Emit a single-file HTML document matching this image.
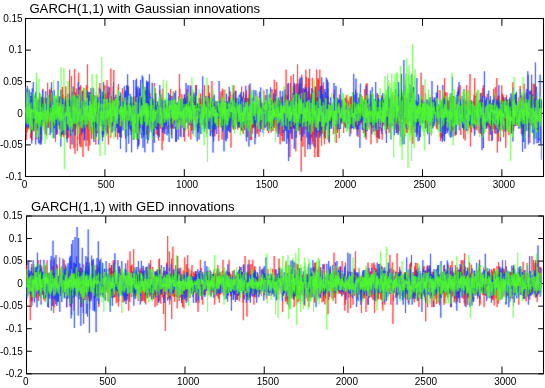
<!DOCTYPE html>
<html><head><meta charset="utf-8"><style>
html,body{margin:0;padding:0;background:#fff;width:545px;height:388px;overflow:hidden}
svg{display:block}
text{font-family:"Liberation Sans",Arial,Helvetica,sans-serif;font-size:10px;fill:#000}
</style></head><body>
<svg width="545" height="388" viewBox="0 0 545 388">
<rect width="545" height="388" fill="#fff"/>
<rect x="25.50" y="18.50" width="518.00" height="158.00" fill="none" stroke="#000" stroke-width="1.05"/>
<line x1="25.50" y1="176.50" x2="25.50" y2="169.20" stroke="#000" stroke-width="1"/>
<line x1="25.50" y1="18.50" x2="25.50" y2="25.80" stroke="#000" stroke-width="1"/>
<text x="24.60" y="187.60" text-anchor="middle">0</text>
<line x1="104.90" y1="176.50" x2="104.90" y2="169.20" stroke="#000" stroke-width="1"/>
<line x1="104.90" y1="18.50" x2="104.90" y2="25.80" stroke="#000" stroke-width="1"/>
<text x="106.15" y="187.60" text-anchor="middle">500</text>
<line x1="184.30" y1="176.50" x2="184.30" y2="169.20" stroke="#000" stroke-width="1"/>
<line x1="184.30" y1="18.50" x2="184.30" y2="25.80" stroke="#000" stroke-width="1"/>
<text x="187.00" y="187.60" text-anchor="middle">1000</text>
<line x1="263.70" y1="176.50" x2="263.70" y2="169.20" stroke="#000" stroke-width="1"/>
<line x1="263.70" y1="18.50" x2="263.70" y2="25.80" stroke="#000" stroke-width="1"/>
<text x="266.90" y="187.60" text-anchor="middle">1500</text>
<line x1="343.10" y1="176.50" x2="343.10" y2="169.20" stroke="#000" stroke-width="1"/>
<line x1="343.10" y1="18.50" x2="343.10" y2="25.80" stroke="#000" stroke-width="1"/>
<text x="345.30" y="187.60" text-anchor="middle">2000</text>
<line x1="422.50" y1="176.50" x2="422.50" y2="169.20" stroke="#000" stroke-width="1"/>
<line x1="422.50" y1="18.50" x2="422.50" y2="25.80" stroke="#000" stroke-width="1"/>
<text x="424.60" y="187.60" text-anchor="middle">2500</text>
<line x1="501.89" y1="176.50" x2="501.89" y2="169.20" stroke="#000" stroke-width="1"/>
<line x1="501.89" y1="18.50" x2="501.89" y2="25.80" stroke="#000" stroke-width="1"/>
<text x="503.89" y="187.60" text-anchor="middle">3000</text>
<line x1="25.50" y1="18.50" x2="30.80" y2="18.50" stroke="#000" stroke-width="1"/>
<line x1="543.50" y1="18.50" x2="538.20" y2="18.50" stroke="#000" stroke-width="1"/>
<text x="22.70" y="21.80" text-anchor="end">0.15</text>
<line x1="25.50" y1="50.10" x2="30.80" y2="50.10" stroke="#000" stroke-width="1"/>
<line x1="543.50" y1="50.10" x2="538.20" y2="50.10" stroke="#000" stroke-width="1"/>
<text x="22.70" y="53.40" text-anchor="end">0.1</text>
<line x1="25.50" y1="81.70" x2="30.80" y2="81.70" stroke="#000" stroke-width="1"/>
<line x1="543.50" y1="81.70" x2="538.20" y2="81.70" stroke="#000" stroke-width="1"/>
<text x="22.70" y="85.00" text-anchor="end">0.05</text>
<line x1="25.50" y1="113.30" x2="30.80" y2="113.30" stroke="#000" stroke-width="1"/>
<line x1="543.50" y1="113.30" x2="538.20" y2="113.30" stroke="#000" stroke-width="1"/>
<text x="22.70" y="116.60" text-anchor="end">0</text>
<line x1="25.50" y1="144.90" x2="30.80" y2="144.90" stroke="#000" stroke-width="1"/>
<line x1="543.50" y1="144.90" x2="538.20" y2="144.90" stroke="#000" stroke-width="1"/>
<text x="22.70" y="148.20" text-anchor="end">-0.05</text>
<line x1="25.50" y1="176.50" x2="30.80" y2="176.50" stroke="#000" stroke-width="1"/>
<line x1="543.50" y1="176.50" x2="538.20" y2="176.50" stroke="#000" stroke-width="1"/>
<text x="22.70" y="179.80" text-anchor="end">-0.1</text>
<text x="29.4" y="12.8" style="font-size:13.15px">GARCH(1,1) with Gaussian innovations</text>
<rect x="26.50" y="216.00" width="517.00" height="157.80" fill="none" stroke="#000" stroke-width="1.05"/>
<line x1="26.50" y1="373.80" x2="26.50" y2="366.50" stroke="#000" stroke-width="1"/>
<line x1="26.50" y1="216.00" x2="26.50" y2="223.30" stroke="#000" stroke-width="1"/>
<text x="25.90" y="384.90" text-anchor="middle">0</text>
<line x1="105.75" y1="373.80" x2="105.75" y2="366.50" stroke="#000" stroke-width="1"/>
<line x1="105.75" y1="216.00" x2="105.75" y2="223.30" stroke="#000" stroke-width="1"/>
<text x="107.65" y="384.90" text-anchor="middle">500</text>
<line x1="184.99" y1="373.80" x2="184.99" y2="366.50" stroke="#000" stroke-width="1"/>
<line x1="184.99" y1="216.00" x2="184.99" y2="223.30" stroke="#000" stroke-width="1"/>
<text x="188.19" y="384.90" text-anchor="middle">1000</text>
<line x1="264.24" y1="373.80" x2="264.24" y2="366.50" stroke="#000" stroke-width="1"/>
<line x1="264.24" y1="216.00" x2="264.24" y2="223.30" stroke="#000" stroke-width="1"/>
<text x="267.94" y="384.90" text-anchor="middle">1500</text>
<line x1="343.48" y1="373.80" x2="343.48" y2="366.50" stroke="#000" stroke-width="1"/>
<line x1="343.48" y1="216.00" x2="343.48" y2="223.30" stroke="#000" stroke-width="1"/>
<text x="346.83" y="384.90" text-anchor="middle">2000</text>
<line x1="422.73" y1="373.80" x2="422.73" y2="366.50" stroke="#000" stroke-width="1"/>
<line x1="422.73" y1="216.00" x2="422.73" y2="223.30" stroke="#000" stroke-width="1"/>
<text x="425.93" y="384.90" text-anchor="middle">2500</text>
<line x1="501.98" y1="373.80" x2="501.98" y2="366.50" stroke="#000" stroke-width="1"/>
<line x1="501.98" y1="216.00" x2="501.98" y2="223.30" stroke="#000" stroke-width="1"/>
<text x="505.28" y="384.90" text-anchor="middle">3000</text>
<line x1="26.50" y1="216.00" x2="31.80" y2="216.00" stroke="#000" stroke-width="1"/>
<line x1="543.50" y1="216.00" x2="538.20" y2="216.00" stroke="#000" stroke-width="1"/>
<text x="22.70" y="219.30" text-anchor="end">0.15</text>
<line x1="26.50" y1="238.54" x2="31.80" y2="238.54" stroke="#000" stroke-width="1"/>
<line x1="543.50" y1="238.54" x2="538.20" y2="238.54" stroke="#000" stroke-width="1"/>
<text x="22.70" y="241.84" text-anchor="end">0.1</text>
<line x1="26.50" y1="261.09" x2="31.80" y2="261.09" stroke="#000" stroke-width="1"/>
<line x1="543.50" y1="261.09" x2="538.20" y2="261.09" stroke="#000" stroke-width="1"/>
<text x="22.70" y="264.39" text-anchor="end">0.05</text>
<line x1="26.50" y1="283.63" x2="31.80" y2="283.63" stroke="#000" stroke-width="1"/>
<line x1="543.50" y1="283.63" x2="538.20" y2="283.63" stroke="#000" stroke-width="1"/>
<text x="22.70" y="286.93" text-anchor="end">0</text>
<line x1="26.50" y1="306.17" x2="31.80" y2="306.17" stroke="#000" stroke-width="1"/>
<line x1="543.50" y1="306.17" x2="538.20" y2="306.17" stroke="#000" stroke-width="1"/>
<text x="22.70" y="309.47" text-anchor="end">-0.05</text>
<line x1="26.50" y1="328.71" x2="31.80" y2="328.71" stroke="#000" stroke-width="1"/>
<line x1="543.50" y1="328.71" x2="538.20" y2="328.71" stroke="#000" stroke-width="1"/>
<text x="22.70" y="332.01" text-anchor="end">-0.1</text>
<line x1="26.50" y1="351.26" x2="31.80" y2="351.26" stroke="#000" stroke-width="1"/>
<line x1="543.50" y1="351.26" x2="538.20" y2="351.26" stroke="#000" stroke-width="1"/>
<text x="22.70" y="354.56" text-anchor="end">-0.15</text>
<line x1="26.50" y1="373.80" x2="31.80" y2="373.80" stroke="#000" stroke-width="1"/>
<line x1="543.50" y1="373.80" x2="538.20" y2="373.80" stroke="#000" stroke-width="1"/>
<text x="22.70" y="377.10" text-anchor="end">-0.2</text>
<text x="30.9" y="210.9" style="font-size:13.15px">GARCH(1,1) with GED innovations</text>
<clipPath id="c1"><rect x="25.0" y="18.5" width="518.5" height="158.0"/></clipPath>
<clipPath id="c2"><rect x="26.0" y="216.0" width="517.5" height="157.8"/></clipPath>
<filter id="bl" x="-1%" y="-5%" width="102%" height="110%" color-interpolation-filters="sRGB"><feConvolveMatrix order="3" kernelMatrix="0.0048 0.0304 0.0048 0.1104 0.6992 0.1104 0.0048 0.0304 0.0048" divisor="1"/></filter>
<g clip-path="url(#c1)"><g filter="url(#bl)" shape-rendering="auto">
<polyline points="25.5,113.3 25.7,124.4 25.8,112.7 26.0,120.1 26.1,111.9 26.3,103.5 26.5,140.0 26.6,116.6 26.8,111.4 26.9,119.7 27.1,132.4 27.2,121.6 27.4,113.6 27.6,114.6 27.7,127.5 27.9,129.6 28.0,119.2 28.2,127.2 28.4,115.3 28.5,106.7 28.7,110.8 28.8,128.4 29.0,104.2 29.2,121.9 29.3,118.8 29.5,104.9 29.6,115.7 29.8,116.7 29.9,116.0 30.1,117.8 30.3,113.6 30.4,100.9 30.6,127.8 30.7,138.2 30.9,111.8 31.1,138.3 31.2,115.4 31.4,106.3 31.5,112.8 31.7,122.2 31.9,112.2 32.0,140.7 32.2,135.7 32.3,103.3 32.5,111.4 32.6,96.2 32.8,115.4 33.0,119.7 33.1,122.1 33.3,114.9 33.4,121.8 33.6,113.2 33.8,131.3 33.9,122.4 34.1,120.8 34.2,116.0 34.4,104.7 34.6,121.6 34.7,115.3 34.9,96.5 35.0,113.7 35.2,105.6 35.3,113.1 35.5,108.5 35.7,103.4 35.8,107.5 36.0,101.8 36.1,126.4 36.3,105.1 36.5,130.4 36.6,125.2 36.8,139.4 36.9,112.8 37.1,125.8 37.3,127.7 37.4,114.0 37.6,122.1 37.7,110.8 37.9,110.2 38.0,102.8 38.2,131.4 38.4,114.3 38.5,99.7 38.7,124.1 38.8,121.9 39.0,112.7 39.2,100.3 39.3,113.9 39.5,107.0 39.6,106.7 39.8,128.5 40.0,125.9 40.1,118.2 40.3,143.0 40.4,112.2 40.6,115.1 40.7,113.4 40.9,117.3 41.1,105.6 41.2,116.3 41.4,96.8 41.5,120.7 41.7,107.4 41.9,126.4 42.0,118.0 42.2,111.7 42.3,122.3 42.5,107.7 42.7,105.6 42.8,113.3 43.0,88.8 43.1,125.1 43.3,124.4 43.4,102.8 43.6,108.2 43.8,121.7 43.9,97.9 44.1,124.0 44.2,115.6 44.4,116.8 44.6,114.2 44.7,106.4 44.9,107.3 45.0,104.1 45.2,134.4 45.3,107.6 45.5,124.0 45.7,115.7 45.8,125.1 46.0,99.7 46.1,114.9 46.3,132.0 46.5,115.5 46.6,135.9 46.8,108.5 46.9,110.4 47.1,104.4 47.3,98.6 47.4,118.0 47.6,82.8 47.7,120.7 47.9,117.3 48.0,101.3 48.2,119.6 48.4,120.3 48.5,127.7 48.7,100.5 48.8,122.0 49.0,118.4 49.2,108.6 49.3,106.3 49.5,113.9 49.6,112.8 49.8,113.9 50.0,129.7 50.1,112.4 50.3,127.4 50.4,108.3 50.6,105.7 50.7,126.8 50.9,90.5 51.1,113.7 51.2,87.5 51.4,127.6 51.5,102.3 51.7,116.8 51.9,106.1 52.0,126.4 52.2,123.0 52.3,118.6 52.5,117.9 52.7,114.6 52.8,113.7 53.0,115.1 53.1,121.2 53.3,124.6 53.4,110.3 53.6,124.8 53.8,110.6 53.9,112.4 54.1,118.0 54.2,111.5 54.4,118.3 54.6,119.7 54.7,110.6 54.9,118.1 55.0,108.1 55.2,108.4 55.4,106.2 55.5,141.9 55.7,101.8 55.8,102.0 56.0,107.8 56.1,119.7 56.3,110.7 56.5,114.6 56.6,121.0 56.8,112.2 56.9,113.9 57.1,101.4 57.3,108.4 57.4,106.4 57.6,134.2 57.7,127.4 57.9,103.3 58.1,113.5 58.2,114.7 58.4,96.0 58.5,110.1 58.7,113.7 58.8,115.2 59.0,97.5 59.2,124.9 59.3,105.2 59.5,123.6 59.6,129.0 59.8,107.1 60.0,115.8 60.1,123.1 60.3,105.6 60.4,112.4 60.6,111.1 60.8,117.7 60.9,90.0 61.1,95.0 61.2,112.0 61.4,136.9 61.5,122.4 61.7,105.7 61.9,124.3 62.0,100.0 62.2,117.6 62.3,134.9 62.5,86.9 62.7,106.8 62.8,117.0 63.0,104.9 63.1,94.6 63.3,135.2 63.5,108.6 63.6,132.2 63.8,117.5 63.9,136.6 64.1,103.0 64.2,137.2 64.4,119.1 64.6,108.3 64.7,114.6 64.9,120.2 65.0,113.6 65.2,99.1 65.4,96.2 65.5,116.7 65.7,114.4 65.8,86.3 66.0,107.6 66.2,115.5 66.3,112.1 66.5,112.3 66.6,138.4 66.8,106.1 66.9,130.1 67.1,120.6 67.3,138.9 67.4,120.6 67.6,94.2 67.7,123.4 67.9,107.7 68.1,114.4 68.2,115.0 68.4,103.0 68.5,106.7 68.7,137.7 68.9,109.2 69.0,111.3 69.2,118.0 69.3,111.7 69.5,125.3 69.6,69.6 69.8,125.8 70.0,121.3 70.1,130.1 70.3,149.0 70.4,117.2 70.6,101.1 70.8,126.8 70.9,134.7 71.1,110.2 71.2,96.6 71.4,76.2 71.6,114.6 71.7,123.6 71.9,113.1 72.0,108.6 72.2,102.2 72.3,109.2 72.5,128.8 72.7,100.3 72.8,117.8 73.0,132.1 73.1,129.7 73.3,130.5 73.5,99.1 73.6,116.6 73.8,111.9 73.9,147.8 74.1,109.9 74.3,101.3 74.4,125.0 74.6,69.0 74.7,95.2 74.9,116.0 75.0,153.8 75.2,92.3 75.4,118.5 75.5,120.0 75.7,123.4 75.8,122.7 76.0,112.8 76.2,95.5 76.3,95.0 76.5,125.5 76.6,88.5 76.8,127.9 77.0,101.1 77.1,102.5 77.3,147.5 77.4,151.0 77.6,106.3 77.7,139.1 77.9,115.5 78.1,96.1 78.2,105.0 78.4,117.4 78.5,126.3 78.7,72.7 78.9,106.5 79.0,108.4 79.2,124.7 79.3,112.3 79.5,143.9 79.7,106.6 79.8,116.8 80.0,146.5 80.1,126.4 80.3,100.4 80.4,118.6 80.6,85.2 80.8,128.1 80.9,99.6 81.1,147.2 81.2,119.7 81.4,135.6 81.6,91.4 81.7,119.2 81.9,123.4 82.0,120.5 82.2,129.2 82.3,123.0 82.5,90.7 82.7,92.3 82.8,115.6 83.0,157.0 83.1,117.0 83.3,116.3 83.5,113.3 83.6,109.2 83.8,100.9 83.9,87.8 84.1,109.6 84.3,132.2 84.4,122.4 84.6,100.4 84.7,133.2 84.9,115.9 85.0,105.4 85.2,115.5 85.4,128.4 85.5,126.4 85.7,110.4 85.8,131.2 86.0,146.5 86.2,100.5 86.3,85.3 86.5,120.6 86.6,92.4 86.8,102.3 87.0,112.3 87.1,112.1 87.3,140.5 87.4,64.3 87.6,122.3 87.7,127.5 87.9,130.8 88.1,104.3 88.2,148.3 88.4,150.9 88.5,120.2 88.7,113.4 88.9,116.0 89.0,109.9 89.2,120.6 89.3,97.6 89.5,115.9 89.7,109.6 89.8,145.6 90.0,100.4 90.1,116.8 90.3,117.1 90.4,116.7 90.6,130.6 90.8,92.5 90.9,104.1 91.1,124.9 91.2,104.2 91.4,96.8 91.6,138.9 91.7,118.9 91.9,126.0 92.0,111.0 92.2,107.6 92.4,119.4 92.5,98.4 92.7,88.0 92.8,110.7 93.0,103.4 93.1,111.4 93.3,109.4 93.5,120.3 93.6,114.7 93.8,99.1 93.9,119.2 94.1,97.8 94.3,95.9 94.4,130.2 94.6,121.8 94.7,95.6 94.9,115.6 95.1,119.6 95.2,132.6 95.4,111.3 95.5,102.0 95.7,119.8 95.8,144.5 96.0,95.7 96.2,127.2 96.3,113.0 96.5,105.8 96.6,99.5 96.8,94.7 97.0,110.4 97.1,108.3 97.3,112.5 97.4,129.2 97.6,133.2 97.8,109.5 97.9,120.4 98.1,116.4 98.2,129.6 98.4,109.0 98.5,107.5 98.7,106.5 98.9,116.8 99.0,139.4 99.2,87.8 99.3,125.0 99.5,102.0 99.7,105.2 99.8,83.0 100.0,122.2 100.1,95.0 100.3,116.2 100.5,112.1 100.6,114.3 100.8,113.8 100.9,116.8 101.1,117.2 101.2,92.1 101.4,125.6 101.6,100.4 101.7,121.0 101.9,104.2 102.0,105.6 102.2,134.7 102.4,115.2 102.5,106.8 102.7,123.4 102.8,102.8 103.0,128.1 103.2,137.2 103.3,125.1 103.5,111.8 103.6,108.0 103.8,112.6 103.9,109.3 104.1,95.6 104.3,114.1 104.4,119.7 104.6,105.0 104.7,109.9 104.9,85.3 105.1,115.6 105.2,93.3 105.4,118.2 105.5,118.1 105.7,95.2 105.9,105.5 106.0,107.2 106.2,102.1 106.3,105.6 106.5,107.8 106.6,120.9 106.8,106.6 107.0,80.0 107.1,114.3 107.3,131.6 107.4,132.9 107.6,114.4 107.8,111.7 107.9,118.3 108.1,92.1 108.2,127.1 108.4,144.5 108.6,117.7 108.7,124.0 108.9,95.5 109.0,114.0 109.2,113.3 109.3,118.8 109.5,87.4 109.7,105.2 109.8,121.3 110.0,127.5 110.1,109.4 110.3,113.1 110.5,117.2 110.6,123.5 110.8,137.6 110.9,68.6 111.1,113.8 111.3,104.2 111.4,96.0 111.6,99.7 111.7,111.0 111.9,124.8 112.0,124.9 112.2,123.8 112.4,121.9 112.5,109.1 112.7,125.5 112.8,101.7 113.0,99.0 113.2,127.0 113.3,86.3 113.5,120.1 113.6,111.6 113.8,70.0 114.0,130.5 114.1,117.2 114.3,118.1 114.4,115.8 114.6,123.8 114.7,118.1 114.9,113.9 115.1,97.2 115.2,102.0 115.4,129.3 115.5,119.3 115.7,137.0 115.9,119.0 116.0,125.1 116.2,105.7 116.3,123.5 116.5,97.8 116.7,109.8 116.8,101.2 117.0,98.5 117.1,111.4 117.3,116.4 117.4,106.0 117.6,139.5 117.8,122.1 117.9,104.7 118.1,133.1 118.2,102.6 118.4,83.9 118.6,117.0 118.7,91.0 118.9,101.3 119.0,98.0 119.2,133.1 119.3,119.3 119.5,120.1 119.7,106.6 119.8,96.1 120.0,101.6 120.1,118.2 120.3,112.2 120.5,130.7 120.6,108.6 120.8,123.2 120.9,135.6 121.1,117.7 121.3,127.5 121.4,137.8 121.6,124.8 121.7,127.7 121.9,110.5 122.0,118.0 122.2,98.7 122.4,91.9 122.5,88.2 122.7,103.2 122.8,98.0 123.0,111.2 123.2,104.4 123.3,118.2 123.5,126.7 123.6,122.5 123.8,108.5 124.0,102.3 124.1,117.3 124.3,110.1 124.4,100.7 124.6,107.7 124.7,111.0 124.9,92.7 125.1,114.4 125.2,117.6 125.4,116.2 125.5,100.7 125.7,107.0 125.9,106.5 126.0,113.5 126.2,106.7 126.3,126.4 126.5,103.3 126.7,103.5 126.8,114.3 127.0,111.8 127.1,108.8 127.3,114.0 127.4,118.9 127.6,108.0 127.8,109.5 127.9,110.3 128.1,85.5 128.2,122.7 128.4,113.9 128.6,127.0 128.7,111.7 128.9,121.8 129.0,108.1 129.2,114.7 129.4,124.7 129.5,105.2 129.7,108.8 129.8,106.6 130.0,103.4 130.1,120.9 130.3,123.5 130.5,120.6 130.6,131.0 130.8,121.4 130.9,103.3 131.1,121.1 131.3,126.2 131.4,108.8 131.6,119.7 131.7,110.4 131.9,111.8 132.1,111.7 132.2,117.4 132.4,122.7 132.5,120.4 132.7,103.7 132.8,104.4 133.0,124.4 133.2,109.8 133.3,104.0 133.5,97.4 133.6,113.3 133.8,103.9 134.0,128.5 134.1,138.4 134.3,117.6 134.4,122.0 134.6,121.8 134.8,117.6 134.9,104.5 135.1,96.2 135.2,124.8 135.4,117.1 135.5,121.1 135.7,123.5 135.9,133.3 136.0,122.2 136.2,86.8 136.3,105.9 136.5,103.4 136.7,116.4 136.8,88.0 137.0,124.7 137.1,139.6 137.3,89.8 137.5,107.6 137.6,101.9 137.8,112.4 137.9,127.3 138.1,127.4 138.2,114.5 138.4,108.3 138.6,100.8 138.7,130.0 138.9,117.5 139.0,144.5 139.2,104.0 139.4,112.4 139.5,106.9 139.7,92.4 139.8,100.9 140.0,122.1 140.2,97.2 140.3,106.6 140.5,96.6 140.6,108.0 140.8,97.7 140.9,128.1 141.1,120.9 141.3,97.1 141.4,122.6 141.6,119.7 141.7,130.5 141.9,111.8 142.1,117.9 142.2,131.4 142.4,112.5 142.5,95.3 142.7,121.8 142.9,129.4 143.0,109.2 143.2,102.5 143.3,116.6 143.5,83.6 143.6,109.1 143.8,103.2 144.0,102.4 144.1,89.7 144.3,130.1 144.4,119.4 144.6,115.3 144.8,112.1 144.9,87.1 145.1,121.5 145.2,109.0 145.4,99.2 145.6,96.8 145.7,106.0 145.9,98.7 146.0,112.1 146.2,134.6 146.3,92.1 146.5,119.4 146.7,127.8 146.8,117.6 147.0,116.0 147.1,116.8 147.3,121.6 147.5,106.8 147.6,118.2 147.8,119.0 147.9,110.8 148.1,100.7 148.3,120.8 148.4,123.2 148.6,111.1 148.7,124.9 148.9,134.9 149.0,109.9 149.2,115.0 149.4,122.7 149.5,101.7 149.7,115.2 149.8,110.2 150.0,93.1 150.2,98.3 150.3,116.8 150.5,106.7 150.6,128.2 150.8,116.6 151.0,118.0 151.1,103.6 151.3,121.1 151.4,118.2 151.6,102.8 151.7,111.0 151.9,126.6 152.1,97.1 152.2,127.0 152.4,112.3 152.5,117.5 152.7,116.8 152.9,103.4 153.0,119.0 153.2,124.7 153.3,135.4 153.5,124.6 153.7,116.0 153.8,109.3 154.0,106.5 154.1,125.8 154.3,116.7 154.4,83.0 154.6,106.8 154.8,120.3 154.9,122.7 155.1,88.0 155.2,128.0 155.4,94.3 155.6,102.3 155.7,101.7 155.9,111.5 156.0,124.5 156.2,134.5 156.3,129.5 156.5,112.5 156.7,124.5 156.8,109.4 157.0,120.3 157.1,114.6 157.3,107.1 157.5,135.5 157.6,112.9 157.8,113.9 157.9,105.3 158.1,109.2 158.3,111.7 158.4,103.8 158.6,140.7 158.7,113.7 158.9,112.0 159.0,120.6 159.2,111.4 159.4,116.6 159.5,136.8 159.7,119.3 159.8,90.1 160.0,117.8 160.2,115.0 160.3,119.0 160.5,128.1 160.6,119.5 160.8,128.6 161.0,112.6 161.1,108.5 161.3,110.6 161.4,108.5 161.6,111.9 161.7,114.7 161.9,105.1 162.1,150.2 162.2,121.7 162.4,115.6 162.5,115.5 162.7,109.7 162.9,88.6 163.0,98.7 163.2,141.2 163.3,105.8 163.5,113.7 163.7,116.6 163.8,126.7 164.0,121.5 164.1,132.6 164.3,128.8 164.4,105.3 164.6,112.0 164.8,124.1 164.9,109.1 165.1,112.3 165.2,112.0 165.4,111.0 165.6,108.2 165.7,108.9 165.9,129.0 166.0,109.6 166.2,121.6 166.4,124.8 166.5,106.3 166.7,110.7 166.8,125.6 167.0,108.1 167.1,119.3 167.3,108.2 167.5,108.4 167.6,109.2 167.8,114.5 167.9,105.0 168.1,127.3 168.3,116.1 168.4,119.5 168.6,123.6 168.7,119.8 168.9,115.8 169.1,126.9 169.2,103.8 169.4,104.7 169.5,100.3 169.7,108.1 169.8,105.5 170.0,101.7 170.2,119.2 170.3,121.6 170.5,88.9 170.6,128.6 170.8,104.8 171.0,121.6 171.1,105.2 171.3,107.0 171.4,134.9 171.6,117.5 171.8,96.0 171.9,99.9 172.1,121.3 172.2,118.5 172.4,107.6 172.5,127.8 172.7,124.3 172.9,128.6 173.0,112.0 173.2,116.0 173.3,91.5 173.5,101.2 173.7,92.3 173.8,115.6 174.0,114.9 174.1,123.3 174.3,99.9 174.5,109.2 174.6,110.9 174.8,119.9 174.9,120.1 175.1,101.7 175.2,101.4 175.4,106.1 175.6,141.4 175.7,114.6 175.9,120.5 176.0,113.8 176.2,103.6 176.4,119.1 176.5,120.3 176.7,123.4 176.8,114.0 177.0,119.1 177.2,113.4 177.3,106.7 177.5,104.8 177.6,119.5 177.8,115.9 177.9,109.5 178.1,110.6 178.3,102.4 178.4,125.6 178.6,96.4 178.7,123.3 178.9,110.7 179.1,109.9 179.2,105.9 179.4,73.9 179.5,108.8 179.7,103.3 179.9,88.8 180.0,104.1 180.2,136.2 180.3,103.3 180.5,121.9 180.6,115.9 180.8,117.1 181.0,101.5 181.1,113.9 181.3,112.4 181.4,119.9 181.6,103.6 181.8,124.6 181.9,94.2 182.1,115.4 182.2,99.6 182.4,119.4 182.6,115.4 182.7,116.4 182.9,102.5 183.0,120.5 183.2,113.1 183.3,128.3 183.5,113.4 183.7,107.1 183.8,104.4 184.0,102.9 184.1,107.5 184.3,94.7 184.5,109.4 184.6,141.4 184.8,113.8 184.9,104.7 185.1,123.7 185.3,114.6 185.4,117.3 185.6,130.5 185.7,107.6 185.9,123.0 186.0,114.3 186.2,113.5 186.4,101.8 186.5,103.4 186.7,114.4 186.8,91.9 187.0,89.1 187.2,107.2 187.3,112.4 187.5,111.8 187.6,112.7 187.8,114.8 188.0,96.4 188.1,100.4 188.3,113.5 188.4,119.3 188.6,136.7 188.7,126.7 188.9,116.4 189.1,112.5 189.2,101.5 189.4,111.7 189.5,124.8 189.7,120.2 189.9,115.9 190.0,113.2 190.2,85.2 190.3,121.3 190.5,111.8 190.7,92.5 190.8,139.6 191.0,106.2 191.1,104.1 191.3,104.0 191.4,130.7 191.6,105.9 191.8,113.0 191.9,119.0 192.1,121.0 192.2,116.5 192.4,105.1 192.6,117.1 192.7,110.4 192.9,114.6 193.0,130.0 193.2,109.6 193.3,103.2 193.5,117.9 193.7,103.7 193.8,117.5 194.0,105.7 194.1,112.8 194.3,101.9 194.5,111.7 194.6,101.8 194.8,116.5 194.9,120.4 195.1,97.1 195.3,116.1 195.4,121.3 195.6,97.3 195.7,110.9 195.9,102.6 196.0,85.3 196.2,122.2 196.4,112.7 196.5,85.2 196.7,107.0 196.8,113.5 197.0,110.2 197.2,108.6 197.3,107.8 197.5,117.5 197.6,109.6 197.8,127.9 198.0,121.9 198.1,128.3 198.3,110.8 198.4,110.7 198.6,123.0 198.7,112.2 198.9,107.8 199.1,119.1 199.2,117.4 199.4,98.3 199.5,104.0 199.7,128.1 199.9,114.2 200.0,118.2 200.2,98.9 200.3,119.2 200.5,93.5 200.7,118.9 200.8,101.4 201.0,126.0 201.1,102.6 201.3,124.4 201.4,98.6 201.6,118.9 201.8,124.5 201.9,122.2 202.1,124.8 202.2,121.1 202.4,89.8 202.6,112.9 202.7,116.5 202.9,114.6 203.0,114.9 203.2,111.4 203.4,123.4 203.5,122.0 203.7,106.2 203.8,113.0 204.0,112.5 204.1,124.8 204.3,124.7 204.5,85.2 204.6,106.4 204.8,109.1 204.9,110.5 205.1,103.1 205.3,125.1 205.4,117.5 205.6,100.8 205.7,108.9 205.9,108.8 206.1,111.8 206.2,120.3 206.4,101.7 206.5,122.3 206.7,111.3 206.8,133.8 207.0,96.4 207.2,127.8 207.3,112.0 207.5,116.6 207.6,102.9 207.8,117.2 208.0,109.6 208.1,120.0 208.3,123.1 208.4,85.2 208.6,104.5 208.8,109.6 208.9,128.1 209.1,118.2 209.2,115.1 209.4,117.5 209.5,92.7 209.7,93.6 209.9,113.3 210.0,118.6 210.2,109.4 210.3,114.6 210.5,121.4 210.7,107.9 210.8,109.0 211.0,113.8 211.1,107.8 211.3,131.8 211.5,103.2 211.6,118.7 211.8,122.5 211.9,81.0 212.1,112.7 212.2,119.7 212.4,107.1 212.6,113.3 212.7,105.6 212.9,118.4 213.0,119.6 213.2,106.4 213.4,122.6 213.5,115.9 213.7,108.3 213.8,113.6 214.0,110.2 214.2,132.4 214.3,102.8 214.5,124.2 214.6,112.1 214.8,106.7 214.9,136.4 215.1,116.2 215.3,105.7 215.4,124.4 215.6,125.9 215.7,100.9 215.9,114.7 216.1,118.4 216.2,106.2 216.4,125.7 216.5,106.6 216.7,111.5 216.9,122.1 217.0,115.0 217.2,125.3 217.3,114.9 217.5,116.0 217.6,119.4 217.8,109.4 218.0,127.4 218.1,117.0 218.3,121.0 218.4,112.8 218.6,120.7 218.8,141.2 218.9,117.4 219.1,111.7 219.2,104.9 219.4,123.5 219.6,115.9 219.7,105.2 219.9,119.9 220.0,104.5 220.2,108.3 220.3,104.2 220.5,116.9 220.7,107.5 220.8,121.3 221.0,91.5 221.1,104.8 221.3,96.2 221.5,118.3 221.6,105.7 221.8,105.7 221.9,116.8 222.1,139.6 222.3,88.7 222.4,106.2 222.6,129.8 222.7,125.8 222.9,108.3 223.0,119.9 223.2,123.5 223.4,121.9 223.5,105.8 223.7,104.0 223.8,107.7 224.0,89.8 224.2,102.7 224.3,123.1 224.5,106.7 224.6,123.1 224.8,117.3 225.0,112.5 225.1,110.2 225.3,106.6 225.4,113.2 225.6,128.3 225.7,140.0 225.9,118.1 226.1,117.8 226.2,110.8 226.4,110.3 226.5,103.0 226.7,117.9 226.9,124.5 227.0,109.2 227.2,110.3 227.3,113.8 227.5,116.2 227.7,118.4 227.8,107.0 228.0,106.1 228.1,109.9 228.3,119.5 228.4,96.6 228.6,117.8 228.8,112.3 228.9,106.9 229.1,101.0 229.2,97.1 229.4,132.5 229.6,114.3 229.7,126.2 229.9,101.3 230.0,107.0 230.2,91.5 230.3,117.9 230.5,113.5 230.7,101.7 230.8,119.8 231.0,147.8 231.1,134.9 231.3,125.9 231.5,111.3 231.6,117.8 231.8,113.3 231.9,121.7 232.1,117.3 232.3,99.8 232.4,117.7 232.6,116.7 232.7,115.7 232.9,94.1 233.0,118.2 233.2,114.5 233.4,93.5 233.5,105.2 233.7,129.9 233.8,85.4 234.0,126.2 234.2,102.6 234.3,121.0 234.5,126.6 234.6,126.1 234.8,121.0 235.0,99.9 235.1,115.8 235.3,98.5 235.4,129.0 235.6,91.2 235.7,119.5 235.9,113.1 236.1,113.1 236.2,113.1 236.4,109.2 236.5,112.8 236.7,117.0 236.9,104.3 237.0,124.0 237.2,118.0 237.3,113.5 237.5,98.2 237.7,129.7 237.8,120.1 238.0,110.5 238.1,122.7 238.3,126.9 238.4,115.2 238.6,108.3 238.8,112.8 238.9,111.4 239.1,114.5 239.2,122.2 239.4,124.4 239.6,119.6 239.7,115.3 239.9,113.2 240.0,122.8 240.2,110.8 240.4,116.3 240.5,105.3 240.7,113.5 240.8,118.1 241.0,113.3 241.1,111.2 241.3,119.9 241.5,108.8 241.6,86.6 241.8,110.0 241.9,96.4 242.1,107.1 242.3,115.0 242.4,104.1 242.6,131.7 242.7,98.6 242.9,109.9 243.1,118.2 243.2,134.0 243.4,129.5 243.5,99.8 243.7,93.6 243.8,113.5 244.0,109.6 244.2,106.0 244.3,129.9 244.5,119.6 244.6,98.1 244.8,117.1 245.0,124.1 245.1,111.4 245.3,121.9 245.4,106.4 245.6,109.7 245.8,125.7 245.9,99.5 246.1,94.8 246.2,127.3 246.4,114.7 246.5,90.5 246.7,119.8 246.9,108.2 247.0,102.0 247.2,127.7 247.3,118.4 247.5,137.0 247.7,113.1 247.8,105.2 248.0,123.5 248.1,114.9 248.3,122.1 248.5,98.9 248.6,111.0 248.8,117.7 248.9,96.1 249.1,85.2 249.2,119.3 249.4,95.1 249.6,129.1 249.7,108.1 249.9,102.1 250.0,107.5 250.2,103.1 250.4,140.1 250.5,121.4 250.7,113.7 250.8,116.3 251.0,137.6 251.2,117.6 251.3,117.7 251.5,130.6 251.6,140.2 251.8,103.5 251.9,107.9 252.1,133.6 252.3,123.8 252.4,127.1 252.6,116.5 252.7,127.9 252.9,122.8 253.1,119.5 253.2,121.1 253.4,109.5 253.5,113.1 253.7,128.4 253.9,105.7 254.0,119.9 254.2,119.5 254.3,118.9 254.5,105.8 254.6,125.4 254.8,119.1 255.0,111.8 255.1,111.8 255.3,114.5 255.4,117.9 255.6,104.3 255.8,114.4 255.9,117.1 256.1,115.8 256.2,115.1 256.4,107.3 256.6,107.9 256.7,119.3 256.9,110.9 257.0,133.9 257.2,121.6 257.3,119.9 257.5,132.2 257.7,95.8 257.8,99.4 258.0,120.3 258.1,113.7 258.3,110.3 258.5,109.7 258.6,111.5 258.8,125.5 258.9,136.8 259.1,124.3 259.3,103.2 259.4,107.3 259.6,119.5 259.7,105.7 259.9,102.7 260.0,126.2 260.2,100.3 260.4,114.2 260.5,108.3 260.7,117.2 260.8,99.3 261.0,120.6 261.2,106.1 261.3,129.2 261.5,114.8 261.6,113.6 261.8,103.1 262.0,109.1 262.1,115.8 262.3,115.2 262.4,118.9 262.6,123.6 262.7,108.6 262.9,107.6 263.1,117.0 263.2,123.3 263.4,129.4 263.5,122.9 263.7,126.1 263.9,90.6 264.0,130.0 264.2,105.5 264.3,115.0 264.5,106.6 264.7,117.5 264.8,103.5 265.0,113.6 265.1,109.6 265.3,113.9 265.4,97.7 265.6,95.2 265.8,112.7 265.9,107.1 266.1,116.7 266.2,116.9 266.4,114.7 266.6,126.1 266.7,116.8 266.9,111.5 267.0,117.9 267.2,105.1 267.3,112.9 267.5,112.9 267.7,120.8 267.8,121.4 268.0,122.2 268.1,116.7 268.3,121.2 268.5,118.0 268.6,133.1 268.8,111.6 268.9,106.8 269.1,128.8 269.3,106.8 269.4,113.1 269.6,120.7 269.7,109.8 269.9,125.9 270.0,126.2 270.2,116.2 270.4,110.5 270.5,120.9 270.7,103.4 270.8,120.3 271.0,103.8 271.2,132.5 271.3,108.7 271.5,115.4 271.6,116.4 271.8,107.0 272.0,89.1 272.1,94.6 272.3,99.9 272.4,104.4 272.6,115.6 272.7,118.4 272.9,114.0 273.1,131.0 273.2,99.1 273.4,102.1 273.5,117.5 273.7,116.6 273.9,114.4 274.0,115.6 274.2,112.8 274.3,79.8 274.5,124.3 274.7,120.4 274.8,127.9 275.0,110.2 275.1,109.2 275.3,100.4 275.4,116.7 275.6,130.7 275.8,99.3 275.9,116.1 276.1,115.3 276.2,105.4 276.4,129.7 276.6,129.3 276.7,82.0 276.9,124.5 277.0,132.5 277.2,103.1 277.4,118.8 277.5,123.0 277.7,105.3 277.8,126.2 278.0,126.5 278.1,126.4 278.3,127.5 278.5,118.3 278.6,111.9 278.8,120.0 278.9,130.4 279.1,128.6 279.3,115.1 279.4,100.2 279.6,115.7 279.7,124.1 279.9,113.6 280.1,144.3 280.2,121.4 280.4,113.2 280.5,99.0 280.7,109.9 280.8,102.2 281.0,107.1 281.2,135.6 281.3,127.4 281.5,96.7 281.6,102.2 281.8,109.8 282.0,123.6 282.1,112.4 282.3,140.3 282.4,109.6 282.6,96.3 282.8,117.2 282.9,141.4 283.1,117.0 283.2,117.2 283.4,115.5 283.5,107.1 283.7,120.3 283.9,117.3 284.0,111.8 284.2,96.1 284.3,113.0 284.5,103.7 284.7,110.7 284.8,128.1 285.0,121.6 285.1,119.1 285.3,104.7 285.5,116.2 285.6,121.1 285.8,94.7 285.9,115.6 286.1,69.6 286.2,96.1 286.4,116.9 286.6,100.3 286.7,100.7 286.9,129.5 287.0,110.7 287.2,115.4 287.4,123.0 287.5,105.7 287.7,119.8 287.8,105.3 288.0,106.2 288.2,109.0 288.3,112.8 288.5,91.2 288.6,115.5 288.8,142.0 288.9,123.3 289.1,128.7 289.3,123.8 289.4,111.6 289.6,123.3 289.7,124.8 289.9,157.0 290.1,114.9 290.2,128.5 290.4,83.1 290.5,98.7 290.7,86.6 290.9,113.4 291.0,76.0 291.2,95.4 291.3,104.0 291.5,98.2 291.6,128.7 291.8,127.0 292.0,127.4 292.1,107.3 292.3,139.2 292.4,117.3 292.6,106.0 292.8,117.3 292.9,106.0 293.1,105.1 293.2,126.6 293.4,73.9 293.6,107.3 293.7,128.1 293.9,119.4 294.0,113.9 294.2,101.2 294.3,87.7 294.5,125.8 294.7,119.8 294.8,116.8 295.0,95.8 295.1,84.4 295.3,128.2 295.5,100.6 295.6,94.9 295.8,151.4 295.9,107.8 296.1,126.6 296.3,111.8 296.4,89.4 296.6,83.6 296.7,84.8 296.9,111.4 297.0,118.9 297.2,116.5 297.4,78.6 297.5,64.3 297.7,89.9 297.8,130.0 298.0,110.0 298.2,92.7 298.3,109.0 298.5,91.3 298.6,127.5 298.8,118.3 299.0,86.9 299.1,130.6 299.3,127.4 299.4,79.3 299.6,128.3 299.7,104.3 299.9,134.8 300.1,126.6 300.2,111.6 300.4,122.2 300.5,123.5 300.7,101.6 300.9,83.0 301.0,95.3 301.2,171.7 301.3,125.0 301.5,124.9 301.7,74.6 301.8,99.2 302.0,96.1 302.1,123.5 302.3,107.1 302.4,89.3 302.6,120.9 302.8,120.6 302.9,146.6 303.1,108.7 303.2,101.6 303.4,117.0 303.6,88.0 303.7,125.6 303.9,107.8 304.0,99.3 304.2,111.9 304.3,89.5 304.5,98.5 304.7,118.3 304.8,113.1 305.0,157.0 305.1,110.2 305.3,84.7 305.5,115.0 305.6,112.7 305.8,69.6 305.9,129.4 306.1,114.8 306.3,122.9 306.4,119.0 306.6,118.8 306.7,76.9 306.9,99.7 307.0,110.4 307.2,98.6 307.4,110.9 307.5,110.0 307.7,102.8 307.8,91.6 308.0,114.3 308.2,130.2 308.3,89.4 308.5,85.8 308.6,78.2 308.8,108.6 309.0,105.9 309.1,88.9 309.3,119.5 309.4,111.8 309.6,69.0 309.7,125.8 309.9,145.4 310.1,133.5 310.2,99.9 310.4,131.0 310.5,139.6 310.7,117.5 310.9,93.8 311.0,114.1 311.2,108.9 311.3,99.0 311.5,137.4 311.7,128.2 311.8,98.3 312.0,113.1 312.1,144.4 312.3,113.1 312.4,77.7 312.6,141.3 312.8,117.0 312.9,89.5 313.1,126.3 313.2,109.4 313.4,114.2 313.6,97.9 313.7,102.8 313.9,101.3 314.0,118.8 314.2,115.1 314.4,133.9 314.5,135.2 314.7,86.6 314.8,157.4 315.0,102.2 315.1,122.4 315.3,115.5 315.5,147.8 315.6,91.2 315.8,108.5 315.9,131.1 316.1,121.8 316.3,98.0 316.4,98.8 316.6,120.1 316.7,69.6 316.9,116.6 317.1,121.5 317.2,100.6 317.4,156.8 317.5,135.9 317.7,111.6 317.8,110.4 318.0,78.0 318.2,99.6 318.3,79.9 318.5,94.6 318.6,157.0 318.8,144.8 319.0,105.6 319.1,112.7 319.3,113.8 319.4,100.2 319.6,106.7 319.8,69.6 319.9,109.1 320.1,114.6 320.2,133.4 320.4,120.0 320.5,128.9 320.7,87.5 320.9,126.8 321.0,109.5 321.2,107.6 321.3,99.5 321.5,145.7 321.7,85.3 321.8,133.2 322.0,85.8 322.1,104.8 322.3,133.8 322.5,129.5 322.6,121.5 322.8,108.9 322.9,96.7 323.1,130.2 323.2,130.2 323.4,82.2 323.6,118.5 323.7,99.3 323.9,112.8 324.0,124.7 324.2,98.2 324.4,144.3 324.5,117.3 324.7,118.1 324.8,112.8 325.0,115.7 325.2,105.8 325.3,119.7 325.5,138.3 325.6,101.8 325.8,101.1 325.9,97.2 326.1,99.6 326.3,111.5 326.4,117.4 326.6,108.6 326.7,107.2 326.9,111.3 327.1,106.8 327.2,126.2 327.4,112.1 327.5,118.7 327.7,123.1 327.9,88.4 328.0,126.8 328.2,100.3 328.3,96.5 328.5,105.9 328.6,105.2 328.8,126.8 329.0,121.4 329.1,140.6 329.3,131.7 329.4,143.2 329.6,115.4 329.8,116.3 329.9,102.7 330.1,111.9 330.2,121.8 330.4,123.8 330.6,116.7 330.7,111.8 330.9,105.4 331.0,110.2 331.2,115.5 331.3,107.4 331.5,120.5 331.7,109.5 331.8,107.6 332.0,105.8 332.1,117.2 332.3,105.7 332.5,105.0 332.6,116.5 332.8,114.6 332.9,116.3 333.1,113.5 333.3,105.9 333.4,134.1 333.6,94.6 333.7,98.6 333.9,97.9 334.0,106.9 334.2,118.3 334.4,89.9 334.5,119.4 334.7,117.7 334.8,119.9 335.0,105.3 335.2,114.1 335.3,134.0 335.5,110.5 335.6,126.8 335.8,104.2 336.0,116.5 336.1,124.6 336.3,143.0 336.4,127.6 336.6,115.8 336.7,125.7 336.9,110.7 337.1,113.9 337.2,102.6 337.4,115.3 337.5,132.7 337.7,116.6 337.9,121.1 338.0,129.5 338.2,122.2 338.3,112.5 338.5,108.1 338.7,119.3 338.8,119.6 339.0,116.2 339.1,100.8 339.3,138.3 339.4,94.6 339.6,107.0 339.8,118.1 339.9,105.1 340.1,124.0 340.2,101.4 340.4,112.1 340.6,128.6 340.7,116.6 340.9,99.1 341.0,118.7 341.2,112.2 341.3,106.3 341.5,106.9 341.7,107.2 341.8,123.7 342.0,102.6 342.1,103.1 342.3,112.2 342.5,110.1 342.6,112.1 342.8,113.6 342.9,113.1 343.1,104.4 343.3,123.2 343.4,119.6 343.6,133.1 343.7,119.4 343.9,109.6 344.0,116.7 344.2,105.1 344.4,122.5 344.5,125.5 344.7,118.4 344.8,119.4 345.0,127.0 345.2,121.4 345.3,98.2 345.5,111.8 345.6,123.7 345.8,125.7 346.0,113.8 346.1,103.8 346.3,95.2 346.4,111.3 346.6,102.8 346.7,110.3 346.9,102.2 347.1,117.6 347.2,124.3 347.4,98.7 347.5,112.0 347.7,116.1 347.9,103.7 348.0,114.8 348.2,104.3 348.3,100.8 348.5,108.7 348.7,116.2 348.8,117.1 349.0,112.1 349.1,111.1 349.3,111.8 349.4,114.2 349.6,122.3 349.8,117.8 349.9,122.9 350.1,96.4 350.2,117.9 350.4,98.3 350.6,121.0 350.7,123.9 350.9,133.7 351.0,103.0 351.2,106.1 351.4,115.3 351.5,96.3 351.7,107.0 351.8,110.0 352.0,104.3 352.1,115.6 352.3,125.2 352.5,111.5 352.6,111.1 352.8,113.8 352.9,104.8 353.1,120.0 353.3,116.9 353.4,121.2 353.6,114.9 353.7,120.6 353.9,115.5 354.1,125.0 354.2,110.7 354.4,120.3 354.5,110.8 354.7,113.3 354.8,108.7 355.0,120.0 355.2,111.2 355.3,112.6 355.5,113.5 355.6,123.4 355.8,110.2 356.0,126.9 356.1,107.3 356.3,110.4 356.4,116.8 356.6,130.0 356.8,111.5 356.9,118.2 357.1,117.3 357.2,122.6 357.4,109.3 357.5,123.5 357.7,111.8 357.9,118.0 358.0,136.8 358.2,132.1 358.3,123.0 358.5,111.7 358.7,119.3 358.8,126.0 359.0,97.0 359.1,111.4 359.3,111.0 359.5,112.1 359.6,116.5 359.8,125.1 359.9,108.5 360.1,97.1 360.2,119.3 360.4,106.9 360.6,122.6 360.7,120.7 360.9,118.3 361.0,94.3 361.2,107.0 361.4,102.6 361.5,106.9 361.7,123.2 361.8,109.1 362.0,113.2 362.2,129.3 362.3,96.2 362.5,112.9 362.6,100.6 362.8,105.4 362.9,123.6 363.1,125.2 363.3,130.9 363.4,133.2 363.6,101.5 363.7,103.8 363.9,121.8 364.1,114.3 364.2,120.0 364.4,119.1 364.5,132.1 364.7,89.2 364.9,102.1 365.0,98.4 365.2,130.6 365.3,120.2 365.5,133.3 365.6,127.5 365.8,122.2 366.0,101.3 366.1,139.6 366.3,83.6 366.4,110.3 366.6,113.0 366.8,105.6 366.9,116.6 367.1,108.0 367.2,83.4 367.4,108.5 367.6,112.9 367.7,127.1 367.9,118.5 368.0,114.5 368.2,110.8 368.3,113.1 368.5,107.3 368.7,105.3 368.8,106.0 369.0,114.0 369.1,107.1 369.3,109.4 369.5,118.3 369.6,110.7 369.8,115.5 369.9,118.1 370.1,113.2 370.3,122.7 370.4,116.3 370.6,125.0 370.7,103.1 370.9,102.6 371.0,144.3 371.2,124.5 371.4,115.6 371.5,125.4 371.7,127.7 371.8,111.9 372.0,113.2 372.2,119.6 372.3,102.1 372.5,111.8 372.6,121.8 372.8,93.7 373.0,123.1 373.1,106.4 373.3,102.9 373.4,131.5 373.6,121.1 373.7,119.8 373.9,115.1 374.1,108.6 374.2,108.6 374.4,118.4 374.5,106.2 374.7,109.0 374.9,117.5 375.0,109.7 375.2,115.3 375.3,108.8 375.5,101.7 375.7,120.7 375.8,122.6 376.0,110.9 376.1,116.7 376.3,137.4 376.4,100.8 376.6,104.0 376.8,115.6 376.9,119.6 377.1,143.0 377.2,128.8 377.4,124.2 377.6,114.1 377.7,110.6 377.9,112.2 378.0,106.9 378.2,94.6 378.3,97.9 378.5,115.7 378.7,100.8 378.8,138.9 379.0,104.9 379.1,106.7 379.3,115.9 379.5,138.7 379.6,106.1 379.8,105.9 379.9,100.4 380.1,119.6 380.3,124.4 380.4,119.5 380.6,116.9 380.7,112.4 380.9,107.8 381.0,114.7 381.2,101.7 381.4,128.4 381.5,111.2 381.7,115.3 381.8,95.4 382.0,112.5 382.2,139.7 382.3,117.0 382.5,127.0 382.6,96.5 382.8,109.1 383.0,111.3 383.1,122.0 383.3,124.0 383.4,115.0 383.6,111.2 383.7,109.0 383.9,121.6 384.1,121.9 384.2,113.0 384.4,113.7 384.5,119.5 384.7,125.7 384.9,113.6 385.0,104.5 385.2,107.4 385.3,111.9 385.5,115.1 385.7,121.1 385.8,105.0 386.0,133.5 386.1,127.8 386.3,106.7 386.4,94.7 386.6,116.2 386.8,96.8 386.9,102.8 387.1,106.7 387.2,111.2 387.4,121.2 387.6,129.3 387.7,112.8 387.9,105.7 388.0,127.3 388.2,114.4 388.4,98.5 388.5,125.4 388.7,118.2 388.8,126.1 389.0,122.0 389.1,132.8 389.3,110.2 389.5,117.9 389.6,126.7 389.8,124.2 389.9,123.8 390.1,106.9 390.3,127.5 390.4,109.0 390.6,126.0 390.7,106.4 390.9,108.8 391.1,113.2 391.2,106.8 391.4,126.5 391.5,108.9 391.7,110.5 391.8,112.2 392.0,125.5 392.2,116.9 392.3,111.4 392.5,125.5 392.6,120.1 392.8,109.1 393.0,116.0 393.1,104.0 393.3,117.4 393.4,114.7 393.6,123.4 393.8,122.6 393.9,120.8 394.1,102.8 394.2,129.8 394.4,117.6 394.5,95.3 394.7,116.9 394.9,107.7 395.0,115.4 395.2,124.7 395.3,108.9 395.5,97.7 395.7,128.8 395.8,128.8 396.0,122.1 396.1,111.4 396.3,132.9 396.5,110.0 396.6,123.4 396.8,107.9 396.9,104.6 397.1,115.3 397.2,120.5 397.4,124.5 397.6,118.4 397.7,113.6 397.9,111.9 398.0,106.3 398.2,97.9 398.4,133.1 398.5,103.9 398.7,94.5 398.8,101.2 399.0,121.0 399.2,130.8 399.3,110.1 399.5,117.6 399.6,108.7 399.8,114.7 399.9,123.1 400.1,112.9 400.3,96.9 400.4,105.7 400.6,99.7 400.7,119.0 400.9,119.2 401.1,110.7 401.2,128.0 401.4,126.2 401.5,126.2 401.7,118.0 401.9,108.5 402.0,125.0 402.2,102.9 402.3,95.6 402.5,111.0 402.6,117.2 402.8,105.8 403.0,113.7 403.1,134.8 403.3,116.0 403.4,99.3 403.6,99.0 403.8,106.9 403.9,117.3 404.1,108.8 404.2,105.2 404.4,103.0 404.6,108.6 404.7,136.1 404.9,102.0 405.0,118.7 405.2,126.9 405.3,106.1 405.5,103.1 405.7,114.7 405.8,110.3 406.0,115.1 406.1,98.5 406.3,115.3 406.5,105.3 406.6,112.7 406.8,133.0 406.9,123.1 407.1,98.3 407.3,125.7 407.4,132.5 407.6,117.4 407.7,93.6 407.9,100.1 408.0,130.0 408.2,120.8 408.4,116.7 408.5,127.1 408.7,117.4 408.8,119.9 409.0,120.5 409.2,101.7 409.3,103.5 409.5,118.3 409.6,108.9 409.8,121.4 410.0,100.7 410.1,118.6 410.3,100.9 410.4,101.3 410.6,113.8 410.7,130.1 410.9,109.9 411.1,121.2 411.2,130.2 411.4,106.4 411.5,108.4 411.7,100.1 411.9,89.6 412.0,110.7 412.2,118.9 412.3,107.6 412.5,119.9 412.7,115.6 412.8,143.8 413.0,132.6 413.1,104.1 413.3,115.0 413.4,118.6 413.6,102.5 413.8,126.1 413.9,125.1 414.1,112.2 414.2,107.5 414.4,111.1 414.6,132.2 414.7,107.6 414.9,113.1 415.0,122.9 415.2,111.2 415.3,111.7 415.5,115.6 415.7,99.9 415.8,113.1 416.0,105.7 416.1,124.2 416.3,113.5 416.5,108.0 416.6,124.6 416.8,132.8 416.9,121.7 417.1,112.8 417.3,115.7 417.4,134.5 417.6,112.6 417.7,114.7 417.9,109.4 418.0,119.7 418.2,123.3 418.4,115.8 418.5,110.0 418.7,122.9 418.8,112.7 419.0,114.7 419.2,108.4 419.3,126.8 419.5,108.7 419.6,114.6 419.8,110.7 420.0,108.2 420.1,113.0 420.3,107.4 420.4,126.3 420.6,122.1 420.7,107.4 420.9,114.3 421.1,72.7 421.2,104.7 421.4,111.6 421.5,120.0 421.7,119.9 421.9,101.1 422.0,102.6 422.2,108.9 422.3,119.6 422.5,115.5 422.7,107.6 422.8,109.6 423.0,85.2 423.1,120.4 423.3,102.7 423.4,117.2 423.6,122.2 423.8,122.7 423.9,105.8 424.1,111.5 424.2,115.4 424.4,114.4 424.6,119.3 424.7,111.1 424.9,117.7 425.0,123.3 425.2,110.9 425.4,93.2 425.5,122.1 425.7,113.2 425.8,108.3 426.0,110.8 426.1,102.5 426.3,106.3 426.5,125.6 426.6,128.0 426.8,125.2 426.9,108.1 427.1,120.0 427.3,119.7 427.4,125.7 427.6,116.9 427.7,119.2 427.9,122.9 428.1,120.9 428.2,105.0 428.4,106.1 428.5,100.4 428.7,119.9 428.8,101.6 429.0,118.1 429.2,115.0 429.3,113.0 429.5,107.5 429.6,114.6 429.8,126.6 430.0,107.6 430.1,108.6 430.3,120.9 430.4,106.0 430.6,111.5 430.8,107.9 430.9,118.8 431.1,112.9 431.2,118.0 431.4,135.1 431.5,94.1 431.7,104.6 431.9,113.1 432.0,124.6 432.2,126.2 432.3,96.5 432.5,111.6 432.7,115.5 432.8,127.7 433.0,124.5 433.1,112.9 433.3,119.8 433.5,114.1 433.6,105.6 433.8,100.1 433.9,116.1 434.1,100.8 434.2,102.3 434.4,111.9 434.6,122.7 434.7,118.2 434.9,112.5 435.0,118.9 435.2,117.6 435.4,113.4 435.5,110.9 435.7,119.2 435.8,109.2 436.0,105.5 436.2,113.6 436.3,116.9 436.5,125.6 436.6,127.8 436.8,116.9 436.9,129.0 437.1,121.5 437.3,95.6 437.4,129.5 437.6,90.4 437.7,119.7 437.9,106.0 438.1,121.3 438.2,117.5 438.4,119.7 438.5,114.8 438.7,122.4 438.9,122.4 439.0,121.2 439.2,121.5 439.3,109.2 439.5,113.6 439.6,104.9 439.8,103.8 440.0,90.1 440.1,116.3 440.3,114.1 440.4,103.0 440.6,140.9 440.8,112.4 440.9,125.4 441.1,136.8 441.2,113.4 441.4,113.8 441.6,108.4 441.7,100.7 441.9,138.2 442.0,100.8 442.2,115.4 442.3,127.4 442.5,130.7 442.7,97.3 442.8,111.5 443.0,128.8 443.1,97.2 443.3,119.3 443.5,102.0 443.6,121.7 443.8,100.2 443.9,105.0 444.1,136.2 444.3,106.7 444.4,103.7 444.6,78.0 444.7,117.0 444.9,117.2 445.0,120.1 445.2,109.2 445.4,133.8 445.5,92.4 445.7,114.4 445.8,119.4 446.0,130.8 446.2,112.4 446.3,101.3 446.5,116.7 446.6,123.4 446.8,114.5 447.0,92.4 447.1,102.0 447.3,104.2 447.4,101.8 447.6,118.3 447.7,108.5 447.9,117.2 448.1,115.3 448.2,100.6 448.4,121.0 448.5,108.7 448.7,101.7 448.9,101.5 449.0,104.9 449.2,103.5 449.3,103.9 449.5,110.7 449.7,101.9 449.8,112.5 450.0,126.0 450.1,117.9 450.3,104.9 450.4,111.8 450.6,102.0 450.8,99.1 450.9,110.8 451.1,106.1 451.2,105.2 451.4,109.9 451.6,131.0 451.7,93.2 451.9,119.3 452.0,122.4 452.2,96.9 452.3,121.4 452.5,131.2 452.7,112.3 452.8,125.1 453.0,118.6 453.1,111.9 453.3,111.7 453.5,118.8 453.6,119.9 453.8,136.4 453.9,111.8 454.1,114.5 454.3,114.1 454.4,116.6 454.6,108.3 454.7,98.1 454.9,105.1 455.0,96.8 455.2,116.3 455.4,135.5 455.5,122.8 455.7,108.8 455.8,121.3 456.0,115.2 456.2,120.6 456.3,117.2 456.5,120.4 456.6,108.5 456.8,119.6 457.0,111.8 457.1,99.9 457.3,103.6 457.4,112.4 457.6,101.8 457.7,91.1 457.9,101.1 458.1,110.8 458.2,87.1 458.4,97.9 458.5,121.0 458.7,107.4 458.9,116.0 459.0,104.2 459.2,124.4 459.3,111.1 459.5,116.1 459.7,118.6 459.8,114.9 460.0,100.3 460.1,85.2 460.3,111.6 460.4,110.1 460.6,111.1 460.8,135.0 460.9,116.4 461.1,106.6 461.2,112.7 461.4,116.2 461.6,106.7 461.7,107.0 461.9,104.6 462.0,112.0 462.2,114.0 462.4,110.2 462.5,104.3 462.7,118.4 462.8,103.4 463.0,112.0 463.1,115.9 463.3,99.4 463.5,119.2 463.6,138.5 463.8,112.2 463.9,113.4 464.1,106.5 464.3,110.6 464.4,99.4 464.6,105.6 464.7,119.7 464.9,99.3 465.1,140.7 465.2,133.7 465.4,106.2 465.5,104.5 465.7,110.0 465.8,112.6 466.0,118.6 466.2,121.9 466.3,106.3 466.5,121.5 466.6,85.2 466.8,108.1 467.0,108.8 467.1,113.3 467.3,103.8 467.4,121.3 467.6,103.8 467.8,114.9 467.9,100.9 468.1,111.7 468.2,116.8 468.4,126.1 468.5,122.7 468.7,122.8 468.9,108.4 469.0,114.8 469.2,119.9 469.3,127.5 469.5,110.3 469.7,110.6 469.8,115.9 470.0,74.0 470.1,109.6 470.3,136.0 470.5,146.6 470.6,103.0 470.8,107.5 470.9,101.1 471.1,111.6 471.2,104.7 471.4,109.4 471.6,132.3 471.7,114.5 471.9,118.9 472.0,105.3 472.2,112.2 472.4,117.2 472.5,102.9 472.7,111.8 472.8,119.1 473.0,111.9 473.2,112.2 473.3,100.9 473.5,114.7 473.6,128.5 473.8,111.2 473.9,94.9 474.1,108.1 474.3,101.9 474.4,116.3 474.6,121.9 474.7,78.0 474.9,133.8 475.1,111.5 475.2,107.6 475.4,122.6 475.5,113.6 475.7,123.8 475.9,108.8 476.0,110.1 476.2,129.3 476.3,109.9 476.5,93.2 476.6,123.0 476.8,106.3 477.0,129.8 477.1,118.0 477.3,115.6 477.4,104.1 477.6,105.8 477.8,111.7 477.9,114.9 478.1,110.7 478.2,117.5 478.4,111.7 478.6,111.9 478.7,119.0 478.9,114.5 479.0,133.1 479.2,99.9 479.3,117.3 479.5,115.9 479.7,111.3 479.8,106.8 480.0,109.6 480.1,118.3 480.3,93.5 480.5,110.4 480.6,121.7 480.8,133.9 480.9,111.4 481.1,129.7 481.3,113.6 481.4,114.3 481.6,125.4 481.7,123.6 481.9,136.1 482.0,130.0 482.2,114.7 482.4,119.1 482.5,109.8 482.7,105.0 482.8,88.3 483.0,106.8 483.2,92.3 483.3,85.2 483.5,133.2 483.6,117.2 483.8,114.9 484.0,126.9 484.1,106.0 484.3,101.5 484.4,105.8 484.6,118.8 484.7,116.1 484.9,96.4 485.1,120.8 485.2,111.9 485.4,118.1 485.5,116.0 485.7,114.3 485.9,99.9 486.0,117.2 486.2,122.6 486.3,114.4 486.5,112.8 486.7,114.3 486.8,127.7 487.0,117.7 487.1,99.1 487.3,93.9 487.4,108.2 487.6,107.1 487.8,120.1 487.9,113.4 488.1,119.3 488.2,106.6 488.4,109.4 488.6,127.4 488.7,123.1 488.9,118.5 489.0,141.1 489.2,102.1 489.3,99.8 489.5,100.8 489.7,103.1 489.8,122.4 490.0,129.6 490.1,113.1 490.3,104.1 490.5,114.5 490.6,106.7 490.8,110.6 490.9,105.7 491.1,127.8 491.3,103.1 491.4,114.6 491.6,141.2 491.7,136.9 491.9,118.4 492.0,111.3 492.2,108.5 492.4,107.7 492.5,111.3 492.7,103.9 492.8,129.8 493.0,110.4 493.2,116.1 493.3,124.1 493.5,120.2 493.6,88.9 493.8,105.5 494.0,129.0 494.1,118.1 494.3,124.7 494.4,112.6 494.6,133.1 494.7,108.4 494.9,119.6 495.1,127.5 495.2,87.3 495.4,114.3 495.5,118.0 495.7,105.2 495.9,111.1 496.0,121.2 496.2,101.4 496.3,106.6 496.5,110.6 496.7,114.2 496.8,78.0 497.0,114.7 497.1,98.5 497.3,152.6 497.4,112.3 497.6,106.9 497.8,110.9 497.9,130.1 498.1,95.9 498.2,110.8 498.4,111.9 498.6,141.4 498.7,115.9 498.9,116.5 499.0,95.6 499.2,116.5 499.4,123.5 499.5,114.0 499.7,108.2 499.8,110.0 500.0,104.3 500.1,118.1 500.3,108.6 500.5,122.9 500.6,128.1 500.8,106.0 500.9,129.7 501.1,124.8 501.3,120.0 501.4,123.0 501.6,110.1 501.7,85.5 501.9,109.9 502.1,116.4 502.2,115.2 502.4,93.6 502.5,110.8 502.7,109.5 502.8,94.7 503.0,131.1 503.2,102.3 503.3,127.6 503.5,111.7 503.6,137.2 503.8,118.5 504.0,131.1 504.1,105.5 504.3,117.6 504.4,98.6 504.6,115.9 504.8,120.9 504.9,110.4 505.1,115.7 505.2,113.7 505.4,106.3 505.5,116.2 505.7,147.8 505.9,138.7 506.0,100.0 506.2,114.0 506.3,122.5 506.5,94.9 506.7,110.3 506.8,123.4 507.0,115.1 507.1,107.8 507.3,131.1 507.5,124.1 507.6,120.0 507.8,113.6 507.9,109.1 508.1,107.9 508.2,115.2 508.4,126.7 508.6,110.8 508.7,119.7 508.9,122.6 509.0,135.1 509.2,125.4 509.4,124.6 509.5,124.8 509.7,120.6 509.8,99.1 510.0,112.6 510.2,114.8 510.3,117.0 510.5,101.8 510.6,115.5 510.8,133.6 510.9,128.8 511.1,117.4 511.3,123.3 511.4,101.2 511.6,102.9 511.7,108.5 511.9,96.1 512.1,129.7 512.2,120.0 512.4,114.1 512.5,102.2 512.7,125.0 512.9,82.3 513.0,96.8 513.2,119.8 513.3,111.4 513.5,110.5 513.6,131.2 513.8,126.0 514.0,98.8 514.1,108.4 514.3,106.1 514.4,125.8 514.6,112.3 514.8,116.6 514.9,125.4 515.1,116.2 515.2,115.2 515.4,111.8 515.6,110.3 515.7,93.4 515.9,123.3 516.0,100.4 516.2,96.6 516.3,100.9 516.5,108.9 516.7,105.9 516.8,101.1 517.0,123.7 517.1,126.0 517.3,119.2 517.5,121.1 517.6,112.1 517.8,123.3 517.9,119.1 518.1,111.4 518.3,115.9 518.4,107.1 518.6,106.1 518.7,110.3 518.9,115.1 519.0,97.5 519.2,107.1 519.4,125.5 519.5,120.9 519.7,95.9 519.8,107.2 520.0,106.9 520.2,85.9 520.3,105.1 520.5,120.4 520.6,118.8 520.8,113.5 521.0,128.5 521.1,108.5 521.3,133.8 521.4,119.7 521.6,117.4 521.7,115.9 521.9,120.8 522.1,120.8 522.2,95.4 522.4,109.1 522.5,121.2 522.7,104.4 522.9,116.9 523.0,99.1 523.2,121.5 523.3,127.7 523.5,118.2 523.7,109.8 523.8,96.1 524.0,101.0 524.1,83.6 524.3,109.8 524.4,105.3 524.6,97.2 524.8,135.4 524.9,103.4 525.1,121.6 525.2,111.8 525.4,121.6 525.6,100.1 525.7,131.4 525.9,117.4 526.0,123.5 526.2,129.1 526.3,100.0 526.5,104.7 526.7,93.3 526.8,100.0 527.0,120.6 527.1,115.2 527.3,111.9 527.5,113.3 527.6,103.3 527.8,113.0 527.9,116.4 528.1,120.6 528.3,111.2 528.4,117.1 528.6,136.8 528.7,105.9 528.9,113.8 529.0,115.9 529.2,100.6 529.4,122.6 529.5,121.9 529.7,109.1 529.8,143.0 530.0,116.6 530.2,125.5 530.3,96.0 530.5,92.0 530.6,123.3 530.8,97.5 531.0,122.8 531.1,91.3 531.3,93.1 531.4,125.3 531.6,111.0 531.7,107.8 531.9,120.6 532.1,115.1 532.2,105.4 532.4,112.6 532.5,95.9 532.7,106.7 532.9,109.8 533.0,110.0 533.2,83.6 533.3,100.7 533.5,128.3 533.7,115.3 533.8,110.4 534.0,110.9 534.1,117.6 534.3,128.0 534.4,123.3 534.6,84.2 534.8,121.0 534.9,116.2 535.1,115.8 535.2,97.2 535.4,109.1 535.6,122.9 535.7,100.9 535.9,107.5 536.0,121.5 536.2,114.4 536.4,131.1 536.5,118.9 536.7,114.5 536.8,127.6 537.0,100.9 537.1,124.1 537.3,119.8 537.5,129.8 537.6,102.1 537.8,130.0 537.9,101.4 538.1,108.3 538.3,112.1 538.4,129.2 538.6,124.5 538.7,107.2 538.9,116.5 539.1,115.2 539.2,123.0 539.4,101.5 539.5,115.5 539.7,122.7 539.8,101.0 540.0,109.7 540.2,119.9 540.3,122.0 540.5,104.8 540.6,106.0 540.8,105.0 541.0,103.3 541.1,106.4 541.3,118.4 541.4,101.4" fill="none" stroke="#ff1818" stroke-width="0.7" stroke-linejoin="miter"/>
<polyline points="25.5,135.1 25.7,107.2 25.8,126.6 26.0,108.8 26.1,106.9 26.3,127.5 26.5,121.9 26.6,119.8 26.8,126.1 26.9,88.5 27.1,104.0 27.2,124.0 27.4,85.9 27.6,99.9 27.7,113.5 27.9,102.7 28.0,89.8 28.2,105.5 28.4,127.3 28.5,104.3 28.7,116.6 28.8,124.8 29.0,100.9 29.2,89.6 29.3,111.8 29.5,114.9 29.6,109.2 29.8,99.8 29.9,123.1 30.1,96.0 30.3,129.8 30.4,102.8 30.6,99.9 30.7,118.4 30.9,96.1 31.1,108.6 31.2,92.0 31.4,110.6 31.5,127.2 31.7,143.6 31.9,104.2 32.0,108.1 32.2,117.7 32.3,88.4 32.5,124.4 32.6,99.8 32.8,122.6 33.0,118.9 33.1,94.4 33.3,82.1 33.4,114.6 33.6,107.4 33.8,125.4 33.9,130.5 34.1,120.7 34.2,98.3 34.4,104.6 34.6,114.4 34.7,120.7 34.9,104.2 35.0,105.7 35.2,109.2 35.3,102.4 35.5,116.6 35.7,144.5 35.8,91.9 36.0,110.8 36.1,115.4 36.3,111.1 36.5,82.1 36.6,125.4 36.8,119.5 36.9,129.6 37.1,125.7 37.3,120.3 37.4,118.5 37.6,127.1 37.7,111.5 37.9,109.3 38.0,99.6 38.2,116.0 38.4,127.0 38.5,103.5 38.7,143.4 38.8,133.5 39.0,138.2 39.2,109.2 39.3,119.9 39.5,95.9 39.6,92.8 39.8,110.9 40.0,144.5 40.1,96.7 40.3,101.4 40.4,103.8 40.6,134.1 40.7,125.7 40.9,104.8 41.1,106.6 41.2,144.5 41.4,113.4 41.5,110.0 41.7,140.7 41.9,99.3 42.0,108.6 42.2,111.1 42.3,121.9 42.5,89.9 42.7,123.4 42.8,119.6 43.0,113.8 43.1,106.6 43.3,117.9 43.4,122.0 43.6,104.5 43.8,109.1 43.9,120.8 44.1,110.1 44.2,111.9 44.4,115.9 44.6,114.1 44.7,106.3 44.9,115.8 45.0,120.9 45.2,120.4 45.3,104.1 45.5,100.0 45.7,91.3 45.8,119.1 46.0,134.1 46.1,109.9 46.3,104.0 46.5,119.3 46.6,130.2 46.8,124.6 46.9,97.8 47.1,127.8 47.3,103.2 47.4,116.5 47.6,121.3 47.7,114.3 47.9,106.3 48.0,107.2 48.2,96.7 48.4,106.7 48.5,110.4 48.7,104.8 48.8,98.6 49.0,104.8 49.2,116.6 49.3,97.6 49.5,89.5 49.6,127.3 49.8,104.5 50.0,135.1 50.1,132.9 50.3,105.7 50.4,113.4 50.6,112.6 50.7,112.8 50.9,131.1 51.1,132.3 51.2,101.5 51.4,127.0 51.5,82.1 51.7,120.1 51.9,107.1 52.0,113.4 52.2,132.3 52.3,126.3 52.5,91.5 52.7,112.2 52.8,99.1 53.0,115.7 53.1,114.4 53.3,117.5 53.4,100.4 53.6,100.9 53.8,128.7 53.9,138.3 54.1,107.6 54.2,89.9 54.4,128.3 54.6,115.6 54.7,111.7 54.9,108.3 55.0,126.2 55.2,106.7 55.4,123.9 55.5,106.6 55.7,113.3 55.8,106.6 56.0,97.8 56.1,107.4 56.3,119.2 56.5,134.8 56.6,99.5 56.8,131.9 56.9,104.3 57.1,115.2 57.3,122.6 57.4,129.2 57.6,119.4 57.7,107.0 57.9,103.5 58.1,81.0 58.2,115.2 58.4,122.3 58.5,115.7 58.7,112.2 58.8,125.5 59.0,121.3 59.2,106.7 59.3,106.8 59.5,106.0 59.6,100.6 59.8,123.1 60.0,96.1 60.1,119.1 60.3,136.1 60.4,98.4 60.6,113.9 60.8,146.6 60.9,118.9 61.1,89.6 61.2,134.7 61.4,115.4 61.5,118.7 61.7,113.1 61.9,122.6 62.0,98.8 62.2,103.3 62.3,118.1 62.5,133.5 62.7,116.8 62.8,102.6 63.0,117.3 63.1,97.9 63.3,122.9 63.5,98.5 63.6,122.0 63.8,115.8 63.9,101.1 64.1,135.0 64.2,112.5 64.4,118.8 64.6,113.8 64.7,131.8 64.9,134.9 65.0,108.1 65.2,109.5 65.4,99.4 65.5,109.1 65.7,112.5 65.8,101.4 66.0,125.9 66.2,112.6 66.3,128.0 66.5,105.8 66.6,109.6 66.8,128.4 66.9,113.6 67.1,142.4 67.3,131.2 67.4,106.9 67.6,117.6 67.7,123.9 67.9,116.2 68.1,106.2 68.2,104.2 68.4,105.0 68.5,103.7 68.7,130.7 68.9,128.0 69.0,99.7 69.2,119.1 69.3,93.6 69.5,111.3 69.6,111.1 69.8,116.5 70.0,108.8 70.1,125.0 70.3,115.8 70.4,135.5 70.6,114.1 70.8,106.8 70.9,100.5 71.1,117.6 71.2,119.3 71.4,99.5 71.6,114.3 71.7,110.8 71.9,91.5 72.0,144.5 72.2,92.2 72.3,132.1 72.5,109.7 72.7,99.4 72.8,128.9 73.0,115.1 73.1,86.6 73.3,109.1 73.5,100.5 73.6,110.1 73.8,120.7 73.9,112.6 74.1,96.8 74.3,113.3 74.4,120.7 74.6,114.8 74.7,96.2 74.9,97.3 75.0,124.4 75.2,135.3 75.4,125.3 75.5,105.6 75.7,95.9 75.8,124.3 76.0,120.8 76.2,112.1 76.3,127.0 76.5,116.2 76.6,126.6 76.8,114.0 77.0,122.8 77.1,96.4 77.3,106.0 77.4,121.6 77.6,117.1 77.7,107.5 77.9,98.1 78.1,98.9 78.2,82.1 78.4,116.1 78.5,117.7 78.7,104.4 78.9,102.7 79.0,108.2 79.2,124.6 79.3,87.2 79.5,109.6 79.7,117.3 79.8,121.0 80.0,111.9 80.1,111.4 80.3,119.2 80.4,101.4 80.6,107.3 80.8,126.3 80.9,107.8 81.1,95.3 81.2,117.0 81.4,120.0 81.6,127.3 81.7,114.1 81.9,133.8 82.0,96.4 82.2,91.5 82.3,107.7 82.5,104.3 82.7,117.1 82.8,131.5 83.0,112.9 83.1,110.3 83.3,122.6 83.5,111.9 83.6,119.3 83.8,120.2 83.9,101.3 84.1,100.3 84.3,140.5 84.4,129.9 84.6,116.5 84.7,139.5 84.9,118.9 85.0,102.8 85.2,115.3 85.4,120.6 85.5,114.4 85.7,109.2 85.8,103.4 86.0,108.3 86.2,101.0 86.3,102.8 86.5,126.5 86.6,101.5 86.8,112.9 87.0,100.7 87.1,121.1 87.3,123.6 87.4,119.3 87.6,121.8 87.7,91.2 87.9,109.2 88.1,95.6 88.2,111.1 88.4,96.3 88.5,116.3 88.7,115.3 88.9,108.3 89.0,92.5 89.2,111.0 89.3,92.1 89.5,100.7 89.7,95.1 89.8,102.3 90.0,111.2 90.1,128.3 90.3,127.9 90.4,107.4 90.6,105.1 90.8,112.5 90.9,109.4 91.1,88.1 91.2,100.2 91.4,100.3 91.6,102.1 91.7,113.1 91.9,110.1 92.0,118.1 92.2,111.8 92.4,119.0 92.5,116.7 92.7,126.1 92.8,111.6 93.0,100.5 93.1,92.1 93.3,115.4 93.5,138.8 93.6,88.2 93.8,125.2 93.9,142.0 94.1,110.1 94.3,96.6 94.4,121.8 94.6,104.9 94.7,123.3 94.9,105.0 95.1,117.7 95.2,127.3 95.4,105.2 95.5,127.6 95.7,107.0 95.8,110.2 96.0,116.5 96.2,120.5 96.3,136.7 96.5,131.6 96.6,123.5 96.8,125.4 97.0,128.1 97.1,96.5 97.3,104.1 97.4,108.3 97.6,99.9 97.8,113.2 97.9,100.2 98.1,118.7 98.2,113.3 98.4,113.4 98.5,109.4 98.7,144.5 98.9,97.3 99.0,106.8 99.2,122.0 99.3,110.3 99.5,120.3 99.7,111.4 99.8,94.8 100.0,105.0 100.1,110.1 100.3,95.3 100.5,88.8 100.6,120.7 100.8,105.6 100.9,96.0 101.1,116.3 101.2,120.5 101.4,125.2 101.6,100.9 101.7,124.0 101.9,118.3 102.0,118.6 102.2,95.8 102.4,141.3 102.5,91.6 102.7,136.8 102.8,113.9 103.0,105.2 103.2,133.5 103.3,122.2 103.5,112.3 103.6,82.1 103.8,121.9 103.9,134.4 104.1,114.8 104.3,116.9 104.4,126.8 104.6,119.4 104.7,107.5 104.9,117.2 105.1,118.2 105.2,108.8 105.4,100.9 105.5,107.9 105.7,131.1 105.9,109.0 106.0,117.1 106.2,114.0 106.3,129.7 106.5,118.4 106.6,109.3 106.8,134.2 107.0,107.0 107.1,118.0 107.3,109.3 107.4,101.0 107.6,106.0 107.8,117.9 107.9,112.0 108.1,86.4 108.2,95.9 108.4,115.8 108.6,111.0 108.7,98.6 108.9,100.4 109.0,107.8 109.2,101.3 109.3,98.7 109.5,94.5 109.7,110.5 109.8,115.9 110.0,114.4 110.1,108.7 110.3,127.8 110.5,120.0 110.6,121.5 110.8,108.3 110.9,131.5 111.1,121.5 111.3,104.5 111.4,117.1 111.6,106.4 111.7,109.7 111.9,113.5 112.0,132.6 112.2,131.7 112.4,117.3 112.5,113.1 112.7,117.7 112.8,122.6 113.0,121.4 113.2,91.3 113.3,90.9 113.5,82.1 113.6,115.8 113.8,103.6 114.0,110.6 114.1,124.5 114.3,108.0 114.4,118.5 114.6,130.4 114.7,112.3 114.9,115.7 115.1,110.1 115.2,97.3 115.4,118.7 115.5,122.9 115.7,132.0 115.9,94.6 116.0,120.7 116.2,119.3 116.3,127.8 116.5,110.5 116.7,113.2 116.8,101.4 117.0,104.5 117.1,102.3 117.3,127.1 117.4,103.1 117.6,119.9 117.8,112.7 117.9,97.0 118.1,124.6 118.2,125.4 118.4,132.8 118.6,105.4 118.7,116.4 118.9,116.1 119.0,114.2 119.2,120.2 119.3,120.0 119.5,106.9 119.7,137.0 119.8,95.9 120.0,106.4 120.1,123.2 120.3,118.1 120.5,149.0 120.6,92.5 120.8,132.4 120.9,112.3 121.1,115.3 121.3,108.3 121.4,118.2 121.6,110.5 121.7,117.0 121.9,118.9 122.0,119.0 122.2,101.1 122.4,110.7 122.5,119.6 122.7,114.5 122.8,113.9 123.0,130.4 123.2,129.9 123.3,102.6 123.5,114.3 123.6,106.3 123.8,119.5 124.0,112.3 124.1,106.2 124.3,86.3 124.4,109.0 124.6,111.1 124.7,102.4 124.9,116.6 125.1,92.9 125.2,117.8 125.4,90.6 125.5,138.6 125.7,102.8 125.9,120.8 126.0,130.6 126.2,152.3 126.3,111.2 126.5,85.2 126.7,116.1 126.8,108.4 127.0,113.8 127.1,116.8 127.3,102.2 127.4,121.6 127.6,74.3 127.8,120.9 127.9,121.4 128.1,129.4 128.2,136.2 128.4,86.9 128.6,111.7 128.7,143.7 128.9,114.1 129.0,114.0 129.2,109.7 129.4,106.5 129.5,104.5 129.7,123.5 129.8,127.4 130.0,129.2 130.1,93.8 130.3,96.3 130.5,128.4 130.6,120.8 130.8,111.0 130.9,106.5 131.1,134.9 131.3,104.5 131.4,96.5 131.6,152.3 131.7,113.8 131.9,117.8 132.1,117.7 132.2,102.5 132.4,117.7 132.5,102.8 132.7,114.9 132.8,121.5 133.0,110.1 133.2,114.3 133.3,117.5 133.5,139.7 133.6,80.0 133.8,138.9 134.0,111.4 134.1,112.9 134.3,120.8 134.4,127.1 134.6,111.9 134.8,126.3 134.9,110.4 135.1,116.6 135.2,104.1 135.4,118.8 135.5,118.2 135.7,120.0 135.9,97.6 136.0,80.0 136.2,112.7 136.3,116.1 136.5,78.5 136.7,120.9 136.8,137.9 137.0,116.9 137.1,137.0 137.3,117.4 137.5,129.8 137.6,149.1 137.8,106.8 137.9,127.2 138.1,86.5 138.2,103.7 138.4,97.7 138.6,146.4 138.7,107.4 138.9,96.6 139.0,131.9 139.2,120.8 139.4,91.4 139.5,88.3 139.7,128.2 139.8,110.4 140.0,92.5 140.2,101.8 140.3,111.3 140.5,79.9 140.6,105.3 140.8,116.5 140.9,99.5 141.1,134.4 141.3,124.1 141.4,110.2 141.6,98.9 141.7,138.3 141.9,135.6 142.1,108.7 142.2,75.3 142.4,84.5 142.5,130.0 142.7,107.5 142.9,77.0 143.0,147.8 143.2,130.2 143.3,95.3 143.5,136.6 143.6,111.0 143.8,112.0 144.0,134.4 144.1,135.2 144.3,120.9 144.4,112.5 144.6,99.7 144.8,152.3 144.9,123.3 145.1,134.5 145.2,122.8 145.4,90.4 145.6,132.5 145.7,113.7 145.9,138.8 146.0,124.3 146.2,108.9 146.3,105.8 146.5,80.5 146.7,118.9 146.8,94.0 147.0,82.3 147.1,119.3 147.3,101.7 147.5,82.3 147.6,143.5 147.8,112.2 147.9,117.8 148.1,81.5 148.3,140.2 148.4,113.9 148.6,102.3 148.7,124.7 148.9,110.3 149.0,90.6 149.2,120.2 149.4,74.3 149.5,92.8 149.7,132.1 149.8,109.7 150.0,106.0 150.2,126.3 150.3,120.1 150.5,96.8 150.6,109.2 150.8,119.7 151.0,103.2 151.1,110.6 151.3,123.2 151.4,106.5 151.6,121.7 151.7,111.6 151.9,132.9 152.1,115.7 152.2,82.7 152.4,105.9 152.5,127.6 152.7,112.3 152.9,152.3 153.0,99.1 153.2,112.7 153.3,121.0 153.5,116.1 153.7,135.7 153.8,109.6 154.0,101.2 154.1,130.9 154.3,143.0 154.4,111.7 154.6,126.2 154.8,107.5 154.9,113.3 155.1,119.0 155.2,101.3 155.4,120.8 155.6,122.3 155.7,93.1 155.9,98.6 156.0,128.3 156.2,110.1 156.3,105.8 156.5,129.4 156.7,110.8 156.8,113.1 157.0,110.1 157.1,108.7 157.3,115.1 157.5,114.7 157.6,101.4 157.8,129.5 157.9,104.2 158.1,114.7 158.3,138.2 158.4,123.1 158.6,121.0 158.7,110.9 158.9,105.4 159.0,122.3 159.2,114.1 159.4,96.3 159.5,98.8 159.7,109.1 159.8,85.2 160.0,117.2 160.2,121.7 160.3,105.4 160.5,124.5 160.6,121.0 160.8,95.0 161.0,120.6 161.1,123.9 161.3,97.8 161.4,110.2 161.6,117.1 161.7,110.3 161.9,121.1 162.1,125.4 162.2,100.0 162.4,109.7 162.5,132.6 162.7,129.1 162.9,117.2 163.0,121.6 163.2,121.0 163.3,119.0 163.5,120.9 163.7,110.4 163.8,101.3 164.0,130.0 164.1,118.3 164.3,100.9 164.4,125.6 164.6,120.8 164.8,111.6 164.9,134.2 165.1,103.7 165.2,115.6 165.4,100.1 165.6,117.4 165.7,105.9 165.9,108.7 166.0,114.3 166.2,114.7 166.4,119.7 166.5,126.3 166.7,115.2 166.8,104.5 167.0,135.4 167.1,123.2 167.3,116.8 167.5,125.2 167.6,115.6 167.8,110.3 167.9,111.3 168.1,127.9 168.3,133.4 168.4,92.8 168.6,98.7 168.7,121.2 168.9,103.5 169.1,142.0 169.2,114.8 169.4,103.7 169.5,109.2 169.7,105.4 169.8,94.7 170.0,116.8 170.2,98.3 170.3,113.2 170.5,100.7 170.6,98.9 170.8,121.5 171.0,127.5 171.1,102.3 171.3,111.8 171.4,109.1 171.6,122.7 171.8,124.1 171.9,138.5 172.1,111.1 172.2,106.4 172.4,99.2 172.5,113.3 172.7,109.8 172.9,114.1 173.0,118.2 173.2,95.7 173.3,112.1 173.5,107.4 173.7,114.5 173.8,113.1 174.0,128.6 174.1,99.3 174.3,93.0 174.5,113.9 174.6,115.9 174.8,113.4 174.9,117.5 175.1,108.3 175.2,116.2 175.4,102.2 175.6,114.8 175.7,90.5 175.9,118.8 176.0,142.0 176.2,123.9 176.4,141.4 176.5,115.5 176.7,128.8 176.8,103.2 177.0,122.4 177.2,107.9 177.3,122.5 177.5,112.6 177.6,113.0 177.8,101.9 177.9,110.5 178.1,130.7 178.3,139.6 178.4,120.9 178.6,106.1 178.7,116.8 178.9,101.9 179.1,116.5 179.2,115.3 179.4,113.8 179.5,113.8 179.7,113.9 179.9,108.4 180.0,119.9 180.2,117.9 180.3,111.8 180.5,123.0 180.6,98.9 180.8,114.2 181.0,137.2 181.1,119.5 181.3,104.2 181.4,109.0 181.6,117.7 181.8,120.2 181.9,101.9 182.1,113.6 182.2,108.3 182.4,109.5 182.6,105.0 182.7,127.4 182.9,115.1 183.0,103.4 183.2,112.1 183.3,123.7 183.5,98.7 183.7,137.0 183.8,113.6 184.0,130.0 184.1,124.3 184.3,102.4 184.5,108.6 184.6,94.6 184.8,121.6 184.9,106.9 185.1,106.1 185.3,117.3 185.4,106.8 185.6,97.6 185.7,119.6 185.9,114.0 186.0,83.0 186.2,103.6 186.4,107.2 186.5,102.6 186.7,117.4 186.8,104.7 187.0,113.8 187.2,122.5 187.3,102.7 187.5,101.7 187.6,113.7 187.8,105.8 188.0,128.6 188.1,85.2 188.3,107.1 188.4,113.8 188.6,110.8 188.7,116.7 188.9,125.4 189.1,115.5 189.2,107.5 189.4,119.2 189.5,105.3 189.7,103.8 189.9,110.1 190.0,123.1 190.2,117.5 190.3,109.5 190.5,97.1 190.7,112.5 190.8,118.3 191.0,86.0 191.1,115.7 191.3,114.3 191.4,114.4 191.6,105.5 191.8,111.4 191.9,96.7 192.1,125.7 192.2,121.3 192.4,111.2 192.6,109.8 192.7,115.9 192.9,107.8 193.0,133.8 193.2,106.6 193.3,104.5 193.5,93.9 193.7,108.3 193.8,116.0 194.0,92.5 194.1,116.0 194.3,118.4 194.5,116.2 194.6,112.0 194.8,114.5 194.9,114.3 195.1,113.0 195.3,113.6 195.4,95.4 195.6,100.8 195.7,127.5 195.9,107.6 196.0,85.2 196.2,106.3 196.4,107.4 196.5,97.4 196.7,111.2 196.8,116.8 197.0,103.4 197.2,141.4 197.3,111.2 197.5,133.1 197.6,103.8 197.8,121.5 198.0,106.1 198.1,123.6 198.3,106.0 198.4,108.4 198.6,131.8 198.7,122.0 198.9,117.6 199.1,139.5 199.2,98.5 199.4,122.4 199.5,105.9 199.7,106.4 199.9,106.0 200.0,122.9 200.2,111.8 200.3,106.8 200.5,106.7 200.7,107.9 200.8,133.9 201.0,116.0 201.1,119.2 201.3,107.7 201.4,110.1 201.6,114.0 201.8,124.3 201.9,116.8 202.1,124.4 202.2,106.5 202.4,115.7 202.6,117.7 202.7,76.3 202.9,110.2 203.0,112.2 203.2,106.3 203.4,111.8 203.5,113.2 203.7,122.9 203.8,110.2 204.0,107.6 204.1,126.8 204.3,114.8 204.5,131.6 204.6,123.5 204.8,114.6 204.9,111.9 205.1,128.8 205.3,113.0 205.4,107.1 205.6,110.0 205.7,122.4 205.9,95.9 206.1,105.2 206.2,107.8 206.4,114.4 206.5,105.4 206.7,110.9 206.8,127.5 207.0,101.0 207.2,111.4 207.3,114.1 207.5,115.6 207.6,118.4 207.8,115.9 208.0,110.5 208.1,119.3 208.3,119.8 208.4,129.0 208.6,110.9 208.8,106.8 208.9,113.7 209.1,96.0 209.2,107.8 209.4,107.6 209.5,106.2 209.7,121.0 209.9,130.1 210.0,118.0 210.2,107.9 210.3,136.3 210.5,114.5 210.7,135.3 210.8,118.7 211.0,115.1 211.1,113.9 211.3,109.2 211.5,127.2 211.6,105.8 211.8,124.7 211.9,101.5 212.1,106.4 212.2,121.4 212.4,111.0 212.6,136.8 212.7,98.8 212.9,122.7 213.0,152.6 213.2,135.5 213.4,96.4 213.5,111.9 213.7,141.4 213.8,104.8 214.0,109.2 214.2,94.6 214.3,129.7 214.5,115.6 214.6,125.0 214.8,123.3 214.9,108.8 215.1,117.3 215.3,129.4 215.4,110.2 215.6,125.8 215.7,113.1 215.9,105.4 216.1,115.0 216.2,122.9 216.4,101.3 216.5,111.2 216.7,134.0 216.9,110.4 217.0,109.5 217.2,106.1 217.3,110.2 217.5,112.7 217.6,116.2 217.8,115.3 218.0,101.1 218.1,116.7 218.3,118.9 218.4,118.7 218.6,107.4 218.8,118.6 218.9,109.3 219.1,81.0 219.2,93.8 219.4,117.3 219.6,108.8 219.7,117.3 219.9,109.2 220.0,113.7 220.2,101.3 220.3,118.1 220.5,125.8 220.7,126.9 220.8,111.5 221.0,123.7 221.1,117.5 221.3,118.8 221.5,94.8 221.6,102.3 221.8,122.4 221.9,115.0 222.1,127.2 222.3,104.2 222.4,106.6 222.6,116.3 222.7,131.4 222.9,118.5 223.0,114.4 223.2,129.6 223.4,114.1 223.5,120.9 223.7,125.5 223.8,125.3 224.0,151.4 224.2,117.1 224.3,119.2 224.5,116.4 224.6,117.2 224.8,118.1 225.0,120.3 225.1,112.8 225.3,101.1 225.4,117.5 225.6,114.4 225.7,104.6 225.9,122.4 226.1,141.4 226.2,120.3 226.4,93.8 226.5,125.5 226.7,113.9 226.9,101.8 227.0,101.9 227.2,107.7 227.3,138.5 227.5,107.7 227.7,126.3 227.8,112.9 228.0,101.0 228.1,130.7 228.3,128.0 228.4,108.8 228.6,114.9 228.8,130.8 228.9,102.6 229.1,119.0 229.2,86.9 229.4,99.3 229.6,127.0 229.7,117.7 229.9,120.5 230.0,98.9 230.2,118.1 230.3,132.3 230.5,113.3 230.7,106.3 230.8,111.9 231.0,113.0 231.1,119.3 231.3,102.8 231.5,104.4 231.6,108.9 231.8,120.2 231.9,120.9 232.1,125.5 232.3,94.7 232.4,102.4 232.6,110.7 232.7,127.8 232.9,105.2 233.0,110.5 233.2,123.6 233.4,110.3 233.5,113.6 233.7,104.1 233.8,124.3 234.0,114.2 234.2,103.7 234.3,121.8 234.5,104.6 234.6,101.2 234.8,100.6 235.0,116.7 235.1,105.1 235.3,91.7 235.4,114.2 235.6,112.9 235.7,92.5 235.9,90.7 236.1,112.2 236.2,119.0 236.4,98.0 236.5,115.2 236.7,111.8 236.9,112.8 237.0,113.8 237.2,119.8 237.3,102.3 237.5,113.4 237.7,122.7 237.8,117.7 238.0,127.8 238.1,101.9 238.3,124.8 238.4,116.2 238.6,113.7 238.8,106.1 238.9,98.7 239.1,118.4 239.2,95.3 239.4,127.6 239.6,115.7 239.7,115.5 239.9,104.3 240.0,107.4 240.2,93.8 240.4,119.3 240.5,100.8 240.7,129.9 240.8,114.4 241.0,120.9 241.1,92.0 241.3,118.0 241.5,130.6 241.6,116.9 241.8,105.8 241.9,116.8 242.1,117.2 242.3,115.4 242.4,117.0 242.6,97.8 242.7,110.9 242.9,122.0 243.1,124.0 243.2,97.5 243.4,127.4 243.5,91.7 243.7,113.8 243.8,116.2 244.0,106.3 244.2,115.5 244.3,123.6 244.5,120.5 244.6,107.7 244.8,116.3 245.0,101.1 245.1,119.2 245.3,130.4 245.4,98.1 245.6,98.9 245.8,85.8 245.9,117.9 246.1,101.9 246.2,123.7 246.4,141.4 246.5,115.4 246.7,110.2 246.9,112.0 247.0,114.9 247.2,101.1 247.3,119.2 247.5,120.5 247.7,122.9 247.8,98.2 248.0,106.2 248.1,111.4 248.3,105.4 248.5,115.7 248.6,124.1 248.8,123.1 248.9,146.6 249.1,104.1 249.2,104.7 249.4,121.0 249.6,123.4 249.7,123.1 249.9,109.4 250.0,83.4 250.2,103.5 250.4,107.0 250.5,97.8 250.7,108.6 250.8,109.5 251.0,110.4 251.2,106.1 251.3,113.5 251.5,126.4 251.6,98.2 251.8,110.9 251.9,109.0 252.1,116.0 252.3,120.9 252.4,108.0 252.6,111.5 252.7,97.7 252.9,105.3 253.1,102.0 253.2,107.8 253.4,104.7 253.5,108.6 253.7,118.5 253.9,89.9 254.0,123.1 254.2,106.6 254.3,127.3 254.5,124.9 254.6,113.5 254.8,113.5 255.0,144.3 255.1,115.8 255.3,106.9 255.4,115.1 255.6,138.0 255.8,111.8 255.9,90.4 256.1,115.3 256.2,103.0 256.4,118.5 256.6,122.4 256.7,100.2 256.9,119.8 257.0,103.7 257.2,105.6 257.3,105.5 257.5,107.2 257.7,119.5 257.8,114.9 258.0,125.0 258.1,106.3 258.3,118.0 258.5,107.2 258.6,127.8 258.8,127.2 258.9,106.2 259.1,101.0 259.3,115.0 259.4,107.7 259.6,108.7 259.7,91.8 259.9,121.4 260.0,110.8 260.2,107.6 260.4,132.0 260.5,117.5 260.7,87.5 260.8,119.5 261.0,121.3 261.2,108.2 261.3,105.7 261.5,115.8 261.6,114.3 261.8,116.4 262.0,114.8 262.1,111.3 262.3,110.5 262.4,112.8 262.6,115.2 262.7,109.0 262.9,104.2 263.1,133.0 263.2,111.5 263.4,112.3 263.5,116.4 263.7,110.6 263.9,107.9 264.0,103.4 264.2,127.0 264.3,118.7 264.5,102.3 264.7,104.6 264.8,115.8 265.0,125.5 265.1,101.1 265.3,128.0 265.4,97.3 265.6,124.4 265.8,121.0 265.9,117.4 266.1,122.4 266.2,115.5 266.4,111.8 266.6,120.7 266.7,111.1 266.9,115.8 267.0,89.0 267.2,115.7 267.3,130.9 267.5,112.9 267.7,111.4 267.8,95.1 268.0,117.5 268.1,107.9 268.3,118.2 268.5,103.9 268.6,121.6 268.8,130.7 268.9,107.6 269.1,125.0 269.3,119.8 269.4,116.7 269.6,94.8 269.7,104.5 269.9,94.2 270.0,118.6 270.2,113.0 270.4,116.2 270.5,87.4 270.7,119.3 270.8,106.5 271.0,112.6 271.2,103.5 271.3,100.1 271.5,127.6 271.6,113.6 271.8,126.2 272.0,112.5 272.1,123.5 272.3,124.6 272.4,111.1 272.6,115.2 272.7,125.7 272.9,115.1 273.1,116.8 273.2,126.6 273.4,127.1 273.5,102.1 273.7,93.5 273.9,96.3 274.0,101.7 274.2,120.0 274.3,108.2 274.5,105.1 274.7,116.4 274.8,112.0 275.0,114.1 275.1,107.7 275.3,89.7 275.4,110.7 275.6,103.6 275.8,125.8 275.9,104.0 276.1,107.4 276.2,105.9 276.4,122.4 276.6,115.4 276.7,112.4 276.9,121.6 277.0,116.4 277.2,106.8 277.4,123.3 277.5,119.7 277.7,102.9 277.8,100.4 278.0,134.2 278.1,137.0 278.3,121.9 278.5,114.2 278.6,97.6 278.8,112.7 278.9,133.7 279.1,101.8 279.3,105.5 279.4,108.3 279.6,114.4 279.7,100.5 279.9,120.6 280.1,107.1 280.2,90.8 280.4,120.3 280.5,117.5 280.7,113.2 280.8,103.0 281.0,125.4 281.2,106.5 281.3,116.4 281.5,114.3 281.6,119.2 281.8,126.8 282.0,112.4 282.1,109.2 282.3,126.9 282.4,109.3 282.6,110.1 282.8,91.1 282.9,106.0 283.1,101.0 283.2,132.7 283.4,105.9 283.5,109.1 283.7,110.6 283.9,113.6 284.0,125.7 284.2,101.9 284.3,141.4 284.5,110.9 284.7,112.7 284.8,89.4 285.0,108.8 285.1,109.4 285.3,128.5 285.5,112.0 285.6,103.5 285.8,131.0 285.9,122.0 286.1,112.2 286.2,105.9 286.4,116.4 286.6,117.0 286.7,143.9 286.9,126.1 287.0,129.7 287.2,122.2 287.4,115.0 287.5,114.7 287.7,95.6 287.8,138.5 288.0,84.1 288.2,125.1 288.3,82.8 288.5,132.6 288.6,161.0 288.8,109.5 288.9,108.2 289.1,105.5 289.3,100.5 289.4,104.1 289.6,112.6 289.7,123.3 289.9,112.2 290.1,119.5 290.2,123.4 290.4,107.7 290.5,102.0 290.7,133.4 290.9,122.3 291.0,104.1 291.2,124.0 291.3,120.5 291.5,96.9 291.6,118.4 291.8,138.5 292.0,100.0 292.1,121.6 292.3,100.7 292.4,97.8 292.6,93.0 292.8,107.3 292.9,101.3 293.1,126.8 293.2,115.2 293.4,109.7 293.6,102.5 293.7,128.4 293.9,102.7 294.0,108.4 294.2,85.6 294.3,148.7 294.5,82.9 294.7,128.9 294.8,100.5 295.0,116.9 295.1,126.2 295.3,105.0 295.5,122.0 295.6,116.5 295.8,109.5 295.9,114.2 296.1,105.7 296.3,137.7 296.4,105.7 296.6,107.5 296.7,120.8 296.9,125.9 297.0,116.2 297.2,126.4 297.4,122.8 297.5,119.7 297.7,111.3 297.8,94.0 298.0,124.6 298.2,130.5 298.3,130.2 298.5,121.0 298.6,116.8 298.8,115.0 299.0,83.5 299.1,121.5 299.3,115.5 299.4,116.9 299.6,118.9 299.7,86.3 299.9,126.9 300.1,104.2 300.2,77.4 300.4,113.6 300.5,126.8 300.7,123.4 300.9,96.4 301.0,120.2 301.2,113.0 301.3,140.7 301.5,140.7 301.7,96.2 301.8,93.3 302.0,77.4 302.1,120.8 302.3,116.1 302.4,104.3 302.6,99.7 302.8,111.7 302.9,136.7 303.1,114.4 303.2,106.1 303.4,114.4 303.6,118.2 303.7,114.9 303.9,109.9 304.0,133.6 304.2,98.9 304.3,126.0 304.5,108.5 304.7,89.4 304.8,114.4 305.0,104.0 305.1,109.1 305.3,87.1 305.5,99.0 305.6,105.4 305.8,95.8 305.9,112.2 306.1,89.9 306.3,87.8 306.4,106.4 306.6,111.4 306.7,111.6 306.9,137.5 307.0,102.9 307.2,97.9 307.4,104.8 307.5,110.0 307.7,146.6 307.8,149.2 308.0,106.5 308.2,104.7 308.3,113.9 308.5,108.3 308.6,111.7 308.8,144.1 309.0,107.8 309.1,86.4 309.3,119.4 309.4,118.4 309.6,121.5 309.7,114.9 309.9,120.8 310.1,149.2 310.2,127.4 310.4,103.0 310.5,101.0 310.7,107.4 310.9,104.8 311.0,98.5 311.2,116.1 311.3,96.5 311.5,122.9 311.7,88.2 311.8,102.7 312.0,126.4 312.1,123.6 312.3,120.5 312.4,92.1 312.6,123.0 312.8,104.4 312.9,113.4 313.1,106.5 313.2,115.4 313.4,99.0 313.6,109.3 313.7,122.2 313.9,146.5 314.0,103.4 314.2,122.4 314.4,104.7 314.5,100.3 314.7,119.5 314.8,102.7 315.0,118.2 315.1,108.5 315.3,107.6 315.5,86.7 315.6,115.8 315.8,120.0 315.9,117.2 316.1,111.0 316.3,115.2 316.4,137.4 316.6,101.9 316.7,121.0 316.9,132.7 317.1,108.7 317.2,105.5 317.4,109.1 317.5,97.2 317.7,114.1 317.8,117.1 318.0,121.9 318.2,131.5 318.3,102.6 318.5,113.6 318.6,113.6 318.8,90.8 319.0,109.8 319.1,112.9 319.3,117.9 319.4,130.5 319.6,109.8 319.8,138.0 319.9,90.2 320.1,135.8 320.2,125.3 320.4,112.7 320.5,108.4 320.7,86.1 320.9,118.8 321.0,107.3 321.2,86.6 321.3,98.4 321.5,130.2 321.7,77.4 321.8,99.3 322.0,111.6 322.1,123.6 322.3,114.2 322.5,108.4 322.6,116.7 322.8,94.0 322.9,116.5 323.1,110.3 323.2,121.7 323.4,115.2 323.6,113.1 323.7,114.6 323.9,136.4 324.0,119.1 324.2,99.2 324.4,121.4 324.5,130.9 324.7,111.6 324.8,89.1 325.0,106.8 325.2,126.0 325.3,118.3 325.5,91.9 325.6,109.8 325.8,129.1 325.9,129.7 326.1,111.6 326.3,77.5 326.4,94.6 326.6,125.8 326.7,105.6 326.9,120.3 327.1,96.6 327.2,107.9 327.4,118.7 327.5,79.7 327.7,99.0 327.9,114.7 328.0,82.0 328.2,136.2 328.3,115.8 328.5,129.6 328.6,120.1 328.8,117.2 329.0,142.0 329.1,115.2 329.3,131.4 329.4,119.8 329.6,124.5 329.8,125.5 329.9,123.9 330.1,119.9 330.2,115.6 330.4,101.4 330.6,97.4 330.7,105.8 330.9,107.2 331.0,128.9 331.2,120.1 331.3,126.7 331.5,128.3 331.7,118.4 331.8,112.8 332.0,120.9 332.1,116.3 332.3,103.8 332.5,104.4 332.6,114.4 332.8,116.8 332.9,114.4 333.1,109.6 333.3,114.4 333.4,119.1 333.6,108.8 333.7,113.0 333.9,111.5 334.0,83.0 334.2,93.0 334.4,117.4 334.5,98.3 334.7,108.1 334.8,115.5 335.0,114.2 335.2,108.2 335.3,126.6 335.5,126.9 335.6,107.7 335.8,111.6 336.0,86.0 336.1,99.6 336.3,101.9 336.4,129.7 336.6,114.7 336.7,111.7 336.9,125.4 337.1,109.3 337.2,97.6 337.4,116.9 337.5,118.1 337.7,125.3 337.9,108.7 338.0,116.0 338.2,114.4 338.3,103.5 338.5,99.2 338.7,100.5 338.8,128.9 339.0,105.7 339.1,100.7 339.3,108.3 339.4,109.7 339.6,114.5 339.8,113.0 339.9,114.6 340.1,116.9 340.2,129.0 340.4,125.5 340.6,127.1 340.7,88.3 340.9,116.6 341.0,114.4 341.2,110.7 341.3,118.7 341.5,111.0 341.7,122.0 341.8,109.3 342.0,100.6 342.1,105.8 342.3,112.5 342.5,116.5 342.6,99.8 342.8,108.4 342.9,107.4 343.1,116.1 343.3,122.7 343.4,110.4 343.6,113.7 343.7,105.5 343.9,109.0 344.0,123.9 344.2,121.2 344.4,114.0 344.5,114.9 344.7,114.9 344.8,106.4 345.0,109.8 345.2,105.7 345.3,128.1 345.5,123.3 345.6,124.6 345.8,104.7 346.0,119.1 346.1,111.9 346.3,106.7 346.4,121.9 346.6,111.6 346.7,116.3 346.9,107.8 347.1,109.6 347.2,128.0 347.4,117.0 347.5,118.5 347.7,106.9 347.9,101.4 348.0,118.6 348.2,116.7 348.3,123.5 348.5,117.3 348.7,123.3 348.8,122.1 349.0,120.7 349.1,114.5 349.3,129.1 349.4,118.2 349.6,126.0 349.8,112.3 349.9,136.4 350.1,108.2 350.2,116.2 350.4,112.0 350.6,117.4 350.7,121.4 350.9,111.6 351.0,119.3 351.2,116.1 351.4,128.4 351.5,109.2 351.7,128.6 351.8,123.7 352.0,115.7 352.1,112.5 352.3,104.9 352.5,106.2 352.6,127.9 352.8,106.8 352.9,104.8 353.1,119.8 353.3,92.2 353.4,123.4 353.6,129.2 353.7,73.9 353.9,122.1 354.1,94.9 354.2,100.7 354.4,117.5 354.5,117.7 354.7,112.3 354.8,113.4 355.0,128.6 355.2,123.2 355.3,126.5 355.5,89.6 355.6,99.8 355.8,103.5 356.0,78.6 356.1,108.9 356.3,103.9 356.4,119.1 356.6,108.0 356.8,114.6 356.9,92.7 357.1,135.7 357.2,107.6 357.4,102.7 357.5,129.4 357.7,116.8 357.9,118.9 358.0,114.6 358.2,114.8 358.3,129.0 358.5,108.5 358.7,107.3 358.8,119.4 359.0,98.6 359.1,113.3 359.3,106.1 359.5,122.6 359.6,116.3 359.8,93.6 359.9,147.8 360.1,105.4 360.2,111.4 360.4,83.6 360.6,120.3 360.7,103.0 360.9,107.2 361.0,111.8 361.2,97.2 361.4,107.1 361.5,122.4 361.7,111.1 361.8,106.8 362.0,120.9 362.2,115.3 362.3,115.7 362.5,130.0 362.6,115.8 362.8,99.4 362.9,107.9 363.1,124.4 363.3,118.7 363.4,120.2 363.6,120.1 363.7,129.2 363.9,116.4 364.1,123.5 364.2,116.4 364.4,117.3 364.5,117.9 364.7,102.4 364.9,131.5 365.0,115.2 365.2,112.3 365.3,137.1 365.5,128.2 365.6,127.7 365.8,113.5 366.0,126.3 366.1,85.7 366.3,121.2 366.4,120.1 366.6,114.5 366.8,109.7 366.9,118.5 367.1,125.0 367.2,131.1 367.4,99.3 367.6,125.8 367.7,106.8 367.9,106.0 368.0,117.3 368.2,112.9 368.3,112.2 368.5,108.1 368.7,112.3 368.8,98.5 369.0,115.0 369.1,111.4 369.3,128.4 369.5,104.7 369.6,112.9 369.8,118.7 369.9,104.9 370.1,106.9 370.3,104.1 370.4,90.5 370.6,105.9 370.7,121.1 370.9,124.7 371.0,110.2 371.2,94.8 371.4,120.8 371.5,114.8 371.7,101.9 371.8,134.2 372.0,113.0 372.2,87.2 372.3,120.0 372.5,113.9 372.6,97.6 372.8,113.8 373.0,127.3 373.1,123.0 373.3,117.6 373.4,125.4 373.6,105.4 373.7,106.2 373.9,104.9 374.1,118.2 374.2,113.5 374.4,127.7 374.5,122.0 374.7,103.5 374.9,131.5 375.0,99.1 375.2,127.6 375.3,118.9 375.5,113.1 375.7,82.0 375.8,108.2 376.0,114.3 376.1,129.7 376.3,109.3 376.4,100.1 376.6,120.7 376.8,103.1 376.9,108.1 377.1,113.4 377.2,93.1 377.4,120.3 377.6,119.1 377.7,132.8 377.9,137.5 378.0,129.2 378.2,116.1 378.3,97.9 378.5,116.5 378.7,99.0 378.8,106.2 379.0,124.0 379.1,111.7 379.3,105.0 379.5,128.5 379.6,107.7 379.8,121.7 379.9,127.6 380.1,118.4 380.3,108.8 380.4,116.5 380.6,103.1 380.7,121.3 380.9,99.5 381.0,106.3 381.2,131.3 381.4,107.8 381.5,125.3 381.7,102.9 381.8,134.1 382.0,97.5 382.2,114.8 382.3,108.3 382.5,102.1 382.6,97.5 382.8,93.3 383.0,109.4 383.1,99.6 383.3,118.5 383.4,105.8 383.6,101.0 383.7,104.7 383.9,125.6 384.1,122.5 384.2,101.6 384.4,110.1 384.5,107.4 384.7,114.3 384.9,98.7 385.0,122.8 385.2,108.7 385.3,103.3 385.5,113.7 385.7,121.3 385.8,101.6 386.0,96.8 386.1,105.2 386.3,113.2 386.4,143.0 386.6,99.0 386.8,121.9 386.9,103.4 387.1,104.2 387.2,111.8 387.4,118.6 387.6,109.6 387.7,126.1 387.9,118.9 388.0,118.9 388.2,110.7 388.4,86.2 388.5,110.7 388.7,96.0 388.8,103.1 389.0,114.2 389.1,117.7 389.3,105.2 389.5,98.7 389.6,123.7 389.8,109.9 389.9,113.6 390.1,124.2 390.3,115.4 390.4,117.2 390.6,125.3 390.7,96.9 390.9,139.5 391.1,98.0 391.2,107.5 391.4,115.8 391.5,105.5 391.7,126.8 391.8,94.9 392.0,123.0 392.2,104.6 392.3,111.9 392.5,105.2 392.6,97.2 392.8,92.4 393.0,108.9 393.1,111.4 393.3,113.8 393.4,105.8 393.6,105.1 393.8,127.9 393.9,113.7 394.1,119.0 394.2,114.9 394.4,135.2 394.5,129.0 394.7,102.4 394.9,119.3 395.0,105.6 395.2,117.7 395.3,105.5 395.5,129.2 395.7,100.6 395.8,89.2 396.0,118.0 396.1,92.0 396.3,100.4 396.5,117.3 396.6,105.4 396.8,132.9 396.9,113.2 397.1,114.6 397.2,111.4 397.4,117.4 397.6,114.7 397.7,107.6 397.9,127.4 398.0,134.9 398.2,94.1 398.4,113.6 398.5,114.6 398.7,82.1 398.8,104.5 399.0,100.6 399.2,118.0 399.3,110.5 399.5,102.9 399.6,109.9 399.8,117.3 399.9,115.7 400.1,109.6 400.3,100.7 400.4,121.0 400.6,124.0 400.7,136.7 400.9,125.8 401.1,129.1 401.2,104.6 401.4,94.0 401.5,73.9 401.7,101.1 401.9,93.2 402.0,126.6 402.2,96.6 402.3,144.5 402.5,110.5 402.6,116.2 402.8,118.5 403.0,124.0 403.1,96.7 403.3,102.8 403.4,106.1 403.6,100.9 403.8,121.8 403.9,60.0 404.1,144.3 404.2,124.7 404.4,112.2 404.6,113.3 404.7,119.6 404.9,92.0 405.0,111.3 405.2,100.7 405.3,85.0 405.5,117.9 405.7,98.7 405.8,114.1 406.0,98.1 406.1,128.8 406.3,120.6 406.5,114.4 406.6,111.6 406.8,103.4 406.9,107.1 407.1,113.8 407.3,114.5 407.4,99.7 407.6,109.1 407.7,115.3 407.9,112.0 408.0,117.0 408.2,122.1 408.4,109.3 408.5,106.3 408.7,101.7 408.8,110.0 409.0,119.6 409.2,104.5 409.3,93.6 409.5,106.6 409.6,109.1 409.8,107.4 410.0,84.3 410.1,109.4 410.3,100.2 410.4,119.9 410.6,124.0 410.7,113.4 410.9,105.9 411.1,102.0 411.2,92.0 411.4,132.7 411.5,115.2 411.7,99.6 411.9,94.2 412.0,74.0 412.2,125.6 412.3,108.1 412.5,120.6 412.7,126.6 412.8,105.2 413.0,115.8 413.1,100.1 413.3,86.7 413.4,117.3 413.6,125.4 413.8,114.5 413.9,87.9 414.1,120.6 414.2,129.2 414.4,101.8 414.6,98.9 414.7,95.3 414.9,132.5 415.0,109.8 415.2,111.0 415.3,124.5 415.5,126.8 415.7,100.0 415.8,123.9 416.0,104.7 416.1,100.7 416.3,136.8 416.5,130.2 416.6,123.4 416.8,108.5 416.9,78.0 417.1,131.4 417.3,117.4 417.4,107.4 417.6,101.9 417.7,117.0 417.9,109.2 418.0,141.4 418.2,115.9 418.4,125.6 418.5,94.3 418.7,116.9 418.8,113.1 419.0,115.4 419.2,115.8 419.3,99.8 419.5,140.5 419.6,118.1 419.8,112.2 420.0,114.5 420.1,114.8 420.3,137.0 420.4,128.1 420.6,112.2 420.7,113.1 420.9,104.5 421.1,108.3 421.2,112.0 421.4,104.7 421.5,122.4 421.7,112.4 421.9,99.6 422.0,121.7 422.2,117.7 422.3,114.8 422.5,124.0 422.7,108.7 422.8,106.7 423.0,110.2 423.1,114.9 423.3,116.7 423.4,108.3 423.6,121.8 423.8,106.3 423.9,114.7 424.1,115.6 424.2,113.2 424.4,110.7 424.6,111.6 424.7,116.0 424.9,116.8 425.0,101.7 425.2,127.7 425.4,128.5 425.5,119.2 425.7,106.5 425.8,108.5 426.0,99.7 426.1,117.9 426.3,107.5 426.5,119.9 426.6,119.5 426.8,117.9 426.9,105.2 427.1,99.4 427.3,111.1 427.4,119.8 427.6,134.1 427.7,118.2 427.9,113.8 428.1,119.3 428.2,106.8 428.4,118.9 428.5,101.7 428.7,116.1 428.8,122.4 429.0,115.5 429.2,126.3 429.3,144.3 429.5,130.7 429.6,111.8 429.8,124.6 430.0,99.2 430.1,97.1 430.3,119.9 430.4,98.7 430.6,112.8 430.8,121.9 430.9,113.9 431.1,125.0 431.2,116.7 431.4,109.9 431.5,111.1 431.7,122.4 431.9,90.9 432.0,81.0 432.2,102.6 432.3,120.1 432.5,126.3 432.7,100.1 432.8,128.5 433.0,126.7 433.1,125.8 433.3,109.2 433.5,111.3 433.6,115.0 433.8,116.3 433.9,110.3 434.1,125.7 434.2,98.1 434.4,111.0 434.6,108.0 434.7,122.9 434.9,97.2 435.0,110.6 435.2,102.4 435.4,106.6 435.5,111.7 435.7,109.3 435.8,103.3 436.0,101.1 436.2,112.6 436.3,92.5 436.5,94.2 436.6,104.2 436.8,121.4 436.9,109.3 437.1,119.7 437.3,111.2 437.4,112.8 437.6,85.2 437.7,121.9 437.9,113.6 438.1,104.4 438.2,118.8 438.4,124.7 438.5,105.8 438.7,116.6 438.9,116.4 439.0,118.0 439.2,113.0 439.3,123.5 439.5,110.8 439.6,106.9 439.8,109.8 440.0,117.3 440.1,118.2 440.3,131.4 440.4,128.9 440.6,102.6 440.8,124.3 440.9,131.4 441.1,122.1 441.2,126.0 441.4,127.5 441.6,100.4 441.7,113.1 441.9,117.8 442.0,118.1 442.2,125.8 442.3,142.0 442.5,95.9 442.7,114.9 442.8,85.2 443.0,140.3 443.1,134.8 443.3,104.1 443.5,108.8 443.6,118.4 443.8,116.1 443.9,99.0 444.1,120.9 444.3,117.9 444.4,102.7 444.6,141.4 444.7,112.1 444.9,121.7 445.0,111.7 445.2,98.6 445.4,130.7 445.5,107.5 445.7,112.6 445.8,134.0 446.0,114.7 446.2,100.0 446.3,116.9 446.5,102.9 446.6,118.4 446.8,115.8 447.0,123.0 447.1,114.1 447.3,118.2 447.4,132.8 447.6,108.6 447.7,99.6 447.9,111.9 448.1,126.8 448.2,110.7 448.4,108.7 448.5,116.6 448.7,120.4 448.9,130.7 449.0,109.1 449.2,123.6 449.3,135.4 449.5,97.3 449.7,116.6 449.8,110.4 450.0,122.8 450.1,117.6 450.3,93.6 450.4,102.2 450.6,137.7 450.8,113.2 450.9,115.1 451.1,123.5 451.2,118.9 451.4,124.1 451.6,112.7 451.7,106.4 451.9,136.9 452.0,107.1 452.2,119.2 452.3,100.7 452.5,76.8 452.7,122.9 452.8,115.2 453.0,100.6 453.1,105.5 453.3,117.8 453.5,96.0 453.6,125.8 453.8,130.1 453.9,97.8 454.1,111.9 454.3,119.6 454.4,102.4 454.6,112.1 454.7,108.1 454.9,102.5 455.0,106.1 455.2,101.3 455.4,122.9 455.5,120.4 455.7,133.8 455.8,103.1 456.0,111.9 456.2,134.9 456.3,119.0 456.5,110.7 456.6,109.2 456.8,124.7 457.0,94.9 457.1,113.7 457.3,119.0 457.4,92.4 457.6,107.8 457.7,117.9 457.9,107.7 458.1,114.6 458.2,120.9 458.4,89.5 458.5,110.7 458.7,122.4 458.9,122.5 459.0,82.0 459.2,130.3 459.3,129.5 459.5,119.0 459.7,107.9 459.8,113.4 460.0,116.4 460.1,99.3 460.3,122.6 460.4,101.3 460.6,121.2 460.8,112.5 460.9,117.5 461.1,118.0 461.2,120.6 461.4,116.0 461.6,108.0 461.7,121.5 461.9,108.4 462.0,122.6 462.2,96.1 462.4,115.7 462.5,127.4 462.7,124.9 462.8,127.9 463.0,113.5 463.1,128.2 463.3,107.3 463.5,130.2 463.6,120.6 463.8,108.5 463.9,119.8 464.1,88.9 464.3,129.1 464.4,109.2 464.6,105.6 464.7,105.4 464.9,117.4 465.1,105.7 465.2,120.5 465.4,118.7 465.5,110.4 465.7,101.2 465.8,125.3 466.0,109.3 466.2,112.1 466.3,121.0 466.5,108.4 466.6,111.9 466.8,131.1 467.0,127.1 467.1,107.5 467.3,113.2 467.4,117.2 467.6,104.6 467.8,101.4 467.9,129.9 468.1,123.6 468.2,113.5 468.4,104.4 468.5,100.2 468.7,110.3 468.9,114.0 469.0,123.8 469.2,122.4 469.3,113.8 469.5,125.0 469.7,110.9 469.8,115.2 470.0,102.4 470.1,108.3 470.3,110.0 470.5,125.2 470.6,107.2 470.8,106.2 470.9,121.1 471.1,113.5 471.2,109.7 471.4,109.7 471.6,100.1 471.7,120.3 471.9,120.4 472.0,106.8 472.2,117.2 472.4,120.2 472.5,123.3 472.7,124.6 472.8,115.8 473.0,126.5 473.2,112.4 473.3,115.6 473.5,127.6 473.6,101.9 473.8,109.6 473.9,124.5 474.1,109.4 474.3,128.6 474.4,135.8 474.6,119.2 474.7,107.4 474.9,127.6 475.1,110.4 475.2,113.3 475.4,120.0 475.5,96.2 475.7,101.6 475.9,112.7 476.0,118.2 476.2,110.4 476.3,119.4 476.5,109.1 476.6,118.9 476.8,108.8 477.0,112.6 477.1,119.6 477.3,123.5 477.4,113.6 477.6,109.2 477.8,111.2 477.9,110.4 478.1,103.5 478.2,102.0 478.4,122.7 478.6,117.1 478.7,102.9 478.9,104.6 479.0,112.0 479.2,114.5 479.3,107.6 479.5,132.4 479.7,108.1 479.8,123.2 480.0,123.6 480.1,132.4 480.3,132.8 480.5,114.2 480.6,108.1 480.8,102.8 480.9,121.9 481.1,92.8 481.3,115.9 481.4,103.8 481.6,110.5 481.7,110.8 481.9,99.5 482.0,150.2 482.2,120.3 482.4,98.4 482.5,96.4 482.7,96.6 482.8,105.3 483.0,129.4 483.2,104.8 483.3,121.9 483.5,148.0 483.6,121.2 483.8,132.9 484.0,104.7 484.1,120.8 484.3,108.2 484.4,71.3 484.6,113.2 484.7,121.7 484.9,117.5 485.1,120.4 485.2,115.5 485.4,123.0 485.5,109.5 485.7,122.4 485.9,128.9 486.0,100.2 486.2,112.3 486.3,125.6 486.5,97.6 486.7,128.5 486.8,104.3 487.0,116.1 487.1,119.0 487.3,101.9 487.4,118.6 487.6,125.7 487.8,122.8 487.9,106.5 488.1,106.2 488.2,122.2 488.4,105.3 488.6,121.8 488.7,90.5 488.9,118.8 489.0,120.3 489.2,111.8 489.3,109.1 489.5,111.4 489.7,116.0 489.8,116.1 490.0,101.0 490.1,114.9 490.3,134.8 490.5,96.3 490.6,107.3 490.8,107.9 490.9,107.4 491.1,125.5 491.3,111.8 491.4,121.7 491.6,116.3 491.7,109.8 491.9,118.2 492.0,108.7 492.2,114.5 492.4,107.2 492.5,140.3 492.7,99.8 492.8,112.4 493.0,103.6 493.2,123.1 493.3,107.0 493.5,110.9 493.6,115.7 493.8,98.8 494.0,122.1 494.1,106.9 494.3,105.4 494.4,124.7 494.6,106.1 494.7,95.7 494.9,118.2 495.1,106.9 495.2,109.5 495.4,116.6 495.5,118.1 495.7,107.3 495.9,134.0 496.0,125.4 496.2,127.1 496.3,129.4 496.5,118.9 496.7,119.2 496.8,99.8 497.0,123.5 497.1,108.4 497.3,118.8 497.4,118.9 497.6,113.3 497.8,103.2 497.9,132.8 498.1,101.1 498.2,113.7 498.4,105.4 498.6,110.2 498.7,115.2 498.9,85.2 499.0,112.6 499.2,117.1 499.4,126.5 499.5,118.2 499.7,117.9 499.8,130.5 500.0,101.6 500.1,115.1 500.3,116.3 500.5,141.4 500.6,117.6 500.8,104.1 500.9,105.2 501.1,113.4 501.3,103.0 501.4,117.8 501.6,106.2 501.7,118.7 501.9,117.9 502.1,103.2 502.2,120.7 502.4,103.6 502.5,115.5 502.7,129.0 502.8,104.7 503.0,118.9 503.2,111.8 503.3,115.7 503.5,102.9 503.6,96.6 503.8,103.3 504.0,104.6 504.1,109.0 504.3,116.1 504.4,113.2 504.6,104.1 504.8,116.5 504.9,116.6 505.1,110.2 505.2,131.7 505.4,111.3 505.5,97.8 505.7,106.5 505.9,97.2 506.0,107.0 506.2,112.6 506.3,109.3 506.5,113.8 506.7,108.9 506.8,118.3 507.0,128.9 507.1,100.5 507.3,100.1 507.5,108.9 507.6,99.6 507.8,103.6 507.9,111.7 508.1,114.3 508.2,112.1 508.4,116.1 508.6,124.8 508.7,125.3 508.9,103.1 509.0,125.2 509.2,118.0 509.4,107.0 509.5,97.7 509.7,110.6 509.8,103.5 510.0,108.9 510.2,124.1 510.3,109.0 510.5,118.0 510.6,118.7 510.8,122.7 510.9,93.3 511.1,122.0 511.3,111.8 511.4,133.3 511.6,119.7 511.7,100.5 511.9,94.3 512.1,115.6 512.2,109.5 512.4,103.9 512.5,110.2 512.7,115.9 512.9,141.4 513.0,104.3 513.2,109.1 513.3,87.8 513.5,111.6 513.6,98.5 513.8,103.6 514.0,110.2 514.1,114.3 514.3,107.4 514.4,94.7 514.6,113.8 514.8,112.3 514.9,110.3 515.1,125.5 515.2,126.2 515.4,112.0 515.6,124.0 515.7,94.1 515.9,110.1 516.0,117.1 516.2,110.5 516.3,110.0 516.5,91.9 516.7,107.5 516.8,105.3 517.0,105.5 517.1,124.2 517.3,116.8 517.5,115.5 517.6,112.8 517.8,123.5 517.9,117.1 518.1,107.6 518.3,107.0 518.4,112.9 518.6,126.2 518.7,128.1 518.9,113.1 519.0,128.7 519.2,123.0 519.4,112.7 519.5,103.0 519.7,116.1 519.8,115.1 520.0,89.1 520.2,125.2 520.3,124.5 520.5,121.1 520.6,111.0 520.8,111.2 521.0,127.1 521.1,122.0 521.3,95.5 521.4,124.8 521.6,98.9 521.7,118.9 521.9,110.7 522.1,116.5 522.2,135.8 522.4,131.5 522.5,151.9 522.7,105.3 522.9,115.8 523.0,133.6 523.2,116.3 523.3,115.7 523.5,112.1 523.7,142.0 523.8,126.5 524.0,124.9 524.1,132.2 524.3,111.8 524.4,124.9 524.6,108.0 524.8,97.8 524.9,93.3 525.1,148.7 525.2,101.6 525.4,101.2 525.6,111.5 525.7,123.8 525.9,105.1 526.0,114.0 526.2,96.9 526.3,106.6 526.5,117.6 526.7,130.5 526.8,89.1 527.0,118.2 527.1,109.1 527.3,111.8 527.5,114.9 527.6,109.8 527.8,71.3 527.9,116.3 528.1,74.7 528.3,94.1 528.4,144.5 528.6,137.8 528.7,125.4 528.9,99.2 529.0,100.2 529.2,106.1 529.4,120.5 529.5,105.9 529.7,90.7 529.8,117.3 530.0,109.8 530.2,100.5 530.3,130.3 530.5,119.6 530.6,108.6 530.8,107.5 531.0,103.2 531.1,99.6 531.3,89.9 531.4,105.9 531.6,74.7 531.7,98.2 531.9,110.3 532.1,108.1 532.2,107.6 532.4,132.8 532.5,108.6 532.7,94.5 532.9,113.8 533.0,121.9 533.2,120.3 533.3,111.4 533.5,119.1 533.7,115.6 533.8,127.3 534.0,144.3 534.1,99.0 534.3,138.6 534.4,129.6 534.6,106.2 534.8,130.3 534.9,126.7 535.1,106.0 535.2,108.6 535.4,62.5 535.6,112.9 535.7,138.3 535.9,100.7 536.0,114.4 536.2,98.0 536.4,86.6 536.5,107.0 536.7,113.9 536.8,140.3 537.0,143.3 537.1,111.7 537.3,124.7 537.5,117.1 537.6,115.0 537.8,99.5 537.9,119.5 538.1,112.6 538.3,110.7 538.4,143.1 538.6,111.6 538.7,101.3 538.9,127.4 539.1,140.5 539.2,126.2 539.4,116.9 539.5,98.8 539.7,116.5 539.8,104.4 540.0,75.4 540.2,74.7 540.3,108.8 540.5,126.1 540.6,145.0 540.8,131.1 541.0,109.0 541.1,105.9 541.3,99.4 541.4,159.8" fill="none" stroke="#1838ff" stroke-width="0.7" stroke-linejoin="miter"/>
<polyline points="25.5,87.2 25.7,112.5 25.8,107.7 26.0,120.2 26.1,123.7 26.3,111.5 26.5,120.4 26.6,120.6 26.8,118.7 26.9,102.2 27.1,113.3 27.2,92.4 27.4,117.4 27.6,96.4 27.7,125.1 27.9,109.7 28.0,94.7 28.2,88.3 28.4,109.5 28.5,113.9 28.7,123.7 28.8,111.4 29.0,105.9 29.2,111.6 29.3,106.5 29.5,127.6 29.6,96.6 29.8,117.6 29.9,103.9 30.1,108.0 30.3,133.2 30.4,108.3 30.6,116.7 30.7,115.6 30.9,125.6 31.1,102.7 31.2,109.6 31.4,129.8 31.5,109.5 31.7,114.9 31.9,109.7 32.0,109.2 32.2,109.5 32.3,111.8 32.5,130.1 32.6,115.4 32.8,109.8 33.0,111.7 33.1,107.1 33.3,92.1 33.4,109.4 33.6,113.3 33.8,118.7 33.9,94.0 34.1,101.6 34.2,108.5 34.4,109.4 34.6,94.5 34.7,113.6 34.9,109.7 35.0,131.4 35.2,102.3 35.3,118.6 35.5,98.0 35.7,120.1 35.8,123.3 36.0,118.2 36.1,111.8 36.3,138.1 36.5,73.0 36.6,123.5 36.8,113.6 36.9,110.8 37.1,123.4 37.3,109.5 37.4,114.2 37.6,105.0 37.7,106.8 37.9,97.3 38.0,111.0 38.2,126.5 38.4,112.0 38.5,122.2 38.7,113.7 38.8,136.9 39.0,78.6 39.2,105.5 39.3,120.2 39.5,139.8 39.6,118.9 39.8,111.6 40.0,120.5 40.1,103.3 40.3,104.5 40.4,123.8 40.6,94.0 40.7,118.3 40.9,126.8 41.1,120.6 41.2,115.5 41.4,112.8 41.5,112.0 41.7,119.8 41.9,106.8 42.0,119.4 42.2,111.5 42.3,111.6 42.5,121.5 42.7,126.3 42.8,127.0 43.0,103.6 43.1,110.6 43.3,117.0 43.4,130.6 43.6,122.6 43.8,109.6 43.9,124.7 44.1,127.0 44.2,113.9 44.4,116.3 44.6,97.2 44.7,99.8 44.9,109.7 45.0,144.0 45.2,106.9 45.3,103.2 45.5,119.3 45.7,104.3 45.8,120.7 46.0,121.4 46.1,116.7 46.3,116.2 46.5,124.5 46.6,110.9 46.8,126.3 46.9,139.1 47.1,109.0 47.3,110.6 47.4,99.9 47.6,119.8 47.7,122.2 47.9,95.6 48.0,119.2 48.2,102.6 48.4,94.9 48.5,116.0 48.7,107.8 48.8,97.3 49.0,109.2 49.2,122.4 49.3,118.9 49.5,116.0 49.6,131.5 49.8,118.1 50.0,111.7 50.1,121.1 50.3,119.6 50.4,118.6 50.6,119.4 50.7,107.5 50.9,115.9 51.1,113.0 51.2,127.6 51.4,113.1 51.5,120.2 51.7,132.5 51.9,92.2 52.0,113.4 52.2,112.9 52.3,138.3 52.5,105.0 52.7,115.1 52.8,105.0 53.0,117.2 53.1,122.7 53.3,118.2 53.4,116.8 53.6,79.8 53.8,115.7 53.9,120.2 54.1,114.9 54.2,109.4 54.4,125.8 54.6,95.9 54.7,100.7 54.9,123.9 55.0,117.1 55.2,95.4 55.4,99.0 55.5,110.2 55.7,113.6 55.8,110.9 56.0,119.3 56.1,102.6 56.3,110.3 56.5,119.4 56.6,118.7 56.8,95.4 56.9,116.1 57.1,106.8 57.3,113.2 57.4,102.5 57.6,117.4 57.7,117.8 57.9,129.6 58.1,115.3 58.2,89.8 58.4,117.9 58.5,107.9 58.7,117.7 58.8,106.5 59.0,122.1 59.2,110.3 59.3,105.6 59.5,117.2 59.6,120.4 59.8,102.6 60.0,112.2 60.1,107.7 60.3,119.5 60.4,138.8 60.6,124.4 60.8,99.6 60.9,119.5 61.1,67.0 61.2,116.2 61.4,120.4 61.5,112.1 61.7,124.7 61.9,131.9 62.0,117.4 62.2,105.5 62.3,111.5 62.5,110.1 62.7,107.6 62.8,121.1 63.0,104.0 63.1,118.3 63.3,130.2 63.5,115.9 63.6,119.0 63.8,114.1 63.9,68.0 64.1,115.8 64.2,114.2 64.4,169.3 64.6,120.6 64.7,127.0 64.9,130.0 65.0,122.2 65.2,112.0 65.4,119.3 65.5,114.6 65.7,124.7 65.8,128.7 66.0,106.3 66.2,109.6 66.3,116.3 66.5,113.5 66.6,111.9 66.8,114.5 66.9,97.6 67.1,105.2 67.3,106.0 67.4,124.5 67.6,117.0 67.7,105.5 67.9,124.0 68.1,81.0 68.2,108.5 68.4,102.4 68.5,117.2 68.7,125.3 68.9,127.4 69.0,107.8 69.2,117.6 69.3,106.3 69.5,114.0 69.6,135.3 69.8,119.2 70.0,116.1 70.1,121.3 70.3,112.1 70.4,126.4 70.6,123.4 70.8,97.5 70.9,119.5 71.1,129.5 71.2,129.1 71.4,119.0 71.6,118.0 71.7,134.1 71.9,120.8 72.0,87.4 72.2,128.8 72.3,123.1 72.5,125.8 72.7,107.6 72.8,109.8 73.0,103.1 73.1,95.4 73.3,106.0 73.5,123.5 73.6,103.7 73.8,114.3 73.9,121.1 74.1,94.8 74.3,99.7 74.4,112.0 74.6,123.7 74.7,115.5 74.9,95.4 75.0,108.6 75.2,113.6 75.4,107.5 75.5,115.4 75.7,124.0 75.8,107.2 76.0,96.5 76.2,101.4 76.3,105.9 76.5,108.4 76.6,118.1 76.8,128.7 77.0,98.3 77.1,121.2 77.3,136.6 77.4,104.4 77.6,106.2 77.7,99.4 77.9,122.2 78.1,107.2 78.2,94.5 78.4,118.6 78.5,120.1 78.7,112.0 78.9,120.5 79.0,133.9 79.2,119.8 79.3,112.2 79.5,96.0 79.7,114.9 79.8,89.9 80.0,107.0 80.1,122.2 80.3,108.6 80.4,121.1 80.6,121.8 80.8,126.7 80.9,126.4 81.1,128.2 81.2,122.9 81.4,126.8 81.6,86.8 81.7,108.5 81.9,121.8 82.0,115.2 82.2,128.4 82.3,121.9 82.5,120.1 82.7,115.9 82.8,124.2 83.0,101.2 83.1,118.5 83.3,119.1 83.5,119.7 83.6,105.3 83.8,110.9 83.9,115.5 84.1,116.4 84.3,88.3 84.4,116.6 84.6,119.9 84.7,122.5 84.9,124.5 85.0,107.2 85.2,127.6 85.4,105.1 85.5,103.9 85.7,120.2 85.8,114.9 86.0,89.9 86.2,119.0 86.3,125.4 86.5,118.2 86.6,116.5 86.8,106.7 87.0,116.2 87.1,98.3 87.3,124.2 87.4,97.4 87.6,109.9 87.7,104.9 87.9,114.9 88.1,119.4 88.2,112.4 88.4,112.7 88.5,120.7 88.7,119.8 88.9,105.5 89.0,105.8 89.2,129.9 89.3,110.1 89.5,101.0 89.7,119.1 89.8,107.7 90.0,121.7 90.1,123.0 90.3,94.0 90.4,112.4 90.6,102.7 90.8,130.9 90.9,124.9 91.1,110.7 91.2,126.9 91.4,112.2 91.6,104.3 91.7,126.4 91.9,108.8 92.0,74.0 92.2,119.0 92.4,108.1 92.5,129.5 92.7,134.5 92.8,117.5 93.0,86.8 93.1,109.8 93.3,121.5 93.5,115.5 93.6,121.5 93.8,102.8 93.9,107.0 94.1,113.4 94.3,96.1 94.4,139.8 94.6,100.0 94.7,113.6 94.9,112.0 95.1,97.6 95.2,121.8 95.4,112.5 95.5,108.5 95.7,116.3 95.8,108.6 96.0,91.8 96.2,107.0 96.3,111.8 96.5,109.8 96.6,74.0 96.8,102.7 97.0,123.5 97.1,113.7 97.3,131.4 97.4,115.7 97.6,117.1 97.8,121.4 97.9,115.4 98.1,102.5 98.2,114.0 98.4,111.5 98.5,104.8 98.7,115.2 98.9,139.5 99.0,100.4 99.2,107.8 99.3,106.2 99.5,92.9 99.7,112.9 99.8,132.0 100.0,156.0 100.1,129.3 100.3,116.5 100.5,118.8 100.6,111.8 100.8,126.0 100.9,105.8 101.1,103.4 101.2,113.3 101.4,110.3 101.6,124.7 101.7,57.0 101.9,106.6 102.0,104.5 102.2,120.4 102.4,111.7 102.5,115.0 102.7,118.4 102.8,131.1 103.0,107.9 103.2,104.1 103.3,120.6 103.5,119.2 103.6,98.9 103.8,99.6 103.9,123.1 104.1,124.8 104.3,104.4 104.4,107.5 104.6,90.6 104.7,106.1 104.9,128.7 105.1,155.0 105.2,110.5 105.4,118.6 105.5,119.2 105.7,116.5 105.9,99.0 106.0,106.7 106.2,136.2 106.3,107.1 106.5,100.1 106.6,99.2 106.8,118.5 107.0,119.5 107.1,114.0 107.3,117.4 107.4,114.6 107.6,98.7 107.8,117.0 107.9,110.8 108.1,125.3 108.2,109.7 108.4,118.1 108.6,118.2 108.7,102.6 108.9,107.7 109.0,115.4 109.2,129.3 109.3,108.4 109.5,106.9 109.7,95.0 109.8,115.6 110.0,103.1 110.1,98.2 110.3,113.4 110.5,107.8 110.6,136.3 110.8,102.4 110.9,131.5 111.1,106.7 111.3,120.8 111.4,123.3 111.6,113.1 111.7,118.8 111.9,103.9 112.0,109.3 112.2,113.7 112.4,121.9 112.5,113.9 112.7,100.5 112.8,110.0 113.0,99.5 113.2,115.8 113.3,114.5 113.5,115.3 113.6,102.2 113.8,128.9 114.0,122.2 114.1,138.7 114.3,128.8 114.4,100.4 114.6,116.1 114.7,107.3 114.9,130.2 115.1,133.1 115.2,108.5 115.4,98.1 115.5,127.0 115.7,108.0 115.9,106.7 116.0,120.8 116.2,112.9 116.3,116.6 116.5,98.0 116.7,118.4 116.8,115.6 117.0,123.9 117.1,103.4 117.3,86.8 117.4,123.6 117.6,97.5 117.8,118.3 117.9,112.3 118.1,112.2 118.2,105.3 118.4,93.1 118.6,90.7 118.7,105.4 118.9,100.9 119.0,105.5 119.2,114.9 119.3,110.5 119.5,109.4 119.7,111.8 119.8,113.4 120.0,109.3 120.1,113.8 120.3,126.5 120.5,106.2 120.6,126.0 120.8,126.2 120.9,123.6 121.1,106.8 121.3,112.0 121.4,96.9 121.6,113.9 121.7,116.5 121.9,94.1 122.0,121.5 122.2,106.6 122.4,120.0 122.5,109.4 122.7,109.0 122.8,112.7 123.0,118.1 123.2,108.5 123.3,107.2 123.5,114.1 123.6,128.5 123.8,113.9 124.0,103.4 124.1,107.7 124.3,119.8 124.4,108.7 124.6,101.7 124.7,135.3 124.9,98.0 125.1,103.4 125.2,101.4 125.4,117.7 125.5,97.2 125.7,113.3 125.9,108.0 126.0,111.7 126.2,129.7 126.3,117.6 126.5,119.7 126.7,107.7 126.8,104.7 127.0,106.1 127.1,115.5 127.3,110.6 127.4,122.8 127.6,123.2 127.8,118.3 127.9,116.3 128.1,111.3 128.2,99.8 128.4,107.1 128.6,95.6 128.7,121.2 128.9,111.6 129.0,109.8 129.2,103.2 129.4,120.0 129.5,111.7 129.7,104.8 129.8,116.2 130.0,107.8 130.1,110.3 130.3,112.9 130.5,105.5 130.6,108.1 130.8,113.7 130.9,125.4 131.1,107.3 131.3,121.1 131.4,121.1 131.6,120.3 131.7,112.9 131.9,113.7 132.1,120.7 132.2,97.4 132.4,97.1 132.5,133.0 132.7,117.9 132.8,122.1 133.0,138.6 133.2,106.1 133.3,119.0 133.5,128.7 133.6,127.8 133.8,123.1 134.0,104.9 134.1,138.1 134.3,112.9 134.4,139.8 134.6,116.3 134.8,136.7 134.9,127.6 135.1,118.8 135.2,101.8 135.4,111.3 135.5,123.5 135.7,116.2 135.9,106.3 136.0,103.8 136.2,102.1 136.3,126.7 136.5,139.8 136.7,127.1 136.8,124.2 137.0,119.3 137.1,97.0 137.3,111.9 137.5,119.0 137.6,133.3 137.8,115.0 137.9,114.7 138.1,115.7 138.2,138.9 138.4,113.6 138.6,119.1 138.7,121.1 138.9,114.9 139.0,117.9 139.2,113.3 139.4,110.7 139.5,102.6 139.7,115.6 139.8,112.9 140.0,95.9 140.2,115.3 140.3,108.6 140.5,123.9 140.6,119.7 140.8,113.5 140.9,112.1 141.1,123.6 141.3,105.4 141.4,133.0 141.6,122.5 141.7,110.9 141.9,115.6 142.1,105.9 142.2,116.9 142.4,118.4 142.5,124.8 142.7,105.9 142.9,107.2 143.0,83.4 143.2,116.2 143.3,88.8 143.5,114.2 143.6,112.7 143.8,108.7 144.0,110.2 144.1,114.1 144.3,118.5 144.4,121.7 144.6,86.8 144.8,114.5 144.9,94.9 145.1,113.3 145.2,112.3 145.4,115.1 145.6,139.8 145.7,103.8 145.9,114.1 146.0,110.2 146.2,117.1 146.3,103.0 146.5,126.5 146.7,107.0 146.8,116.9 147.0,125.0 147.1,103.0 147.3,117.0 147.5,112.2 147.6,125.0 147.8,108.8 147.9,122.5 148.1,104.4 148.3,112.7 148.4,119.1 148.6,117.1 148.7,113.4 148.9,106.2 149.0,119.6 149.2,137.6 149.4,120.1 149.5,125.9 149.7,121.2 149.8,116.0 150.0,110.9 150.2,115.5 150.3,98.2 150.5,113.6 150.6,129.8 150.8,101.4 151.0,121.3 151.1,112.1 151.3,89.4 151.4,109.6 151.6,99.3 151.7,107.7 151.9,122.8 152.1,139.8 152.2,120.3 152.4,110.4 152.5,117.7 152.7,132.5 152.9,105.1 153.0,107.3 153.2,120.7 153.3,122.6 153.5,108.1 153.7,124.6 153.8,128.9 154.0,122.3 154.1,102.5 154.3,106.4 154.4,86.8 154.6,121.3 154.8,114.7 154.9,116.1 155.1,109.9 155.2,114.1 155.4,114.0 155.6,111.7 155.7,119.5 155.9,114.4 156.0,126.8 156.2,114.3 156.3,112.2 156.5,112.9 156.7,114.2 156.8,109.7 157.0,110.5 157.1,112.7 157.3,106.3 157.5,117.0 157.6,121.6 157.8,122.9 157.9,118.7 158.1,116.7 158.3,110.3 158.4,102.2 158.6,105.5 158.7,103.6 158.9,98.2 159.0,123.2 159.2,116.4 159.4,102.2 159.5,105.2 159.7,95.5 159.8,100.5 160.0,124.2 160.2,110.8 160.3,106.4 160.5,114.5 160.6,110.3 160.8,113.7 161.0,127.7 161.1,92.9 161.3,122.3 161.4,112.7 161.6,124.7 161.7,107.6 161.9,109.2 162.1,110.9 162.2,113.5 162.4,113.4 162.5,120.1 162.7,127.2 162.9,121.2 163.0,110.1 163.2,109.2 163.3,79.8 163.5,111.7 163.7,110.7 163.8,118.6 164.0,102.8 164.1,114.7 164.3,118.2 164.4,122.9 164.6,112.1 164.8,98.2 164.9,111.6 165.1,122.3 165.2,114.2 165.4,109.4 165.6,118.2 165.7,113.3 165.9,114.2 166.0,107.2 166.2,119.1 166.4,120.5 166.5,81.0 166.7,117.5 166.8,112.5 167.0,118.5 167.1,98.7 167.3,104.5 167.5,126.1 167.6,123.3 167.8,107.1 167.9,105.8 168.1,105.1 168.3,115.9 168.4,113.3 168.6,116.9 168.7,118.4 168.9,108.8 169.1,121.6 169.2,100.7 169.4,124.9 169.5,107.8 169.7,104.9 169.8,137.2 170.0,100.3 170.2,102.1 170.3,108.8 170.5,109.7 170.6,105.6 170.8,105.8 171.0,103.4 171.1,118.5 171.3,99.1 171.4,99.6 171.6,114.7 171.8,113.2 171.9,112.2 172.1,115.0 172.2,117.5 172.4,105.9 172.5,124.0 172.7,99.8 172.9,117.7 173.0,105.8 173.2,100.3 173.3,121.7 173.5,119.2 173.7,91.6 173.8,108.3 174.0,116.0 174.1,119.8 174.3,98.9 174.5,101.8 174.6,118.0 174.8,120.2 174.9,108.8 175.1,100.7 175.2,119.3 175.4,103.8 175.6,106.7 175.7,126.9 175.9,104.9 176.0,110.9 176.2,119.2 176.4,103.7 176.5,118.1 176.7,120.8 176.8,129.7 177.0,125.0 177.2,117.5 177.3,109.5 177.5,119.5 177.6,105.1 177.8,114.0 177.9,101.0 178.1,102.2 178.3,128.8 178.4,125.4 178.6,113.3 178.7,100.6 178.9,118.1 179.1,96.6 179.2,101.8 179.4,115.9 179.5,110.6 179.7,101.3 179.9,115.7 180.0,98.1 180.2,119.9 180.3,124.8 180.5,118.1 180.6,113.7 180.8,111.3 181.0,118.7 181.1,118.0 181.3,97.9 181.4,117.8 181.6,115.2 181.8,113.8 181.9,126.5 182.1,115.2 182.2,110.9 182.4,114.2 182.6,99.7 182.7,112.1 182.9,124.9 183.0,111.2 183.2,123.8 183.3,128.1 183.5,108.1 183.7,110.7 183.8,122.3 184.0,103.8 184.1,127.4 184.3,127.9 184.5,122.9 184.6,106.9 184.8,113.7 184.9,122.2 185.1,122.8 185.3,131.8 185.4,119.9 185.6,117.1 185.7,105.3 185.9,119.6 186.0,104.0 186.2,105.8 186.4,118.3 186.5,104.4 186.7,103.4 186.8,106.1 187.0,123.0 187.2,106.4 187.3,106.5 187.5,115.0 187.6,114.7 187.8,116.8 188.0,102.4 188.1,129.9 188.3,119.3 188.4,115.6 188.6,92.5 188.7,112.3 188.9,107.3 189.1,109.7 189.2,119.7 189.4,110.2 189.5,123.2 189.7,105.3 189.9,120.6 190.0,107.2 190.2,108.7 190.3,109.3 190.5,119.2 190.7,95.5 190.8,106.9 191.0,123.5 191.1,115.2 191.3,110.6 191.4,121.2 191.6,110.6 191.8,102.8 191.9,77.4 192.1,119.4 192.2,112.8 192.4,105.6 192.6,97.2 192.7,109.6 192.9,89.4 193.0,112.8 193.2,124.2 193.3,105.0 193.5,103.1 193.7,135.8 193.8,108.6 194.0,112.3 194.1,118.3 194.3,115.0 194.5,115.0 194.6,105.0 194.8,130.6 194.9,105.1 195.1,112.8 195.3,112.4 195.4,109.1 195.6,111.5 195.7,137.2 195.9,117.4 196.0,119.4 196.2,108.8 196.4,109.5 196.5,95.7 196.7,111.5 196.8,124.7 197.0,117.0 197.2,115.9 197.3,120.7 197.5,107.9 197.6,123.1 197.8,118.2 198.0,117.0 198.1,117.6 198.3,118.0 198.4,116.9 198.6,102.9 198.7,109.5 198.9,97.9 199.1,89.4 199.2,106.5 199.4,110.7 199.5,111.5 199.7,109.0 199.9,112.3 200.0,122.9 200.2,113.8 200.3,127.2 200.5,117.7 200.7,123.8 200.8,119.4 201.0,104.0 201.1,112.8 201.3,131.3 201.4,130.4 201.6,123.2 201.8,95.1 201.9,134.1 202.1,134.0 202.2,127.7 202.4,108.6 202.6,122.5 202.7,121.4 202.9,104.8 203.0,130.1 203.2,103.7 203.4,120.2 203.5,101.4 203.7,108.5 203.8,109.5 204.0,145.4 204.1,111.8 204.3,115.5 204.5,117.4 204.6,96.9 204.8,108.7 204.9,109.6 205.1,104.4 205.3,111.5 205.4,113.9 205.6,107.2 205.7,115.8 205.9,123.3 206.1,107.2 206.2,137.2 206.4,121.7 206.5,107.5 206.7,115.1 206.8,129.2 207.0,77.4 207.2,116.2 207.3,119.9 207.5,162.0 207.6,124.1 207.8,117.4 208.0,113.3 208.1,97.9 208.3,104.4 208.4,115.4 208.6,117.8 208.8,103.3 208.9,110.4 209.1,116.4 209.2,120.8 209.4,111.2 209.5,115.5 209.7,110.3 209.9,110.2 210.0,115.9 210.2,98.9 210.3,117.9 210.5,115.0 210.7,114.6 210.8,97.6 211.0,113.2 211.1,131.0 211.3,119.3 211.5,107.4 211.6,109.4 211.8,111.9 211.9,125.4 212.1,118.7 212.2,118.4 212.4,118.7 212.6,101.0 212.7,114.8 212.9,114.1 213.0,89.4 213.2,115.2 213.4,116.7 213.5,114.2 213.7,107.4 213.8,115.8 214.0,112.3 214.2,110.2 214.3,106.0 214.5,119.5 214.6,122.7 214.8,114.1 214.9,115.9 215.1,116.1 215.3,109.6 215.4,112.6 215.6,124.4 215.7,109.4 215.9,122.2 216.1,101.2 216.2,115.1 216.4,118.7 216.5,126.1 216.7,112.1 216.9,118.4 217.0,112.7 217.2,123.8 217.3,127.7 217.5,119.3 217.6,126.5 217.8,116.1 218.0,113.6 218.1,116.5 218.3,116.0 218.4,99.3 218.6,111.1 218.8,103.0 218.9,111.2 219.1,109.8 219.2,103.6 219.4,121.6 219.6,123.4 219.7,118.2 219.9,127.5 220.0,107.1 220.2,107.3 220.3,111.9 220.5,127.3 220.7,102.6 220.8,123.1 221.0,114.8 221.1,111.0 221.3,110.9 221.5,95.1 221.6,100.0 221.8,116.4 221.9,116.9 222.1,101.4 222.3,126.0 222.4,97.3 222.6,118.2 222.7,120.1 222.9,109.5 223.0,115.9 223.2,112.1 223.4,105.3 223.5,97.7 223.7,113.8 223.8,109.1 224.0,118.9 224.2,103.0 224.3,130.3 224.5,104.1 224.6,115.2 224.8,101.7 225.0,109.3 225.1,123.5 225.3,89.4 225.4,106.5 225.6,119.1 225.7,118.9 225.9,120.2 226.1,106.2 226.2,102.6 226.4,125.5 226.5,112.0 226.7,108.7 226.9,111.2 227.0,117.0 227.2,125.9 227.3,110.8 227.5,109.2 227.7,117.3 227.8,124.6 228.0,110.8 228.1,111.4 228.3,103.7 228.4,109.6 228.6,120.9 228.8,112.7 228.9,116.3 229.1,101.4 229.2,111.1 229.4,103.9 229.6,105.2 229.7,115.1 229.9,114.2 230.0,118.2 230.2,117.4 230.3,109.0 230.5,112.0 230.7,102.4 230.8,98.0 231.0,112.2 231.1,110.1 231.3,109.4 231.5,106.5 231.6,112.1 231.8,112.3 231.9,104.3 232.1,122.6 232.3,129.0 232.4,98.8 232.6,85.0 232.7,114.9 232.9,119.8 233.0,112.6 233.2,101.1 233.4,115.8 233.5,116.4 233.7,118.7 233.8,125.5 234.0,106.2 234.2,114.0 234.3,99.5 234.5,118.5 234.6,133.5 234.8,120.1 235.0,123.4 235.1,107.1 235.3,114.5 235.4,117.1 235.6,127.4 235.7,109.4 235.9,117.4 236.1,102.9 236.2,104.7 236.4,111.6 236.5,112.5 236.7,126.1 236.9,119.1 237.0,113.8 237.2,108.2 237.3,97.0 237.5,104.2 237.7,106.5 237.8,113.0 238.0,105.3 238.1,110.7 238.3,116.9 238.4,122.1 238.6,106.1 238.8,116.5 238.9,114.5 239.1,103.9 239.2,121.9 239.4,97.0 239.6,106.3 239.7,110.8 239.9,119.8 240.0,110.8 240.2,108.2 240.4,104.4 240.5,135.3 240.7,113.1 240.8,116.0 241.0,123.5 241.1,120.7 241.3,107.4 241.5,115.4 241.6,114.6 241.8,101.5 241.9,110.7 242.1,128.3 242.3,112.5 242.4,121.3 242.6,119.5 242.7,117.7 242.9,131.6 243.1,110.8 243.2,120.4 243.4,121.0 243.5,98.0 243.7,121.7 243.8,107.5 244.0,110.0 244.2,116.8 244.3,107.9 244.5,116.1 244.6,122.7 244.8,125.1 245.0,106.7 245.1,114.1 245.3,102.3 245.4,137.2 245.6,111.4 245.8,108.6 245.9,104.5 246.1,111.1 246.2,103.6 246.4,102.8 246.5,108.6 246.7,115.9 246.9,128.3 247.0,111.8 247.2,101.6 247.3,120.4 247.5,110.9 247.7,101.4 247.8,105.9 248.0,131.0 248.1,129.8 248.3,112.3 248.5,121.8 248.6,125.4 248.8,106.4 248.9,110.5 249.1,116.4 249.2,120.2 249.4,118.2 249.6,104.4 249.7,130.0 249.9,130.8 250.0,121.0 250.2,113.2 250.4,95.1 250.5,127.3 250.7,119.7 250.8,112.1 251.0,136.8 251.2,100.4 251.3,89.4 251.5,125.1 251.6,92.7 251.8,108.7 251.9,112.9 252.1,90.9 252.3,113.2 252.4,123.2 252.6,120.9 252.7,124.3 252.9,122.1 253.1,106.3 253.2,102.5 253.4,101.1 253.5,104.2 253.7,101.1 253.9,115.6 254.0,104.6 254.2,104.9 254.3,116.1 254.5,103.0 254.6,113.1 254.8,111.0 255.0,110.6 255.1,102.6 255.3,120.3 255.4,115.6 255.6,117.2 255.8,96.1 255.9,113.9 256.1,109.0 256.2,95.6 256.4,104.4 256.6,96.5 256.7,107.6 256.9,106.5 257.0,110.0 257.2,118.5 257.3,126.2 257.5,93.4 257.7,105.4 257.8,116.3 258.0,119.8 258.1,129.0 258.3,110.6 258.5,123.1 258.6,111.8 258.8,99.1 258.9,128.4 259.1,99.4 259.3,115.2 259.4,121.2 259.6,106.6 259.7,98.0 259.9,110.9 260.0,116.6 260.2,120.6 260.4,108.1 260.5,109.1 260.7,107.6 260.8,114.7 261.0,108.9 261.2,109.0 261.3,112.3 261.5,119.9 261.6,110.9 261.8,112.6 262.0,113.5 262.1,105.4 262.3,109.1 262.4,129.4 262.6,122.7 262.7,119.1 262.9,102.2 263.1,108.4 263.2,101.2 263.4,89.4 263.5,136.7 263.7,124.2 263.9,114.6 264.0,112.0 264.2,113.7 264.3,112.4 264.5,105.3 264.7,110.0 264.8,100.0 265.0,97.1 265.1,102.7 265.3,125.9 265.4,109.2 265.6,99.9 265.8,118.1 265.9,124.6 266.1,103.6 266.2,100.9 266.4,109.9 266.6,109.6 266.7,103.6 266.9,110.3 267.0,122.1 267.2,112.3 267.3,110.1 267.5,107.9 267.7,106.2 267.8,92.2 268.0,110.9 268.1,120.7 268.3,110.8 268.5,110.7 268.6,131.0 268.8,118.7 268.9,120.9 269.1,97.0 269.3,122.3 269.4,100.1 269.6,117.9 269.7,121.0 269.9,109.2 270.0,92.6 270.2,122.8 270.4,115.7 270.5,129.7 270.7,101.8 270.8,97.9 271.0,119.2 271.2,116.9 271.3,126.8 271.5,114.0 271.6,110.9 271.8,121.1 272.0,105.0 272.1,108.2 272.3,100.1 272.4,124.2 272.6,106.9 272.7,130.0 272.9,118.4 273.1,119.6 273.2,105.7 273.4,117.0 273.5,103.0 273.7,116.5 273.9,109.5 274.0,118.5 274.2,111.8 274.3,117.2 274.5,109.3 274.7,114.6 274.8,106.5 275.0,100.8 275.1,117.5 275.3,118.8 275.4,142.0 275.6,114.2 275.8,103.1 275.9,104.7 276.1,117.0 276.2,113.7 276.4,116.5 276.6,96.3 276.7,110.2 276.9,119.1 277.0,133.7 277.2,107.7 277.4,110.0 277.5,124.2 277.7,109.0 277.8,98.0 278.0,103.5 278.1,102.6 278.3,117.8 278.5,106.5 278.6,111.7 278.8,123.1 278.9,111.0 279.1,114.6 279.3,117.2 279.4,113.1 279.6,121.4 279.7,113.2 279.9,115.3 280.1,99.3 280.2,107.4 280.4,119.5 280.5,105.2 280.7,118.5 280.8,111.8 281.0,108.1 281.2,127.1 281.3,103.3 281.5,103.6 281.6,114.4 281.8,118.7 282.0,105.6 282.1,122.0 282.3,108.9 282.4,111.5 282.6,125.5 282.8,125.8 282.9,106.4 283.1,105.9 283.2,111.7 283.4,130.0 283.5,94.2 283.7,111.9 283.9,103.9 284.0,86.0 284.2,111.0 284.3,113.3 284.5,107.8 284.7,113.4 284.8,104.9 285.0,114.2 285.1,114.5 285.3,125.1 285.5,123.3 285.6,102.2 285.8,103.3 285.9,119.1 286.1,126.5 286.2,99.4 286.4,104.1 286.6,106.2 286.7,112.5 286.9,118.7 287.0,115.4 287.2,110.5 287.4,116.8 287.5,100.4 287.7,110.5 287.8,113.0 288.0,99.7 288.2,119.0 288.3,129.8 288.5,118.4 288.6,109.6 288.8,106.9 288.9,119.3 289.1,121.4 289.3,104.9 289.4,111.1 289.6,114.5 289.7,120.5 289.9,107.1 290.1,109.6 290.2,106.8 290.4,115.6 290.5,120.9 290.7,101.0 290.9,119.8 291.0,110.0 291.2,127.0 291.3,112.2 291.5,117.8 291.6,105.7 291.8,101.9 292.0,86.8 292.1,87.7 292.3,115.3 292.4,115.4 292.6,107.4 292.8,106.6 292.9,101.9 293.1,98.1 293.2,121.5 293.4,103.8 293.6,103.9 293.7,111.4 293.9,94.9 294.0,121.9 294.2,108.9 294.3,125.3 294.5,112.2 294.7,110.6 294.8,109.7 295.0,107.9 295.1,105.0 295.3,123.1 295.5,115.0 295.6,101.4 295.8,116.3 295.9,94.2 296.1,119.0 296.3,114.4 296.4,130.8 296.6,93.1 296.7,121.7 296.9,102.7 297.0,108.0 297.2,128.6 297.4,114.0 297.5,114.8 297.7,115.0 297.8,116.1 298.0,132.1 298.2,127.9 298.3,104.2 298.5,120.0 298.6,122.1 298.8,95.2 299.0,114.9 299.1,94.2 299.3,119.0 299.4,107.1 299.6,107.4 299.7,97.9 299.9,116.6 300.1,118.9 300.2,123.5 300.4,101.8 300.5,114.2 300.7,99.5 300.9,100.7 301.0,107.9 301.2,99.9 301.3,101.5 301.5,114.0 301.7,93.0 301.8,103.0 302.0,112.8 302.1,103.5 302.3,114.4 302.4,126.8 302.6,119.5 302.8,126.1 302.9,123.6 303.1,111.6 303.2,122.9 303.4,102.7 303.6,114.8 303.7,107.0 303.9,107.2 304.0,122.0 304.2,110.1 304.3,118.9 304.5,108.0 304.7,111.6 304.8,92.3 305.0,109.8 305.1,126.0 305.3,108.9 305.5,112.1 305.6,119.5 305.8,121.4 305.9,108.4 306.1,106.9 306.3,126.7 306.4,101.9 306.6,109.5 306.7,121.7 306.9,107.8 307.0,102.3 307.2,106.3 307.4,112.4 307.5,107.0 307.7,101.3 307.8,121.2 308.0,100.0 308.2,116.1 308.3,119.8 308.5,118.9 308.6,131.9 308.8,109.2 309.0,121.5 309.1,116.3 309.3,106.1 309.4,108.9 309.6,99.8 309.7,124.9 309.9,113.3 310.1,102.9 310.2,117.1 310.4,118.3 310.5,123.2 310.7,111.9 310.9,119.9 311.0,116.6 311.2,134.5 311.3,109.3 311.5,111.0 311.7,110.0 311.8,102.9 312.0,103.2 312.1,113.8 312.3,98.4 312.4,125.9 312.6,92.7 312.8,131.7 312.9,114.1 313.1,107.1 313.2,108.0 313.4,104.8 313.6,97.2 313.7,115.2 313.9,122.8 314.0,109.0 314.2,115.5 314.4,79.8 314.5,102.9 314.7,119.9 314.8,105.7 315.0,113.2 315.1,112.1 315.3,127.1 315.5,111.9 315.6,116.9 315.8,110.9 315.9,112.6 316.1,104.8 316.3,115.8 316.4,127.7 316.6,114.9 316.7,114.9 316.9,114.0 317.1,101.2 317.2,124.3 317.4,117.7 317.5,130.8 317.7,120.6 317.8,113.6 318.0,121.3 318.2,108.4 318.3,124.2 318.5,112.6 318.6,130.4 318.8,108.4 319.0,112.0 319.1,90.8 319.3,121.4 319.4,111.8 319.6,119.8 319.8,98.0 319.9,116.6 320.1,121.7 320.2,99.8 320.4,99.8 320.5,104.8 320.7,111.8 320.9,115.5 321.0,111.2 321.2,112.4 321.3,105.8 321.5,112.6 321.7,126.8 321.8,106.3 322.0,112.5 322.1,118.7 322.3,120.2 322.5,126.0 322.6,112.3 322.8,113.5 322.9,113.2 323.1,133.1 323.2,102.5 323.4,139.2 323.6,113.1 323.7,119.0 323.9,105.0 324.0,131.1 324.2,121.9 324.4,120.1 324.5,119.3 324.7,126.0 324.8,116.7 325.0,118.8 325.2,97.9 325.3,110.6 325.5,122.5 325.6,114.1 325.8,118.1 325.9,103.0 326.1,98.5 326.3,99.4 326.4,120.5 326.6,122.7 326.7,115.2 326.9,109.7 327.1,132.8 327.2,139.8 327.4,114.4 327.5,108.9 327.7,110.1 327.9,139.6 328.0,123.9 328.2,135.4 328.3,121.3 328.5,104.4 328.6,126.3 328.8,115.4 329.0,111.9 329.1,120.1 329.3,119.3 329.4,115.4 329.6,105.2 329.8,120.4 329.9,109.6 330.1,121.1 330.2,117.2 330.4,112.4 330.6,113.8 330.7,105.2 330.9,118.4 331.0,117.3 331.2,111.5 331.3,116.8 331.5,99.6 331.7,92.7 331.8,110.2 332.0,112.9 332.1,113.9 332.3,102.4 332.5,108.2 332.6,113.2 332.8,126.6 332.9,114.1 333.1,120.4 333.3,102.8 333.4,117.7 333.6,98.5 333.7,127.0 333.9,122.4 334.0,117.1 334.2,124.3 334.4,114.5 334.5,110.9 334.7,119.9 334.8,110.8 335.0,142.0 335.2,116.3 335.3,124.1 335.5,101.9 335.6,120.5 335.8,96.3 336.0,118.3 336.1,134.4 336.3,98.5 336.4,115.8 336.6,110.6 336.7,119.7 336.9,118.0 337.1,116.7 337.2,124.7 337.4,123.4 337.5,113.8 337.7,107.4 337.9,107.4 338.0,107.9 338.2,113.5 338.3,104.7 338.5,112.3 338.7,112.7 338.8,112.7 339.0,102.7 339.1,118.8 339.3,123.8 339.4,106.3 339.6,124.5 339.8,127.8 339.9,109.5 340.1,116.8 340.2,118.4 340.4,118.5 340.6,115.2 340.7,113.2 340.9,118.0 341.0,116.4 341.2,107.3 341.3,107.3 341.5,117.9 341.7,110.2 341.8,116.1 342.0,108.5 342.1,109.1 342.3,93.0 342.5,115.4 342.6,121.9 342.8,117.1 342.9,118.7 343.1,121.7 343.3,106.3 343.4,115.3 343.6,93.5 343.7,126.0 343.9,127.1 344.0,103.8 344.2,117.4 344.4,122.5 344.5,97.6 344.7,120.4 344.8,120.1 345.0,110.7 345.2,118.7 345.3,118.8 345.5,102.0 345.6,105.7 345.8,123.7 346.0,109.3 346.1,110.7 346.3,132.0 346.4,121.8 346.6,120.6 346.7,126.0 346.9,116.8 347.1,103.1 347.2,107.1 347.4,110.7 347.5,131.2 347.7,116.3 347.9,94.2 348.0,113.0 348.2,106.2 348.3,120.8 348.5,119.1 348.7,121.5 348.8,110.5 349.0,127.8 349.1,111.4 349.3,134.5 349.4,111.9 349.6,117.0 349.8,125.3 349.9,106.4 350.1,104.0 350.2,113.7 350.4,117.2 350.6,117.6 350.7,121.4 350.9,124.1 351.0,111.2 351.2,111.2 351.4,109.3 351.5,111.0 351.7,117.3 351.8,106.2 352.0,104.3 352.1,110.2 352.3,113.6 352.5,117.1 352.6,92.4 352.8,114.0 352.9,126.5 353.1,112.8 353.3,123.9 353.4,117.9 353.6,118.6 353.7,115.5 353.9,118.9 354.1,113.3 354.2,129.5 354.4,102.1 354.5,113.5 354.7,118.2 354.8,109.0 355.0,115.1 355.2,107.3 355.3,109.3 355.5,119.9 355.6,121.6 355.8,116.1 356.0,120.8 356.1,110.2 356.3,103.4 356.4,114.4 356.6,112.0 356.8,110.3 356.9,105.6 357.1,114.7 357.2,117.2 357.4,124.6 357.5,111.3 357.7,111.7 357.9,103.9 358.0,109.0 358.2,111.5 358.3,120.6 358.5,104.3 358.7,111.4 358.8,102.6 359.0,121.3 359.1,118.8 359.3,112.8 359.5,110.0 359.6,113.0 359.8,106.3 359.9,112.4 360.1,92.9 360.2,119.2 360.4,119.0 360.6,112.4 360.7,97.1 360.9,116.1 361.0,103.6 361.2,104.2 361.4,103.6 361.5,97.7 361.7,96.1 361.8,103.5 362.0,114.3 362.2,109.2 362.3,110.5 362.5,96.4 362.6,111.7 362.8,117.0 362.9,98.9 363.1,104.0 363.3,128.3 363.4,120.6 363.6,128.6 363.7,123.3 363.9,114.0 364.1,104.3 364.2,112.4 364.4,137.6 364.5,124.4 364.7,99.4 364.9,114.1 365.0,117.0 365.2,113.9 365.3,119.0 365.5,122.5 365.6,99.8 365.8,123.1 366.0,116.9 366.1,110.4 366.3,113.7 366.4,95.4 366.6,117.8 366.8,107.9 366.9,129.9 367.1,128.7 367.2,103.2 367.4,116.5 367.6,108.2 367.7,119.4 367.9,129.7 368.0,112.2 368.2,114.6 368.3,121.2 368.5,122.1 368.7,111.5 368.8,114.9 369.0,93.9 369.1,115.5 369.3,109.7 369.5,118.9 369.6,129.8 369.8,109.2 369.9,106.4 370.1,109.1 370.3,122.4 370.4,121.0 370.6,111.0 370.7,115.0 370.9,114.9 371.0,115.3 371.2,112.2 371.4,111.3 371.5,111.8 371.7,122.0 371.8,120.9 372.0,108.2 372.2,91.9 372.3,117.4 372.5,112.7 372.6,94.3 372.8,124.9 373.0,110.5 373.1,125.8 373.3,94.9 373.4,110.5 373.6,105.7 373.7,99.2 373.9,120.0 374.1,116.1 374.2,118.6 374.4,135.3 374.5,99.9 374.7,119.9 374.9,101.6 375.0,122.8 375.2,120.9 375.3,101.0 375.5,113.8 375.7,115.6 375.8,114.6 376.0,107.8 376.1,109.7 376.3,97.9 376.4,122.8 376.6,115.4 376.8,112.2 376.9,110.5 377.1,119.3 377.2,111.9 377.4,130.1 377.6,112.7 377.7,115.1 377.9,121.3 378.0,119.4 378.2,107.0 378.3,109.8 378.5,118.6 378.7,116.7 378.8,111.7 379.0,115.6 379.1,111.6 379.3,101.8 379.5,127.1 379.6,111.5 379.8,117.3 379.9,123.3 380.1,88.1 380.3,118.6 380.4,101.1 380.6,108.3 380.7,112.4 380.9,109.4 381.0,107.2 381.2,121.2 381.4,116.7 381.5,127.6 381.7,110.0 381.8,113.6 382.0,115.2 382.2,117.4 382.3,122.2 382.5,99.9 382.6,106.7 382.8,122.1 383.0,110.5 383.1,122.9 383.3,102.7 383.4,122.6 383.6,106.5 383.7,112.3 383.9,122.4 384.1,102.5 384.2,107.9 384.4,130.3 384.5,93.2 384.7,107.4 384.9,119.3 385.0,76.0 385.2,118.4 385.3,121.4 385.5,98.5 385.7,114.2 385.8,130.6 386.0,113.8 386.1,106.4 386.3,89.9 386.4,110.7 386.6,96.3 386.8,116.3 386.9,107.6 387.1,90.4 387.2,116.9 387.4,107.2 387.6,73.5 387.7,110.7 387.9,101.7 388.0,80.0 388.2,104.1 388.4,105.6 388.5,113.9 388.7,113.8 388.8,128.1 389.0,113.7 389.1,124.4 389.3,107.6 389.5,114.1 389.6,126.6 389.8,112.0 389.9,83.0 390.1,107.4 390.3,122.5 390.4,113.8 390.6,114.6 390.7,88.9 390.9,138.3 391.1,131.8 391.2,87.4 391.4,127.7 391.5,130.0 391.7,132.5 391.8,73.5 392.0,123.1 392.2,122.8 392.3,121.3 392.5,92.0 392.6,117.4 392.8,122.6 393.0,125.4 393.1,120.8 393.3,129.3 393.4,102.0 393.6,157.4 393.8,116.4 393.9,82.0 394.1,107.1 394.2,102.0 394.4,117.6 394.5,114.6 394.7,110.2 394.9,112.1 395.0,74.1 395.2,129.8 395.3,114.2 395.5,98.5 395.7,98.5 395.8,93.9 396.0,95.0 396.1,110.1 396.3,82.6 396.5,120.8 396.6,93.3 396.8,124.0 396.9,72.7 397.1,117.7 397.2,72.7 397.4,104.9 397.6,115.9 397.7,108.3 397.9,112.5 398.0,96.7 398.2,108.7 398.4,111.0 398.5,105.7 398.7,120.9 398.8,116.4 399.0,125.3 399.2,116.0 399.3,102.0 399.5,89.4 399.6,111.7 399.8,119.6 399.9,128.8 400.1,146.7 400.3,112.2 400.4,65.8 400.6,108.2 400.7,113.8 400.9,112.9 401.1,121.6 401.2,123.2 401.4,140.9 401.5,120.5 401.7,122.0 401.9,100.6 402.0,159.8 402.2,119.6 402.3,121.8 402.5,120.2 402.6,99.5 402.8,90.2 403.0,115.0 403.1,131.9 403.3,134.0 403.4,122.2 403.6,137.1 403.8,114.0 403.9,112.9 404.1,109.5 404.2,95.2 404.4,134.8 404.6,123.8 404.7,92.3 404.9,106.8 405.0,137.4 405.2,78.7 405.3,113.7 405.5,116.3 405.7,117.6 405.8,115.9 406.0,73.5 406.1,118.8 406.3,124.0 406.5,110.6 406.6,93.2 406.8,58.4 406.9,92.5 407.1,108.7 407.3,125.9 407.4,127.5 407.6,103.7 407.7,88.4 407.9,133.9 408.0,168.0 408.2,96.2 408.4,73.5 408.5,125.8 408.7,109.8 408.8,114.4 409.0,65.5 409.2,114.8 409.3,118.7 409.5,102.7 409.6,124.7 409.8,138.8 410.0,140.7 410.1,75.9 410.3,111.8 410.4,135.5 410.6,107.7 410.7,105.0 410.9,102.0 411.1,125.8 411.2,115.5 411.4,98.1 411.5,161.0 411.7,114.0 411.9,78.1 412.0,109.5 412.2,126.6 412.3,99.9 412.5,43.8 412.7,114.7 412.8,117.2 413.0,136.7 413.1,109.5 413.3,105.5 413.4,111.9 413.6,107.1 413.8,93.0 413.9,120.7 414.1,89.9 414.2,147.9 414.4,130.1 414.6,130.4 414.7,74.7 414.9,105.9 415.0,69.0 415.2,125.6 415.3,129.0 415.5,104.4 415.7,122.1 415.8,109.3 416.0,119.1 416.1,110.3 416.3,105.0 416.5,122.4 416.6,119.3 416.8,110.4 416.9,113.1 417.1,110.8 417.3,106.4 417.4,119.1 417.6,108.9 417.7,110.1 417.9,107.0 418.0,117.6 418.2,106.7 418.4,121.5 418.5,116.2 418.7,106.0 418.8,104.4 419.0,114.1 419.2,106.9 419.3,103.8 419.5,97.9 419.6,126.1 419.8,113.6 420.0,95.7 420.1,108.8 420.3,124.8 420.4,116.6 420.6,95.6 420.7,97.2 420.9,114.5 421.1,107.0 421.2,111.7 421.4,128.5 421.5,114.6 421.7,121.6 421.9,106.8 422.0,111.9 422.2,119.9 422.3,102.9 422.5,111.0 422.7,131.4 422.8,104.0 423.0,112.4 423.1,117.1 423.3,108.4 423.4,104.3 423.6,113.8 423.8,136.1 423.9,102.3 424.1,120.7 424.2,106.1 424.4,128.2 424.6,150.2 424.7,102.7 424.9,120.6 425.0,79.5 425.2,104.9 425.4,119.2 425.5,120.3 425.7,113.8 425.8,95.4 426.0,114.6 426.1,112.3 426.3,103.4 426.5,131.1 426.6,130.8 426.8,131.8 426.9,110.8 427.1,120.3 427.3,105.0 427.4,109.8 427.6,117.9 427.7,123.4 427.9,104.7 428.1,110.4 428.2,104.8 428.4,107.7 428.5,120.8 428.7,89.4 428.8,108.2 429.0,132.8 429.2,107.1 429.3,123.8 429.5,106.1 429.6,122.8 429.8,108.0 430.0,133.0 430.1,112.4 430.3,116.0 430.4,113.2 430.6,115.9 430.8,97.1 430.9,121.9 431.1,102.2 431.2,121.8 431.4,94.0 431.5,136.2 431.7,104.2 431.9,133.6 432.0,115.6 432.2,108.3 432.3,118.2 432.5,108.0 432.7,108.6 432.8,110.3 433.0,101.6 433.1,110.7 433.3,122.0 433.5,108.8 433.6,105.8 433.8,102.4 433.9,105.6 434.1,114.3 434.2,106.3 434.4,113.0 434.6,108.8 434.7,109.6 434.9,112.5 435.0,111.9 435.2,118.7 435.4,112.3 435.5,116.6 435.7,127.0 435.8,117.5 436.0,118.1 436.2,116.7 436.3,114.7 436.5,109.7 436.6,106.4 436.8,109.8 436.9,98.3 437.1,115.9 437.3,98.2 437.4,119.4 437.6,107.0 437.7,110.5 437.9,111.8 438.1,131.6 438.2,108.4 438.4,104.7 438.5,109.0 438.7,107.1 438.9,119.1 439.0,111.4 439.2,117.1 439.3,137.2 439.5,102.9 439.6,102.9 439.8,98.8 440.0,106.1 440.1,101.0 440.3,104.5 440.4,100.8 440.6,117.5 440.8,116.8 440.9,107.9 441.1,99.8 441.2,133.4 441.4,108.4 441.6,127.4 441.7,115.8 441.9,118.5 442.0,98.8 442.2,104.7 442.3,120.4 442.5,114.7 442.7,114.9 442.8,89.4 443.0,126.2 443.1,117.4 443.3,111.4 443.5,116.7 443.6,110.8 443.8,108.3 443.9,124.3 444.1,113.4 444.3,117.6 444.4,104.3 444.6,118.1 444.7,116.9 444.9,115.6 445.0,106.4 445.2,108.5 445.4,106.9 445.5,114.2 445.7,95.7 445.8,117.9 446.0,111.9 446.2,114.1 446.3,96.4 446.5,108.0 446.6,116.6 446.8,99.4 447.0,121.9 447.1,119.9 447.3,127.3 447.4,113.3 447.6,109.4 447.7,119.6 447.9,127.4 448.1,112.4 448.2,122.5 448.4,112.0 448.5,112.2 448.7,110.5 448.9,110.7 449.0,113.6 449.2,96.6 449.3,119.3 449.5,137.2 449.7,112.4 449.8,126.2 450.0,108.6 450.1,108.8 450.3,119.8 450.4,112.5 450.6,94.0 450.8,131.2 450.9,106.2 451.1,103.1 451.2,114.8 451.4,117.2 451.6,111.7 451.7,112.7 451.9,119.8 452.0,72.7 452.2,126.5 452.3,90.8 452.5,107.4 452.7,118.9 452.8,120.3 453.0,127.3 453.1,145.4 453.3,123.5 453.5,125.8 453.6,111.9 453.8,97.1 453.9,116.2 454.1,113.4 454.3,89.4 454.4,128.0 454.6,96.8 454.7,119.6 454.9,131.4 455.0,118.8 455.2,97.7 455.4,107.9 455.5,97.3 455.7,110.4 455.8,124.7 456.0,110.0 456.2,120.9 456.3,108.6 456.5,125.0 456.6,118.7 456.8,104.1 457.0,107.2 457.1,124.1 457.3,116.0 457.4,125.5 457.6,105.3 457.7,125.6 457.9,100.2 458.1,95.9 458.2,107.6 458.4,102.2 458.5,105.5 458.7,114.3 458.9,123.0 459.0,120.6 459.2,110.5 459.3,118.8 459.5,93.8 459.7,118.5 459.8,121.1 460.0,129.0 460.1,112.0 460.3,105.9 460.4,117.4 460.6,123.9 460.8,121.8 460.9,114.1 461.1,125.3 461.2,115.3 461.4,116.9 461.6,104.9 461.7,106.9 461.9,113.6 462.0,120.7 462.2,111.3 462.4,103.8 462.5,121.9 462.7,112.4 462.8,91.7 463.0,96.6 463.1,113.3 463.3,119.7 463.5,118.9 463.6,123.9 463.8,118.9 463.9,118.1 464.1,114.2 464.3,111.4 464.4,103.9 464.6,89.4 464.7,89.4 464.9,129.6 465.1,105.6 465.2,103.8 465.4,114.3 465.5,121.7 465.7,121.5 465.8,125.8 466.0,93.2 466.2,108.6 466.3,107.5 466.5,106.7 466.6,119.3 466.8,113.9 467.0,129.0 467.1,121.7 467.3,115.8 467.4,90.5 467.6,103.0 467.8,121.9 467.9,134.3 468.1,97.2 468.2,131.3 468.4,108.6 468.5,126.1 468.7,89.8 468.9,113.4 469.0,111.4 469.2,119.9 469.3,121.0 469.5,116.5 469.7,108.1 469.8,102.6 470.0,115.4 470.1,112.6 470.3,108.8 470.5,110.0 470.6,113.8 470.8,100.4 470.9,108.9 471.1,117.0 471.2,127.6 471.4,112.9 471.6,118.7 471.7,123.3 471.9,119.3 472.0,104.0 472.2,124.2 472.4,117.8 472.5,114.0 472.7,102.1 472.8,124.2 473.0,127.4 473.2,111.1 473.3,103.1 473.5,109.0 473.6,109.3 473.8,111.0 473.9,123.3 474.1,119.5 474.3,124.0 474.4,114.3 474.6,105.5 474.7,124.7 474.9,116.8 475.1,109.5 475.2,119.7 475.4,121.4 475.5,123.1 475.7,126.8 475.9,97.2 476.0,112.2 476.2,105.9 476.3,91.7 476.5,118.2 476.6,116.9 476.8,106.4 477.0,124.4 477.1,111.4 477.3,130.6 477.4,116.4 477.6,89.7 477.8,117.4 477.9,116.1 478.1,111.1 478.2,103.1 478.4,90.0 478.6,124.7 478.7,102.8 478.9,119.3 479.0,126.8 479.2,114.8 479.3,125.5 479.5,137.2 479.7,122.5 479.8,102.7 480.0,115.2 480.1,113.5 480.3,112.1 480.5,105.0 480.6,102.5 480.8,117.3 480.9,118.2 481.1,106.0 481.3,111.3 481.4,114.5 481.6,115.2 481.7,108.2 481.9,114.9 482.0,122.5 482.2,123.5 482.4,125.3 482.5,119.1 482.7,111.7 482.8,102.3 483.0,137.2 483.2,118.2 483.3,128.1 483.5,97.5 483.6,117.6 483.8,106.2 484.0,122.3 484.1,112.9 484.3,115.6 484.4,133.2 484.6,121.5 484.7,117.4 484.9,121.3 485.1,120.0 485.2,122.2 485.4,131.7 485.5,107.6 485.7,117.7 485.9,121.7 486.0,112.5 486.2,109.0 486.3,105.6 486.5,105.4 486.7,119.5 486.8,119.0 487.0,122.5 487.1,120.1 487.3,106.5 487.4,100.4 487.6,121.1 487.8,109.0 487.9,99.7 488.1,112.4 488.2,104.9 488.4,111.6 488.6,118.6 488.7,112.3 488.9,115.4 489.0,122.6 489.2,113.3 489.3,124.1 489.5,115.1 489.7,103.9 489.8,109.5 490.0,120.8 490.1,113.2 490.3,109.8 490.5,126.2 490.6,103.5 490.8,114.1 490.9,120.4 491.1,113.8 491.3,113.5 491.4,109.0 491.6,111.9 491.7,109.4 491.9,104.7 492.0,112.3 492.2,104.7 492.4,121.5 492.5,124.8 492.7,118.0 492.8,131.0 493.0,104.9 493.2,115.5 493.3,110.2 493.5,112.0 493.6,121.1 493.8,122.9 494.0,117.2 494.1,109.1 494.3,114.1 494.4,111.6 494.6,102.8 494.7,120.7 494.9,124.1 495.1,93.3 495.2,113.3 495.4,110.7 495.5,110.1 495.7,125.6 495.9,112.9 496.0,111.2 496.2,116.5 496.3,115.2 496.5,119.4 496.7,106.8 496.8,111.8 497.0,104.7 497.1,128.1 497.3,109.8 497.4,120.5 497.6,121.1 497.8,107.6 497.9,130.1 498.1,111.6 498.2,124.4 498.4,121.3 498.6,114.9 498.7,124.0 498.9,109.3 499.0,114.4 499.2,116.1 499.4,108.4 499.5,108.5 499.7,115.0 499.8,110.8 500.0,114.4 500.1,120.7 500.3,99.9 500.5,101.1 500.6,137.2 500.8,123.3 500.9,109.9 501.1,128.5 501.3,103.6 501.4,108.4 501.6,112.4 501.7,123.4 501.9,111.8 502.1,129.7 502.2,113.2 502.4,115.5 502.5,107.1 502.7,101.0 502.8,119.7 503.0,123.2 503.2,114.5 503.3,116.5 503.5,112.9 503.6,126.0 503.8,121.3 504.0,130.6 504.1,101.8 504.3,117.8 504.4,105.0 504.6,105.8 504.8,111.7 504.9,100.3 505.1,110.2 505.2,98.1 505.4,105.7 505.5,111.4 505.7,108.8 505.9,118.6 506.0,109.3 506.2,108.3 506.3,121.5 506.5,128.3 506.7,105.0 506.8,126.5 507.0,101.1 507.1,118.8 507.3,131.5 507.5,112.8 507.6,115.0 507.8,132.9 507.9,105.6 508.1,115.3 508.2,120.3 508.4,99.6 508.6,113.3 508.7,115.6 508.9,131.0 509.0,109.9 509.2,108.2 509.4,132.9 509.5,129.0 509.7,115.3 509.8,114.7 510.0,124.2 510.2,106.3 510.3,124.4 510.5,161.0 510.6,111.0 510.8,124.6 510.9,118.2 511.1,120.4 511.3,116.9 511.4,120.7 511.6,119.0 511.7,117.3 511.9,121.2 512.1,92.8 512.2,105.2 512.4,105.4 512.5,137.2 512.7,106.2 512.9,101.3 513.0,116.1 513.2,114.9 513.3,89.4 513.5,124.4 513.6,110.0 513.8,116.6 514.0,76.8 514.1,105.4 514.3,121.9 514.4,99.7 514.6,125.1 514.8,109.3 514.9,115.9 515.1,115.2 515.2,103.8 515.4,103.4 515.6,113.8 515.7,117.0 515.9,105.4 516.0,115.8 516.2,125.1 516.3,105.2 516.5,116.7 516.7,117.3 516.8,122.3 517.0,119.5 517.1,119.9 517.3,123.2 517.5,101.0 517.6,102.3 517.8,116.0 517.9,123.0 518.1,124.3 518.3,113.0 518.4,101.5 518.6,106.8 518.7,126.8 518.9,113.3 519.0,119.3 519.2,126.3 519.4,113.6 519.5,89.4 519.7,122.5 519.8,116.6 520.0,129.2 520.2,108.9 520.3,117.3 520.5,116.7 520.6,118.6 520.8,98.0 521.0,109.4 521.1,117.6 521.3,121.7 521.4,116.7 521.6,101.2 521.7,109.7 521.9,92.7 522.1,113.2 522.2,108.9 522.4,117.6 522.5,110.5 522.7,124.1 522.9,121.4 523.0,76.8 523.2,90.8 523.3,119.3 523.5,110.0 523.7,120.1 523.8,100.3 524.0,124.4 524.1,116.9 524.3,103.6 524.4,123.0 524.6,117.6 524.8,120.6 524.9,138.5 525.1,121.7 525.2,91.3 525.4,105.4 525.6,102.8 525.7,114.5 525.9,116.1 526.0,104.1 526.2,116.7 526.3,98.7 526.5,121.7 526.7,124.0 526.8,103.0 527.0,130.1 527.1,105.7 527.3,122.2 527.5,124.0 527.6,115.2 527.8,102.6 527.9,106.4 528.1,113.8 528.3,99.9 528.4,119.2 528.6,114.6 528.7,112.5 528.9,117.0 529.0,113.6 529.2,123.0 529.4,98.7 529.5,102.6 529.7,114.1 529.8,113.0 530.0,94.4 530.2,112.2 530.3,134.8 530.5,128.6 530.6,116.0 530.8,110.9 531.0,107.7 531.1,116.3 531.3,117.4 531.4,120.6 531.6,115.5 531.7,124.7 531.9,108.5 532.1,117.6 532.2,123.4 532.4,110.4 532.5,111.8 532.7,112.0 532.9,95.8 533.0,107.2 533.2,129.5 533.3,116.2 533.5,105.3 533.7,117.1 533.8,108.2 534.0,121.8 534.1,122.4 534.3,111.5 534.4,123.2 534.6,127.4 534.8,123.8 534.9,119.3 535.1,138.5 535.2,114.3 535.4,107.3 535.6,138.5 535.7,115.2 535.9,110.5 536.0,118.8 536.2,100.7 536.4,100.2 536.5,132.3 536.7,126.7 536.8,115.0 537.0,114.3 537.1,127.9 537.3,91.7 537.5,106.1 537.6,120.8 537.8,115.9 537.9,121.8 538.1,120.7 538.3,105.6 538.4,100.1 538.6,110.8 538.7,117.7 538.9,119.0 539.1,122.0 539.2,114.8 539.4,110.7 539.5,138.1 539.7,108.6 539.8,119.1 540.0,126.0 540.2,108.0 540.3,122.7 540.5,97.2 540.6,122.0 540.8,115.9 541.0,112.2 541.1,110.1 541.3,108.2 541.4,127.2" fill="none" stroke="#50ff28" stroke-width="0.6" stroke-linejoin="miter"/>
</g></g>
<g clip-path="url(#c2)"><g filter="url(#bl)" shape-rendering="auto">
<polyline points="26.5,293.1 26.7,284.1 26.8,265.1 27.0,292.5 27.1,294.5 27.3,280.5 27.5,261.0 27.6,272.7 27.8,289.3 27.9,278.0 28.1,295.5 28.2,272.1 28.4,273.0 28.6,278.4 28.7,287.3 28.9,274.7 29.0,288.7 29.2,274.9 29.4,274.0 29.5,273.5 29.7,286.3 29.8,276.6 30.0,290.0 30.1,282.8 30.3,320.2 30.5,274.7 30.6,278.2 30.8,301.6 30.9,280.9 31.1,283.2 31.3,297.2 31.4,284.9 31.6,282.0 31.7,264.0 31.9,279.4 32.0,300.9 32.2,299.8 32.4,284.1 32.5,280.6 32.7,273.2 32.8,289.4 33.0,285.0 33.2,288.1 33.3,282.6 33.5,281.4 33.6,266.7 33.8,287.2 33.9,287.0 34.1,275.7 34.3,298.1 34.4,302.0 34.6,285.3 34.7,275.3 34.9,269.2 35.1,281.6 35.2,289.8 35.4,297.6 35.5,279.1 35.7,273.5 35.9,289.9 36.0,288.6 36.2,277.6 36.3,286.7 36.5,298.2 36.6,292.2 36.8,282.2 37.0,282.1 37.1,273.4 37.3,277.0 37.4,283.2 37.6,276.9 37.8,290.2 37.9,270.6 38.1,288.1 38.2,260.2 38.4,274.4 38.5,301.0 38.7,291.4 38.9,281.0 39.0,289.3 39.2,284.5 39.3,283.6 39.5,278.5 39.7,296.3 39.8,283.6 40.0,280.5 40.1,286.2 40.3,286.0 40.4,274.3 40.6,272.1 40.8,269.5 40.9,287.6 41.1,280.9 41.2,274.0 41.4,286.4 41.6,282.9 41.7,265.7 41.9,291.1 42.0,289.4 42.2,294.8 42.3,285.2 42.5,289.5 42.7,289.8 42.8,287.5 43.0,281.6 43.1,285.5 43.3,295.3 43.5,293.3 43.6,299.0 43.8,272.6 43.9,299.9 44.1,278.2 44.3,285.2 44.4,291.4 44.6,290.8 44.7,283.5 44.9,290.0 45.0,301.5 45.2,265.9 45.4,271.6 45.5,281.6 45.7,277.2 45.8,267.3 46.0,265.4 46.2,294.0 46.3,286.1 46.5,278.0 46.6,286.1 46.8,284.8 46.9,281.6 47.1,260.2 47.3,279.0 47.4,283.8 47.6,283.4 47.7,291.9 47.9,274.4 48.1,292.9 48.2,288.3 48.4,279.0 48.5,273.2 48.7,284.2 48.8,292.2 49.0,296.4 49.2,278.0 49.3,279.4 49.5,293.8 49.6,275.4 49.8,284.2 50.0,284.9 50.1,281.1 50.3,284.3 50.4,294.3 50.6,275.9 50.7,274.3 50.9,279.1 51.1,273.8 51.2,288.9 51.4,283.5 51.5,292.8 51.7,299.8 51.9,277.3 52.0,273.3 52.2,280.1 52.3,266.5 52.5,284.9 52.7,266.8 52.8,298.3 53.0,289.9 53.1,276.9 53.3,280.7 53.4,289.6 53.6,313.0 53.8,279.6 53.9,260.2 54.1,307.1 54.2,301.9 54.4,299.2 54.6,273.8 54.7,291.0 54.9,287.1 55.0,286.4 55.2,279.0 55.3,287.8 55.5,293.1 55.7,285.5 55.8,282.7 56.0,286.0 56.1,280.1 56.3,280.9 56.5,286.3 56.6,270.6 56.8,264.0 56.9,279.1 57.1,274.5 57.2,269.6 57.4,265.6 57.6,273.4 57.7,282.9 57.9,289.8 58.0,301.0 58.2,286.4 58.4,281.1 58.5,276.8 58.7,278.1 58.8,283.3 59.0,288.8 59.1,277.9 59.3,291.8 59.5,269.4 59.6,257.4 59.8,289.0 59.9,268.1 60.1,294.3 60.3,288.4 60.4,279.5 60.6,276.5 60.7,289.0 60.9,295.5 61.1,296.1 61.2,271.2 61.4,289.4 61.5,270.6 61.7,282.9 61.8,286.8 62.0,274.2 62.2,272.8 62.3,279.3 62.5,289.3 62.6,293.4 62.8,291.8 63.0,287.5 63.1,284.4 63.3,276.6 63.4,287.1 63.6,282.1 63.7,281.4 63.9,283.2 64.1,292.9 64.2,260.2 64.4,297.2 64.5,277.9 64.7,290.7 64.9,289.3 65.0,276.4 65.2,276.6 65.3,293.3 65.5,284.8 65.6,275.2 65.8,282.1 66.0,287.6 66.1,287.4 66.3,282.1 66.4,286.4 66.6,307.1 66.8,273.3 66.9,292.4 67.1,290.2 67.2,281.2 67.4,277.6 67.5,280.1 67.7,294.0 67.9,294.2 68.0,281.7 68.2,273.7 68.3,289.0 68.5,271.4 68.7,279.6 68.8,284.4 69.0,280.6 69.1,282.7 69.3,276.2 69.5,302.5 69.6,294.2 69.8,301.4 69.9,273.9 70.1,275.7 70.2,307.1 70.4,284.8 70.6,292.8 70.7,277.6 70.9,275.9 71.0,279.0 71.2,285.0 71.4,287.0 71.5,280.4 71.7,291.9 71.8,267.1 72.0,290.1 72.1,279.9 72.3,283.4 72.5,282.9 72.6,291.1 72.8,281.2 72.9,278.7 73.1,272.8 73.3,277.2 73.4,280.1 73.6,263.4 73.7,262.9 73.9,287.4 74.0,310.7 74.2,297.5 74.4,286.3 74.5,293.7 74.7,294.3 74.8,296.7 75.0,275.5 75.2,284.1 75.3,290.5 75.5,264.0 75.6,275.7 75.8,295.5 75.9,289.5 76.1,278.4 76.3,283.8 76.4,268.4 76.6,288.7 76.7,291.6 76.9,269.6 77.1,279.4 77.2,275.7 77.4,273.7 77.5,287.4 77.7,273.6 77.9,282.8 78.0,270.4 78.2,287.9 78.3,282.0 78.5,289.1 78.6,276.2 78.8,287.9 79.0,276.8 79.1,269.9 79.3,276.7 79.4,278.6 79.6,279.9 79.8,295.5 79.9,291.9 80.1,270.0 80.2,280.6 80.4,270.5 80.5,267.1 80.7,307.1 80.9,284.0 81.0,277.4 81.2,279.2 81.3,293.4 81.5,291.3 81.7,307.1 81.8,284.8 82.0,295.7 82.1,280.3 82.3,286.3 82.4,301.3 82.6,286.7 82.8,284.5 82.9,296.6 83.1,290.1 83.2,283.8 83.4,287.1 83.6,264.5 83.7,281.2 83.9,283.8 84.0,281.1 84.2,293.5 84.3,287.0 84.5,293.3 84.7,299.9 84.8,299.2 85.0,299.5 85.1,279.1 85.3,273.2 85.5,282.1 85.6,268.2 85.8,283.0 85.9,296.3 86.1,282.7 86.3,284.7 86.4,294.5 86.6,294.7 86.7,283.3 86.9,279.5 87.0,297.1 87.2,297.5 87.4,270.8 87.5,296.8 87.7,271.8 87.8,281.0 88.0,300.4 88.2,287.5 88.3,288.1 88.5,279.6 88.6,296.7 88.8,280.5 88.9,281.2 89.1,297.5 89.3,262.3 89.4,277.4 89.6,277.3 89.7,284.0 89.9,282.9 90.1,285.6 90.2,301.7 90.4,283.7 90.5,278.3 90.7,276.7 90.8,281.9 91.0,285.4 91.2,284.5 91.3,284.3 91.5,280.5 91.6,298.4 91.8,260.5 92.0,274.8 92.1,286.0 92.3,283.0 92.4,288.2 92.6,279.9 92.7,288.3 92.9,268.3 93.1,265.4 93.2,289.2 93.4,271.5 93.5,273.9 93.7,272.9 93.9,279.9 94.0,278.4 94.2,294.3 94.3,281.0 94.5,278.5 94.7,265.1 94.8,272.1 95.0,297.2 95.1,295.8 95.3,279.1 95.4,276.0 95.6,283.2 95.8,291.0 95.9,290.6 96.1,281.9 96.2,279.7 96.4,296.3 96.6,296.1 96.7,274.1 96.9,290.4 97.0,264.8 97.2,284.9 97.3,286.4 97.5,267.5 97.7,294.8 97.8,296.4 98.0,281.6 98.1,283.6 98.3,276.9 98.5,287.2 98.6,295.8 98.8,307.1 98.9,300.0 99.1,285.6 99.2,291.2 99.4,285.3 99.6,268.9 99.7,260.2 99.9,296.2 100.0,275.5 100.2,283.1 100.4,282.9 100.5,291.9 100.7,272.7 100.8,278.1 101.0,284.8 101.1,272.9 101.3,271.3 101.5,268.6 101.6,271.4 101.8,279.6 101.9,286.5 102.1,294.4 102.3,283.3 102.4,279.6 102.6,283.3 102.7,280.5 102.9,269.2 103.1,296.8 103.2,274.9 103.4,297.1 103.5,284.6 103.7,279.3 103.8,288.9 104.0,294.5 104.2,294.1 104.3,279.9 104.5,289.7 104.6,272.6 104.8,270.7 105.0,270.2 105.1,279.8 105.3,290.0 105.4,272.1 105.6,278.6 105.7,284.5 105.9,280.6 106.1,291.4 106.2,281.9 106.4,290.2 106.5,286.5 106.7,287.2 106.9,291.7 107.0,285.3 107.2,293.2 107.3,293.2 107.5,285.1 107.6,286.3 107.8,299.3 108.0,300.9 108.1,292.1 108.3,278.1 108.4,282.0 108.6,286.9 108.8,279.4 108.9,292.2 109.1,288.5 109.2,263.0 109.4,280.2 109.5,290.2 109.7,289.1 109.9,279.9 110.0,271.3 110.2,295.5 110.3,291.1 110.5,267.8 110.7,285.8 110.8,292.5 111.0,297.7 111.1,296.9 111.3,264.9 111.5,281.7 111.6,286.5 111.8,288.5 111.9,295.6 112.1,284.2 112.2,297.8 112.4,271.3 112.6,283.9 112.7,287.2 112.9,281.9 113.0,277.0 113.2,260.2 113.4,289.8 113.5,282.0 113.7,292.1 113.8,268.1 114.0,298.0 114.1,285.4 114.3,264.1 114.5,286.1 114.6,283.6 114.8,260.2 114.9,284.1 115.1,271.2 115.3,297.1 115.4,282.4 115.6,285.9 115.7,281.2 115.9,289.5 116.0,288.6 116.2,303.3 116.4,300.9 116.5,276.2 116.7,277.6 116.8,283.8 117.0,283.5 117.2,288.6 117.3,276.0 117.5,272.2 117.6,288.0 117.8,292.0 117.9,287.1 118.1,301.8 118.3,285.3 118.4,306.5 118.6,273.0 118.7,300.8 118.9,280.4 119.1,288.6 119.2,288.2 119.4,277.2 119.5,280.9 119.7,282.2 119.9,288.5 120.0,284.2 120.2,277.3 120.3,268.6 120.5,281.1 120.6,293.4 120.8,286.8 121.0,293.1 121.1,277.3 121.3,293.6 121.4,276.2 121.6,293.5 121.8,275.7 121.9,285.6 122.1,274.7 122.2,295.0 122.4,286.1 122.5,286.6 122.7,282.9 122.9,296.7 123.0,302.5 123.2,279.9 123.3,287.4 123.5,274.1 123.7,282.5 123.8,278.2 124.0,292.1 124.1,301.7 124.3,295.2 124.4,287.5 124.6,296.4 124.8,297.6 124.9,293.1 125.1,280.5 125.2,289.8 125.4,284.0 125.6,279.9 125.7,281.4 125.9,289.0 126.0,288.4 126.2,275.6 126.3,275.5 126.5,276.5 126.7,274.6 126.8,279.4 127.0,285.1 127.1,284.5 127.3,283.2 127.5,284.3 127.6,292.5 127.8,260.2 127.9,277.0 128.1,277.9 128.3,289.3 128.4,274.1 128.6,276.8 128.7,310.7 128.9,286.1 129.0,286.7 129.2,283.2 129.4,282.7 129.5,299.0 129.7,276.8 129.8,302.0 130.0,251.4 130.2,266.9 130.3,290.4 130.5,280.0 130.6,290.6 130.8,273.3 130.9,266.6 131.1,288.6 131.3,276.9 131.4,265.8 131.6,274.5 131.7,284.0 131.9,264.6 132.1,290.5 132.2,286.5 132.4,282.2 132.5,284.7 132.7,283.4 132.8,284.1 133.0,275.4 133.2,278.2 133.3,281.9 133.5,284.4 133.6,249.0 133.8,274.0 134.0,285.6 134.1,296.6 134.3,290.8 134.4,284.1 134.6,277.1 134.7,279.2 134.9,276.9 135.1,290.0 135.2,269.4 135.4,286.0 135.5,284.8 135.7,292.4 135.9,289.5 136.0,293.8 136.2,295.9 136.3,288.8 136.5,279.9 136.7,276.9 136.8,288.9 137.0,287.9 137.1,274.5 137.3,283.6 137.4,291.0 137.6,275.8 137.8,274.9 137.9,284.8 138.1,289.4 138.2,301.0 138.4,275.0 138.6,289.8 138.7,274.8 138.9,278.7 139.0,281.9 139.2,293.3 139.3,287.4 139.5,270.6 139.7,287.5 139.8,285.7 140.0,286.8 140.1,268.4 140.3,284.0 140.5,281.7 140.6,273.4 140.8,277.4 140.9,271.0 141.1,293.8 141.2,297.3 141.4,300.9 141.6,301.5 141.7,281.6 141.9,282.4 142.0,282.6 142.2,284.1 142.4,276.3 142.5,299.0 142.7,300.6 142.8,272.6 143.0,290.8 143.1,281.2 143.3,267.5 143.5,280.2 143.6,273.1 143.8,287.9 143.9,300.8 144.1,279.8 144.3,279.2 144.4,293.9 144.6,292.3 144.7,288.0 144.9,302.8 145.1,277.0 145.2,273.8 145.4,276.5 145.5,280.2 145.7,304.5 145.8,278.4 146.0,279.2 146.2,267.1 146.3,274.6 146.5,279.1 146.6,291.2 146.8,280.3 147.0,284.7 147.1,298.1 147.3,279.7 147.4,286.4 147.6,282.4 147.7,270.9 147.9,277.8 148.1,290.9 148.2,274.3 148.4,287.5 148.5,271.3 148.7,284.4 148.9,291.3 149.0,290.6 149.2,293.5 149.3,286.3 149.5,286.0 149.6,275.4 149.8,297.2 150.0,295.1 150.1,280.6 150.3,265.0 150.4,274.7 150.6,260.2 150.8,279.5 150.9,295.6 151.1,272.1 151.2,279.3 151.4,294.2 151.5,294.3 151.7,294.9 151.9,276.2 152.0,296.1 152.2,300.0 152.3,284.1 152.5,284.0 152.7,267.0 152.8,289.2 153.0,281.3 153.1,291.0 153.3,292.3 153.5,282.1 153.6,276.5 153.8,284.6 153.9,294.9 154.1,294.1 154.2,282.6 154.4,281.8 154.6,290.3 154.7,290.4 154.9,290.4 155.0,307.0 155.2,298.7 155.4,280.2 155.5,285.8 155.7,297.4 155.8,290.9 156.0,283.2 156.1,282.2 156.3,270.7 156.5,294.5 156.6,287.9 156.8,277.4 156.9,292.6 157.1,305.5 157.3,276.6 157.4,294.8 157.6,282.1 157.7,286.6 157.9,273.1 158.0,291.6 158.2,301.5 158.4,285.6 158.5,297.9 158.7,284.1 158.8,293.0 159.0,259.3 159.2,301.1 159.3,280.0 159.5,258.6 159.6,278.7 159.8,284.5 160.0,291.3 160.1,269.1 160.3,291.5 160.4,280.3 160.6,295.0 160.7,303.7 160.9,281.5 161.1,289.6 161.2,277.8 161.4,294.7 161.5,277.7 161.7,273.8 161.9,289.0 162.0,286.1 162.2,283.3 162.3,295.0 162.5,276.5 162.6,297.2 162.8,284.9 163.0,288.7 163.1,286.5 163.3,289.8 163.4,314.0 163.6,307.2 163.8,281.3 163.9,274.3 164.1,270.6 164.2,290.7 164.4,299.4 164.5,287.4 164.7,271.4 164.9,281.5 165.0,293.3 165.2,279.5 165.3,331.0 165.5,294.2 165.7,277.3 165.8,283.2 166.0,285.1 166.1,276.1 166.3,289.2 166.4,284.8 166.6,268.3 166.8,262.8 166.9,286.0 167.1,294.9 167.2,280.7 167.4,293.9 167.6,236.0 167.7,278.3 167.9,295.8 168.0,288.0 168.2,292.9 168.4,286.9 168.5,289.1 168.7,298.9 168.8,275.4 169.0,283.4 169.1,291.5 169.3,251.4 169.5,284.8 169.6,304.5 169.8,282.9 169.9,275.0 170.1,282.3 170.3,273.7 170.4,283.7 170.6,281.7 170.7,297.7 170.9,284.2 171.0,274.1 171.2,281.3 171.4,292.7 171.5,258.6 171.7,319.0 171.8,289.0 172.0,281.9 172.2,295.7 172.3,291.8 172.5,284.3 172.6,285.1 172.8,282.2 172.9,246.6 173.1,282.6 173.3,291.7 173.4,282.3 173.6,283.7 173.7,296.7 173.9,286.2 174.1,273.0 174.2,281.3 174.4,296.8 174.5,294.6 174.7,301.8 174.8,280.6 175.0,287.4 175.2,290.6 175.3,282.3 175.5,265.3 175.6,281.8 175.8,270.8 176.0,273.9 176.1,279.9 176.3,273.7 176.4,288.6 176.6,273.1 176.8,297.2 176.9,291.1 177.1,291.6 177.2,308.4 177.4,279.6 177.5,280.5 177.7,256.0 177.9,279.7 178.0,278.3 178.2,284.5 178.3,288.9 178.5,285.0 178.7,293.6 178.8,282.2 179.0,286.9 179.1,300.9 179.3,276.7 179.4,271.1 179.6,287.4 179.8,290.5 179.9,285.7 180.1,282.7 180.2,297.5 180.4,290.1 180.6,289.7 180.7,267.6 180.9,278.4 181.0,279.2 181.2,278.8 181.3,290.3 181.5,282.1 181.7,274.4 181.8,275.9 182.0,286.7 182.1,274.3 182.3,284.8 182.5,307.0 182.6,282.0 182.8,279.7 182.9,278.2 183.1,278.8 183.2,270.5 183.4,293.3 183.6,282.2 183.7,298.2 183.9,308.6 184.0,288.3 184.2,286.3 184.4,294.0 184.5,285.8 184.7,287.7 184.8,257.4 185.0,281.1 185.2,277.1 185.3,297.7 185.5,277.7 185.6,279.8 185.8,300.6 185.9,290.5 186.1,280.9 186.3,296.8 186.4,280.3 186.6,294.6 186.7,264.4 186.9,282.2 187.1,280.2 187.2,277.8 187.4,282.1 187.5,278.7 187.7,255.0 187.8,287.1 188.0,301.4 188.2,278.8 188.3,294.7 188.5,291.0 188.6,293.9 188.8,268.6 189.0,282.4 189.1,290.8 189.3,288.3 189.4,277.6 189.6,282.6 189.7,281.9 189.9,284.8 190.1,298.0 190.2,283.3 190.4,284.1 190.5,274.2 190.7,275.5 190.9,283.5 191.0,281.7 191.2,270.4 191.3,281.6 191.5,288.6 191.6,284.4 191.8,274.8 192.0,265.0 192.1,281.2 192.3,279.6 192.4,288.8 192.6,291.5 192.8,292.2 192.9,293.1 193.1,293.0 193.2,285.8 193.4,283.3 193.6,295.0 193.7,272.0 193.9,274.8 194.0,273.5 194.2,290.3 194.3,282.8 194.5,276.7 194.7,283.3 194.8,292.2 195.0,274.3 195.1,284.2 195.3,271.1 195.5,285.4 195.6,288.9 195.8,288.3 195.9,271.5 196.1,301.9 196.2,283.4 196.4,278.8 196.6,289.4 196.7,274.3 196.9,284.5 197.0,294.0 197.2,292.1 197.4,284.9 197.5,277.7 197.7,293.4 197.8,279.8 198.0,311.9 198.1,275.5 198.3,273.8 198.5,277.2 198.6,288.8 198.8,277.0 198.9,302.9 199.1,281.4 199.3,273.3 199.4,288.7 199.6,279.4 199.7,284.3 199.9,279.3 200.0,275.4 200.2,274.9 200.4,259.8 200.5,286.8 200.7,284.3 200.8,285.9 201.0,289.8 201.2,268.2 201.3,279.1 201.5,289.3 201.6,282.3 201.8,271.7 202.0,273.5 202.1,281.8 202.3,292.3 202.4,279.0 202.6,291.6 202.7,304.7 202.9,281.6 203.1,279.5 203.2,284.3 203.4,286.6 203.5,280.5 203.7,295.1 203.9,287.3 204.0,274.6 204.2,281.5 204.3,294.4 204.5,286.4 204.6,293.4 204.8,285.5 205.0,284.3 205.1,291.5 205.3,273.9 205.4,281.5 205.6,295.2 205.8,292.8 205.9,278.6 206.1,288.8 206.2,284.4 206.4,287.2 206.5,289.2 206.7,290.6 206.9,290.8 207.0,288.3 207.2,280.3 207.3,283.2 207.5,287.0 207.7,270.9 207.8,274.4 208.0,283.8 208.1,284.3 208.3,281.8 208.4,282.8 208.6,289.7 208.8,275.9 208.9,270.4 209.1,283.2 209.2,275.0 209.4,281.4 209.6,285.3 209.7,282.9 209.9,286.0 210.0,288.4 210.2,294.8 210.4,280.3 210.5,279.7 210.7,286.1 210.8,292.0 211.0,276.2 211.1,295.6 211.3,272.2 211.5,276.8 211.6,275.0 211.8,275.6 211.9,281.0 212.1,285.3 212.3,282.5 212.4,284.4 212.6,284.0 212.7,291.6 212.9,274.3 213.0,277.0 213.2,293.6 213.4,282.5 213.5,278.1 213.7,285.1 213.8,272.6 214.0,273.1 214.2,269.2 214.3,278.6 214.5,289.6 214.6,304.7 214.8,292.9 214.9,276.1 215.1,273.2 215.3,280.8 215.4,281.8 215.6,274.9 215.7,274.5 215.9,290.4 216.1,283.1 216.2,283.1 216.4,286.8 216.5,270.8 216.7,292.2 216.8,289.7 217.0,277.9 217.2,296.4 217.3,291.4 217.5,290.7 217.6,278.8 217.8,265.1 218.0,280.7 218.1,281.0 218.3,298.7 218.4,285.3 218.6,277.1 218.8,289.5 218.9,284.9 219.1,277.4 219.2,293.0 219.4,302.9 219.5,284.6 219.7,290.1 219.9,282.5 220.0,285.3 220.2,289.5 220.3,294.8 220.5,281.0 220.7,287.4 220.8,272.3 221.0,284.8 221.1,274.8 221.3,286.6 221.4,285.5 221.6,289.0 221.8,278.0 221.9,284.1 222.1,274.9 222.2,284.9 222.4,273.9 222.6,270.8 222.7,279.4 222.9,289.1 223.0,259.8 223.2,292.3 223.3,295.5 223.5,274.5 223.7,282.6 223.8,291.1 224.0,283.7 224.1,278.9 224.3,286.0 224.5,285.5 224.6,292.0 224.8,278.1 224.9,287.2 225.1,272.2 225.2,288.8 225.4,289.3 225.6,282.7 225.7,274.4 225.9,284.9 226.0,291.4 226.2,283.8 226.4,291.1 226.5,277.5 226.7,290.2 226.8,288.4 227.0,276.5 227.2,282.5 227.3,287.5 227.5,295.2 227.6,277.2 227.8,277.5 227.9,276.9 228.1,272.1 228.3,278.8 228.4,279.2 228.6,283.4 228.7,272.2 228.9,278.7 229.1,259.8 229.2,286.8 229.4,291.8 229.5,284.6 229.7,292.6 229.8,279.1 230.0,286.7 230.2,290.6 230.3,285.6 230.5,273.8 230.6,296.4 230.8,274.9 231.0,289.4 231.1,278.5 231.3,293.7 231.4,300.3 231.6,277.4 231.7,288.7 231.9,275.6 232.1,291.3 232.2,280.2 232.4,288.0 232.5,283.1 232.7,270.9 232.9,282.1 233.0,292.8 233.2,287.1 233.3,275.1 233.5,281.5 233.6,285.0 233.8,281.2 234.0,279.7 234.1,284.3 234.3,269.9 234.4,275.2 234.6,285.8 234.8,287.6 234.9,292.8 235.1,275.1 235.2,281.3 235.4,288.2 235.6,283.6 235.7,278.8 235.9,277.1 236.0,278.6 236.2,286.6 236.3,282.4 236.5,299.6 236.7,284.7 236.8,288.6 237.0,285.2 237.1,272.5 237.3,275.9 237.5,279.6 237.6,279.2 237.8,283.5 237.9,278.4 238.1,296.0 238.2,278.9 238.4,279.5 238.6,276.7 238.7,283.2 238.9,285.2 239.0,279.2 239.2,301.2 239.4,283.1 239.5,266.0 239.7,287.7 239.8,286.4 240.0,289.6 240.1,278.3 240.3,267.6 240.5,278.1 240.6,287.4 240.8,273.7 240.9,279.4 241.1,289.0 241.3,289.2 241.4,276.1 241.6,271.9 241.7,281.2 241.9,278.8 242.0,285.8 242.2,284.2 242.4,288.6 242.5,282.3 242.7,278.1 242.8,275.1 243.0,302.9 243.2,286.2 243.3,320.2 243.5,288.5 243.6,284.0 243.8,280.5 244.0,298.3 244.1,296.3 244.3,276.3 244.4,281.5 244.6,285.6 244.7,272.8 244.9,290.7 245.1,256.0 245.2,286.9 245.4,285.5 245.5,284.2 245.7,279.0 245.9,290.4 246.0,281.6 246.2,296.3 246.3,287.5 246.5,291.8 246.6,290.8 246.8,279.5 247.0,316.6 247.1,293.0 247.3,292.4 247.4,284.1 247.6,299.8 247.8,271.6 247.9,285.4 248.1,288.8 248.2,288.9 248.4,273.2 248.5,288.8 248.7,280.4 248.9,286.8 249.0,259.8 249.2,277.0 249.3,284.7 249.5,290.4 249.7,273.2 249.8,264.4 250.0,278.4 250.1,280.0 250.3,280.1 250.4,274.8 250.6,280.7 250.8,289.0 250.9,280.7 251.1,264.4 251.2,272.8 251.4,281.3 251.6,281.1 251.7,279.5 251.9,292.5 252.0,293.0 252.2,278.8 252.4,284.8 252.5,283.7 252.7,296.9 252.8,259.8 253.0,287.0 253.1,292.2 253.3,287.2 253.5,295.8 253.6,276.5 253.8,277.5 253.9,304.7 254.1,274.7 254.3,267.3 254.4,286.3 254.6,297.2 254.7,276.1 254.9,266.2 255.0,286.6 255.2,288.0 255.4,293.3 255.5,280.2 255.7,285.8 255.8,277.6 256.0,284.6 256.2,293.9 256.3,295.2 256.5,281.3 256.6,277.7 256.8,279.0 256.9,289.2 257.1,281.3 257.3,277.9 257.4,279.1 257.6,282.0 257.7,272.9 257.9,282.8 258.1,285.4 258.2,275.4 258.4,294.0 258.5,280.7 258.7,279.9 258.8,295.5 259.0,285.2 259.2,282.0 259.3,292.9 259.5,279.1 259.6,286.2 259.8,290.6 260.0,287.9 260.1,278.6 260.3,279.6 260.4,288.3 260.6,281.8 260.8,282.7 260.9,293.7 261.1,285.9 261.2,277.4 261.4,269.9 261.5,296.1 261.7,269.6 261.9,285.9 262.0,283.3 262.2,289.4 262.3,286.9 262.5,285.9 262.7,277.9 262.8,278.6 263.0,276.5 263.1,268.1 263.3,268.8 263.4,280.8 263.6,284.9 263.8,285.7 263.9,275.4 264.1,273.6 264.2,295.1 264.4,283.4 264.6,285.3 264.7,279.2 264.9,286.0 265.0,287.6 265.2,284.6 265.3,280.0 265.5,282.1 265.7,280.8 265.8,291.8 266.0,279.5 266.1,289.6 266.3,279.3 266.5,298.8 266.6,278.4 266.8,282.9 266.9,290.8 267.1,275.9 267.2,287.4 267.4,275.1 267.6,275.0 267.7,292.3 267.9,269.1 268.0,280.9 268.2,285.8 268.4,285.3 268.5,291.4 268.7,290.1 268.8,283.1 269.0,285.9 269.2,288.4 269.3,290.8 269.5,281.3 269.6,278.2 269.8,293.1 269.9,279.9 270.1,292.1 270.3,291.2 270.4,292.3 270.6,285.5 270.7,291.0 270.9,276.8 271.1,293.3 271.2,294.1 271.4,295.9 271.5,287.6 271.7,291.1 271.8,293.0 272.0,290.0 272.2,279.1 272.3,283.2 272.5,268.9 272.6,277.4 272.8,288.6 273.0,286.6 273.1,291.9 273.3,281.0 273.4,282.8 273.6,280.8 273.7,291.4 273.9,293.6 274.1,287.1 274.2,256.0 274.4,292.2 274.5,281.7 274.7,288.1 274.9,286.8 275.0,287.2 275.2,278.1 275.3,269.2 275.5,285.7 275.6,283.2 275.8,294.5 276.0,287.3 276.1,295.7 276.3,284.3 276.4,278.6 276.6,286.2 276.8,284.3 276.9,284.7 277.1,284.2 277.2,289.7 277.4,278.9 277.6,289.9 277.7,285.3 277.9,281.3 278.0,289.1 278.2,289.9 278.3,287.0 278.5,295.0 278.7,294.2 278.8,284.4 279.0,258.6 279.1,274.1 279.3,283.2 279.5,278.1 279.6,277.7 279.8,283.2 279.9,282.7 280.1,275.3 280.2,283.0 280.4,271.4 280.6,282.2 280.7,280.6 280.9,278.2 281.0,281.9 281.2,289.6 281.4,292.9 281.5,278.4 281.7,281.0 281.8,292.4 282.0,277.6 282.1,282.5 282.3,284.0 282.5,288.1 282.6,311.9 282.8,284.8 282.9,281.4 283.1,281.6 283.3,289.1 283.4,294.8 283.6,283.6 283.7,283.4 283.9,286.6 284.0,292.5 284.2,281.7 284.4,280.3 284.5,283.2 284.7,277.6 284.8,278.2 285.0,292.7 285.2,285.9 285.3,301.6 285.5,280.2 285.6,265.3 285.8,295.5 286.0,261.6 286.1,283.8 286.3,287.7 286.4,285.7 286.6,281.4 286.7,278.3 286.9,301.2 287.1,293.7 287.2,304.4 287.4,286.1 287.5,298.7 287.7,285.1 287.9,288.5 288.0,278.7 288.2,292.4 288.3,265.3 288.5,271.3 288.6,291.0 288.8,278.0 289.0,285.4 289.1,281.8 289.3,291.2 289.4,279.3 289.6,295.0 289.8,287.4 289.9,284.6 290.1,279.7 290.2,292.4 290.4,285.7 290.5,293.7 290.7,278.2 290.9,282.7 291.0,284.4 291.2,273.1 291.3,287.5 291.5,269.6 291.7,276.9 291.8,285.5 292.0,295.2 292.1,282.4 292.3,290.2 292.4,280.9 292.6,296.0 292.8,268.9 292.9,275.8 293.1,277.8 293.2,281.5 293.4,299.9 293.6,261.6 293.7,294.5 293.9,274.3 294.0,293.5 294.2,307.1 294.4,286.6 294.5,278.3 294.7,297.3 294.8,284.1 295.0,286.3 295.1,285.3 295.3,287.9 295.5,272.4 295.6,296.1 295.8,292.5 295.9,263.4 296.1,287.8 296.3,282.0 296.4,305.4 296.6,282.5 296.7,285.9 296.9,287.7 297.0,302.5 297.2,279.0 297.4,282.5 297.5,295.1 297.7,264.2 297.8,278.8 298.0,284.7 298.2,265.3 298.3,279.7 298.5,293.6 298.6,273.9 298.8,301.6 298.9,280.3 299.1,282.3 299.3,283.4 299.4,287.2 299.6,293.0 299.7,295.7 299.9,278.1 300.1,287.1 300.2,273.8 300.4,294.0 300.5,294.8 300.7,285.8 300.8,271.4 301.0,289.6 301.2,282.0 301.3,294.7 301.5,292.0 301.6,290.2 301.8,291.0 302.0,276.5 302.1,281.9 302.3,281.4 302.4,284.0 302.6,282.9 302.8,274.9 302.9,283.3 303.1,289.4 303.2,278.4 303.4,285.7 303.5,272.4 303.7,281.8 303.9,281.3 304.0,296.0 304.2,289.7 304.3,282.8 304.5,275.2 304.7,305.4 304.8,282.6 305.0,279.6 305.1,284.4 305.3,279.9 305.4,274.3 305.6,289.9 305.8,288.6 305.9,284.1 306.1,285.6 306.2,273.8 306.4,283.6 306.6,283.6 306.7,275.0 306.9,281.8 307.0,280.3 307.2,279.7 307.3,283.8 307.5,282.9 307.7,285.5 307.8,301.2 308.0,294.9 308.1,279.3 308.3,299.3 308.5,289.9 308.6,287.0 308.8,270.2 308.9,307.0 309.1,288.5 309.2,289.1 309.4,276.0 309.6,281.5 309.7,274.6 309.9,288.8 310.0,297.2 310.2,289.9 310.4,278.5 310.5,285.4 310.7,279.8 310.8,296.2 311.0,295.8 311.2,281.6 311.3,290.2 311.5,281.0 311.6,297.8 311.8,283.6 311.9,286.6 312.1,277.4 312.3,274.3 312.4,280.5 312.6,289.3 312.7,294.6 312.9,277.7 313.1,294.6 313.2,290.6 313.4,284.7 313.5,266.9 313.7,273.8 313.8,283.3 314.0,280.7 314.2,278.8 314.3,272.6 314.5,286.8 314.6,302.4 314.8,262.9 315.0,293.4 315.1,296.9 315.3,262.5 315.4,283.6 315.6,291.8 315.7,281.8 315.9,286.3 316.1,287.3 316.2,289.2 316.4,286.4 316.5,295.7 316.7,277.5 316.9,280.8 317.0,286.7 317.2,282.4 317.3,283.6 317.5,269.9 317.6,276.7 317.8,287.6 318.0,280.9 318.1,274.5 318.3,286.1 318.4,285.3 318.6,287.7 318.8,266.4 318.9,296.5 319.1,281.7 319.2,284.4 319.4,260.7 319.6,298.4 319.7,283.2 319.9,288.0 320.0,290.4 320.2,276.8 320.3,296.2 320.5,276.1 320.7,267.2 320.8,280.8 321.0,279.5 321.1,286.1 321.3,284.9 321.5,280.8 321.6,284.8 321.8,270.7 321.9,279.6 322.1,302.3 322.2,282.7 322.4,287.8 322.6,278.4 322.7,281.1 322.9,284.0 323.0,285.7 323.2,290.3 323.4,272.4 323.5,301.3 323.7,265.0 323.8,286.0 324.0,278.2 324.1,271.4 324.3,263.8 324.5,272.2 324.6,271.8 324.8,280.9 324.9,304.5 325.1,281.7 325.3,277.2 325.4,285.9 325.6,298.6 325.7,285.8 325.9,282.6 326.0,283.7 326.2,275.3 326.4,278.0 326.5,286.1 326.7,288.2 326.8,291.1 327.0,275.4 327.2,274.4 327.3,288.4 327.5,292.5 327.6,286.9 327.8,285.1 328.0,314.3 328.1,274.5 328.3,275.5 328.4,283.0 328.6,289.8 328.7,300.1 328.9,285.1 329.1,280.2 329.2,281.8 329.4,283.9 329.5,285.9 329.7,281.6 329.9,278.8 330.0,286.2 330.2,268.0 330.3,274.4 330.5,288.2 330.6,284.3 330.8,281.8 331.0,278.2 331.1,288.4 331.3,286.8 331.4,286.4 331.6,293.5 331.8,284.0 331.9,297.6 332.1,298.6 332.2,281.7 332.4,292.3 332.5,293.3 332.7,283.1 332.9,284.0 333.0,282.8 333.2,281.7 333.3,300.4 333.5,275.6 333.7,289.9 333.8,275.4 334.0,252.6 334.1,275.4 334.3,289.0 334.4,287.2 334.6,270.6 334.8,297.9 334.9,279.4 335.1,277.8 335.2,286.8 335.4,272.8 335.6,289.2 335.7,303.8 335.9,279.9 336.0,280.2 336.2,280.7 336.4,286.7 336.5,293.2 336.7,268.0 336.8,290.3 337.0,271.0 337.1,277.3 337.3,277.1 337.5,284.4 337.6,276.1 337.8,277.8 337.9,284.7 338.1,290.4 338.3,284.6 338.4,278.3 338.6,291.3 338.7,278.6 338.9,293.9 339.0,267.2 339.2,274.4 339.4,273.5 339.5,291.7 339.7,288.7 339.8,286.0 340.0,284.8 340.2,289.2 340.3,286.6 340.5,287.5 340.6,267.1 340.8,275.7 340.9,294.1 341.1,283.4 341.3,275.8 341.4,284.9 341.6,273.3 341.7,295.1 341.9,284.5 342.1,261.0 342.2,269.2 342.4,279.9 342.5,286.5 342.7,277.0 342.8,286.4 343.0,277.9 343.2,288.4 343.3,293.0 343.5,286.4 343.6,294.5 343.8,289.6 344.0,273.7 344.1,285.8 344.3,274.4 344.4,277.6 344.6,278.2 344.8,310.7 344.9,290.6 345.1,294.8 345.2,304.6 345.4,262.5 345.5,267.1 345.7,296.8 345.9,282.3 346.0,288.7 346.2,277.3 346.3,281.6 346.5,290.8 346.7,285.6 346.8,281.5 347.0,288.3 347.1,281.4 347.3,283.3 347.4,286.1 347.6,283.6 347.8,281.7 347.9,313.0 348.1,289.7 348.2,278.1 348.4,280.0 348.6,284.3 348.7,287.4 348.9,297.6 349.0,296.1 349.2,272.3 349.3,284.5 349.5,279.6 349.7,281.3 349.8,293.6 350.0,283.9 350.1,278.5 350.3,271.6 350.5,290.1 350.6,308.3 350.8,277.1 350.9,296.4 351.1,277.2 351.2,283.8 351.4,293.1 351.6,283.0 351.7,275.1 351.9,293.2 352.0,292.1 352.2,293.3 352.4,283.8 352.5,274.9 352.7,277.7 352.8,273.3 353.0,304.7 353.2,289.0 353.3,290.9 353.5,283.5 353.6,279.9 353.8,283.2 353.9,268.3 354.1,275.6 354.3,269.3 354.4,295.6 354.6,278.1 354.7,287.4 354.9,275.6 355.1,285.2 355.2,279.5 355.4,251.4 355.5,277.1 355.7,277.2 355.8,286.9 356.0,275.4 356.2,287.8 356.3,292.7 356.5,276.1 356.6,283.8 356.8,288.7 357.0,299.1 357.1,279.6 357.3,289.0 357.4,281.4 357.6,274.7 357.7,286.7 357.9,285.2 358.1,286.2 358.2,290.8 358.4,276.4 358.5,277.2 358.7,285.3 358.9,285.6 359.0,294.5 359.2,268.3 359.3,284.3 359.5,284.3 359.6,275.7 359.8,286.2 360.0,286.5 360.1,287.0 360.3,281.7 360.4,298.4 360.6,278.8 360.8,278.8 360.9,282.1 361.1,282.0 361.2,287.0 361.4,313.0 361.6,278.8 361.7,296.4 361.9,276.4 362.0,284.9 362.2,276.4 362.3,275.0 362.5,281.9 362.7,282.0 362.8,279.3 363.0,292.6 363.1,283.9 363.3,282.3 363.5,293.2 363.6,289.9 363.8,298.7 363.9,280.2 364.1,295.0 364.2,278.0 364.4,278.8 364.6,297.7 364.7,281.7 364.9,281.5 365.0,291.9 365.2,272.5 365.4,275.1 365.5,271.5 365.7,283.2 365.8,285.6 366.0,311.9 366.1,303.5 366.3,285.4 366.5,295.7 366.6,284.6 366.8,288.7 366.9,291.3 367.1,280.1 367.3,287.7 367.4,281.3 367.6,284.3 367.7,297.0 367.9,304.7 368.0,262.5 368.2,290.7 368.4,285.9 368.5,276.8 368.7,285.8 368.8,287.3 369.0,279.7 369.2,287.4 369.3,284.8 369.5,289.7 369.6,293.5 369.8,272.7 370.0,287.2 370.1,281.5 370.3,296.6 370.4,271.4 370.6,289.1 370.7,286.8 370.9,291.0 371.1,287.2 371.2,283.9 371.4,284.2 371.5,283.7 371.7,297.5 371.9,279.2 372.0,263.3 372.2,284.2 372.3,279.2 372.5,293.2 372.6,274.1 372.8,292.1 373.0,300.1 373.1,275.8 373.3,278.3 373.4,281.6 373.6,290.5 373.8,262.5 373.9,279.4 374.1,293.9 374.2,298.9 374.4,284.5 374.5,313.0 374.7,264.8 374.9,274.4 375.0,301.2 375.2,285.6 375.3,268.4 375.5,298.7 375.7,276.3 375.8,279.3 376.0,285.5 376.1,280.8 376.3,286.6 376.4,278.5 376.6,283.7 376.8,268.8 376.9,291.2 377.1,285.3 377.2,285.1 377.4,300.6 377.6,284.3 377.7,289.9 377.9,291.3 378.0,292.6 378.2,294.2 378.4,288.8 378.5,299.1 378.7,282.4 378.8,277.9 379.0,291.0 379.1,280.0 379.3,293.4 379.5,278.7 379.6,271.3 379.8,263.9 379.9,279.8 380.1,287.7 380.3,282.7 380.4,291.1 380.6,299.5 380.7,282.6 380.9,284.6 381.0,271.4 381.2,286.1 381.4,299.9 381.5,275.8 381.7,291.6 381.8,281.5 382.0,279.5 382.2,291.0 382.3,304.7 382.5,280.2 382.6,278.1 382.8,310.7 382.9,267.7 383.1,279.6 383.3,277.5 383.4,280.9 383.6,275.9 383.7,281.6 383.9,289.4 384.1,288.8 384.2,282.6 384.4,293.3 384.5,288.7 384.7,291.6 384.8,304.7 385.0,291.9 385.2,298.6 385.3,276.7 385.5,286.5 385.6,281.5 385.8,272.1 386.0,285.2 386.1,275.6 386.3,285.5 386.4,285.8 386.6,283.4 386.8,279.6 386.9,281.4 387.1,283.1 387.2,276.6 387.4,288.8 387.5,287.6 387.7,271.4 387.9,280.2 388.0,285.1 388.2,278.1 388.3,290.9 388.5,275.8 388.7,283.2 388.8,276.7 389.0,283.8 389.1,281.5 389.3,282.4 389.4,275.1 389.6,285.9 389.8,279.2 389.9,255.0 390.1,278.3 390.2,286.8 390.4,288.5 390.6,275.5 390.7,279.8 390.9,304.7 391.0,280.7 391.2,285.0 391.3,284.8 391.5,269.0 391.7,283.4 391.8,291.0 392.0,284.5 392.1,278.0 392.3,280.4 392.5,291.2 392.6,262.5 392.8,283.9 392.9,323.8 393.1,288.7 393.2,281.0 393.4,277.9 393.6,300.7 393.7,269.8 393.9,285.1 394.0,281.0 394.2,292.3 394.4,279.8 394.5,281.5 394.7,276.0 394.8,279.6 395.0,276.3 395.2,282.5 395.3,284.3 395.5,279.9 395.6,278.9 395.8,285.0 395.9,287.0 396.1,285.6 396.3,278.5 396.4,288.0 396.6,272.2 396.7,292.1 396.9,296.4 397.1,253.3 397.2,287.3 397.4,278.7 397.5,280.1 397.7,280.8 397.8,282.9 398.0,285.9 398.2,292.0 398.3,276.9 398.5,282.9 398.6,292.0 398.8,272.2 399.0,281.9 399.1,285.9 399.3,287.5 399.4,271.0 399.6,267.0 399.7,266.8 399.9,283.0 400.1,298.9 400.2,277.3 400.4,273.8 400.5,290.0 400.7,272.1 400.9,295.8 401.0,271.1 401.2,288.1 401.3,271.8 401.5,273.1 401.6,278.6 401.8,282.5 402.0,280.6 402.1,276.9 402.3,274.8 402.4,279.5 402.6,280.6 402.8,279.7 402.9,283.3 403.1,286.2 403.2,283.8 403.4,291.5 403.6,284.4 403.7,275.1 403.9,281.5 404.0,298.1 404.2,282.5 404.3,287.8 404.5,282.1 404.7,272.2 404.8,283.1 405.0,291.6 405.1,284.9 405.3,293.7 405.5,297.1 405.6,272.1 405.8,299.6 405.9,284.6 406.1,289.2 406.2,274.2 406.4,277.8 406.6,276.8 406.7,288.6 406.9,286.5 407.0,289.9 407.2,286.5 407.4,280.8 407.5,280.8 407.7,286.7 407.8,277.4 408.0,277.7 408.1,273.4 408.3,302.9 408.5,284.6 408.6,284.5 408.8,277.4 408.9,283.0 409.1,284.9 409.3,278.0 409.4,283.7 409.6,275.2 409.7,274.3 409.9,264.2 410.0,288.2 410.2,299.1 410.4,290.9 410.5,262.5 410.7,287.6 410.8,292.0 411.0,290.6 411.2,285.1 411.3,297.5 411.5,274.7 411.6,281.9 411.8,285.1 412.0,272.6 412.1,279.5 412.3,284.5 412.4,289.2 412.6,281.9 412.7,290.1 412.9,275.9 413.1,287.8 413.2,290.8 413.4,278.9 413.5,289.0 413.7,294.0 413.9,278.8 414.0,280.2 414.2,302.3 414.3,283.6 414.5,266.6 414.6,270.2 414.8,288.2 415.0,271.1 415.1,283.0 415.3,276.6 415.4,262.8 415.6,296.3 415.8,277.9 415.9,281.0 416.1,286.6 416.2,282.6 416.4,288.1 416.5,269.8 416.7,288.4 416.9,289.6 417.0,263.1 417.2,287.2 417.3,272.9 417.5,288.4 417.7,289.1 417.8,300.4 418.0,285.6 418.1,281.8 418.3,291.0 418.5,279.7 418.6,284.4 418.8,291.3 418.9,306.9 419.1,278.0 419.2,287.5 419.4,288.2 419.6,278.8 419.7,294.7 419.9,284.0 420.0,285.7 420.2,284.3 420.4,278.2 420.5,278.0 420.7,281.8 420.8,288.0 421.0,295.3 421.1,292.2 421.3,298.7 421.5,290.7 421.6,284.5 421.8,288.3 421.9,297.3 422.1,282.3 422.3,299.9 422.4,292.0 422.6,272.7 422.7,286.7 422.9,295.8 423.0,281.7 423.2,268.2 423.4,280.4 423.5,276.1 423.7,286.7 423.8,283.7 424.0,266.0 424.2,279.2 424.3,282.7 424.5,285.4 424.6,281.7 424.8,286.7 424.9,276.7 425.1,294.9 425.3,300.2 425.4,271.1 425.6,283.0 425.7,321.4 425.9,269.9 426.1,271.2 426.2,289.5 426.4,277.5 426.5,293.0 426.7,286.2 426.9,291.7 427.0,281.2 427.2,265.4 427.3,276.8 427.5,296.0 427.6,307.1 427.8,265.7 428.0,267.6 428.1,289.7 428.3,278.8 428.4,288.2 428.6,289.3 428.8,280.3 428.9,276.0 429.1,284.2 429.2,276.8 429.4,284.0 429.5,281.4 429.7,280.6 429.9,290.3 430.0,289.1 430.2,290.3 430.3,298.2 430.5,285.1 430.7,285.6 430.8,290.9 431.0,271.8 431.1,277.3 431.3,280.2 431.4,295.9 431.6,288.3 431.8,275.4 431.9,307.1 432.1,279.5 432.2,279.8 432.4,276.7 432.6,279.4 432.7,283.4 432.9,277.4 433.0,271.6 433.2,289.0 433.3,272.0 433.5,285.1 433.7,295.6 433.8,289.5 434.0,307.0 434.1,279.6 434.3,287.9 434.5,285.2 434.6,295.0 434.8,288.0 434.9,282.4 435.1,282.6 435.3,280.6 435.4,289.1 435.6,276.7 435.7,282.9 435.9,298.7 436.0,294.3 436.2,286.3 436.4,286.9 436.5,304.0 436.7,286.7 436.8,277.7 437.0,280.6 437.2,276.9 437.3,280.4 437.5,288.4 437.6,268.0 437.8,286.0 437.9,280.0 438.1,292.4 438.3,281.0 438.4,280.2 438.6,276.0 438.7,293.7 438.9,281.3 439.1,302.6 439.2,301.4 439.4,279.1 439.5,305.1 439.7,277.4 439.8,276.1 440.0,297.1 440.2,286.7 440.3,292.8 440.5,284.5 440.6,285.8 440.8,285.0 441.0,294.2 441.1,281.3 441.3,276.4 441.4,291.6 441.6,294.7 441.7,282.1 441.9,291.3 442.1,287.2 442.2,278.6 442.4,279.8 442.5,281.6 442.7,284.6 442.9,287.9 443.0,281.2 443.2,287.9 443.3,281.5 443.5,265.6 443.7,282.3 443.8,280.2 444.0,304.9 444.1,279.7 444.3,287.4 444.4,288.7 444.6,287.1 444.8,302.8 444.9,292.9 445.1,283.5 445.2,269.1 445.4,281.3 445.6,297.1 445.7,274.7 445.9,295.8 446.0,280.2 446.2,292.1 446.3,277.7 446.5,294.1 446.7,277.7 446.8,282.6 447.0,286.6 447.1,292.4 447.3,295.4 447.5,285.3 447.6,297.6 447.8,287.9 447.9,292.4 448.1,264.9 448.2,291.6 448.4,294.1 448.6,281.6 448.7,285.0 448.9,290.9 449.0,284.0 449.2,285.8 449.4,288.1 449.5,293.8 449.7,288.8 449.8,278.5 450.0,280.0 450.1,283.3 450.3,284.0 450.5,265.3 450.6,307.1 450.8,270.6 450.9,284.6 451.1,296.0 451.3,271.2 451.4,283.0 451.6,296.7 451.7,291.3 451.9,280.8 452.1,261.0 452.2,284.5 452.4,277.7 452.5,287.1 452.7,296.2 452.8,290.0 453.0,275.7 453.2,281.1 453.3,273.5 453.5,278.6 453.6,272.4 453.8,295.3 454.0,274.2 454.1,279.3 454.3,292.0 454.4,301.9 454.6,280.0 454.7,293.0 454.9,279.8 455.1,284.9 455.2,298.6 455.4,265.1 455.5,289.9 455.7,283.2 455.9,301.7 456.0,303.4 456.2,280.6 456.3,298.9 456.5,276.0 456.6,271.3 456.8,274.3 457.0,273.9 457.1,281.0 457.3,267.2 457.4,282.0 457.6,301.3 457.8,301.7 457.9,269.9 458.1,279.2 458.2,279.0 458.4,278.1 458.5,279.3 458.7,281.6 458.9,294.9 459.0,271.5 459.2,274.3 459.3,298.6 459.5,270.2 459.7,283.6 459.8,284.3 460.0,291.9 460.1,268.5 460.3,286.5 460.5,286.6 460.6,291.8 460.8,286.9 460.9,266.3 461.1,276.4 461.2,260.3 461.4,271.4 461.6,272.1 461.7,296.9 461.9,274.8 462.0,285.0 462.2,260.2 462.4,279.6 462.5,272.1 462.7,288.9 462.8,288.2 463.0,279.8 463.1,298.8 463.3,288.0 463.5,276.2 463.6,275.8 463.8,283.5 463.9,276.1 464.1,286.5 464.3,303.3 464.4,279.8 464.6,253.3 464.7,276.1 464.9,278.8 465.0,306.0 465.2,278.9 465.4,266.6 465.5,289.7 465.7,278.0 465.8,290.6 466.0,287.7 466.2,282.4 466.3,283.2 466.5,282.5 466.6,285.2 466.8,283.6 466.9,284.0 467.1,281.3 467.3,298.6 467.4,277.5 467.6,284.4 467.7,304.8 467.9,282.5 468.1,272.8 468.2,268.0 468.4,286.8 468.5,296.4 468.7,280.6 468.9,298.0 469.0,279.5 469.2,288.4 469.3,274.8 469.5,290.5 469.6,262.4 469.8,276.8 470.0,279.1 470.1,284.1 470.3,272.8 470.4,277.9 470.6,287.2 470.8,297.0 470.9,282.9 471.1,291.2 471.2,277.7 471.4,264.7 471.5,296.9 471.7,277.7 471.9,295.3 472.0,281.8 472.2,299.2 472.3,282.0 472.5,274.0 472.7,273.9 472.8,289.2 473.0,282.4 473.1,285.2 473.3,278.4 473.4,289.5 473.6,276.9 473.8,270.9 473.9,287.2 474.1,279.9 474.2,295.4 474.4,282.4 474.6,279.5 474.7,288.8 474.9,280.6 475.0,294.8 475.2,277.5 475.3,287.0 475.5,294.6 475.7,275.6 475.8,285.9 476.0,282.5 476.1,282.7 476.3,278.4 476.5,292.9 476.6,288.7 476.8,293.9 476.9,284.4 477.1,283.2 477.3,275.6 477.4,278.9 477.6,298.7 477.7,292.6 477.9,284.6 478.0,280.7 478.2,274.7 478.4,285.6 478.5,283.4 478.7,284.6 478.8,268.7 479.0,273.4 479.2,277.2 479.3,276.5 479.5,306.0 479.6,260.2 479.8,288.5 479.9,269.6 480.1,304.5 480.3,273.4 480.4,289.6 480.6,279.4 480.7,271.8 480.9,283.1 481.1,275.7 481.2,287.1 481.4,288.8 481.5,280.1 481.7,279.7 481.8,284.0 482.0,288.5 482.2,280.8 482.3,275.5 482.5,295.2 482.6,275.6 482.8,287.9 483.0,275.5 483.1,284.4 483.3,290.3 483.4,286.6 483.6,267.5 483.7,267.6 483.9,278.0 484.1,307.1 484.2,289.4 484.4,287.2 484.5,286.4 484.7,289.0 484.9,288.2 485.0,273.2 485.2,295.8 485.3,278.1 485.5,283.9 485.7,279.0 485.8,280.2 486.0,288.1 486.1,284.0 486.3,280.9 486.4,290.4 486.6,281.2 486.8,285.7 486.9,283.5 487.1,279.1 487.2,277.4 487.4,285.7 487.6,281.1 487.7,286.5 487.9,291.3 488.0,289.3 488.2,286.0 488.3,281.3 488.5,275.9 488.7,281.8 488.8,270.9 489.0,283.3 489.1,285.2 489.3,286.9 489.5,289.2 489.6,291.8 489.8,283.2 489.9,283.0 490.1,282.8 490.2,278.5 490.4,290.5 490.6,282.2 490.7,284.0 490.9,288.6 491.0,284.4 491.2,293.9 491.4,269.1 491.5,295.5 491.7,279.8 491.8,298.8 492.0,270.3 492.1,295.8 492.3,271.8 492.5,281.7 492.6,298.9 492.8,277.8 492.9,300.2 493.1,288.7 493.3,286.5 493.4,297.2 493.6,292.2 493.7,268.1 493.9,288.5 494.1,282.9 494.2,305.4 494.4,272.3 494.5,268.8 494.7,289.8 494.8,285.6 495.0,287.3 495.2,295.0 495.3,271.6 495.5,274.3 495.6,279.1 495.8,287.0 496.0,298.3 496.1,283.6 496.3,270.5 496.4,285.1 496.6,286.8 496.7,298.6 496.9,266.2 497.1,307.1 497.2,288.7 497.4,278.3 497.5,273.9 497.7,285.7 497.9,286.9 498.0,286.0 498.2,303.5 498.3,272.5 498.5,262.0 498.6,277.0 498.8,280.4 499.0,279.0 499.1,275.2 499.3,281.8 499.4,271.6 499.6,287.6 499.8,278.0 499.9,283.9 500.1,282.1 500.2,281.8 500.4,299.3 500.5,279.1 500.7,284.8 500.9,279.2 501.0,284.7 501.2,285.6 501.3,294.0 501.5,279.0 501.7,296.7 501.8,279.1 502.0,267.8 502.1,276.4 502.3,283.3 502.5,281.0 502.6,288.9 502.8,283.6 502.9,274.8 503.1,277.5 503.2,268.4 503.4,277.5 503.6,284.6 503.7,293.4 503.9,296.4 504.0,292.4 504.2,268.9 504.4,282.6 504.5,280.9 504.7,281.5 504.8,283.1 505.0,287.9 505.1,270.7 505.3,289.3 505.5,260.2 505.6,291.7 505.8,300.3 505.9,297.5 506.1,274.4 506.3,270.0 506.4,267.1 506.6,273.7 506.7,273.7 506.9,278.8 507.0,280.7 507.2,284.1 507.4,294.7 507.5,295.7 507.7,277.3 507.8,279.6 508.0,274.6 508.2,281.8 508.3,283.9 508.5,295.5 508.6,279.8 508.8,277.8 508.9,277.0 509.1,287.5 509.3,287.9 509.4,302.6 509.6,296.4 509.7,274.6 509.9,285.3 510.1,276.1 510.2,291.4 510.4,278.2 510.5,272.1 510.7,281.5 510.9,281.5 511.0,298.3 511.2,294.8 511.3,276.6 511.5,283.6 511.6,279.3 511.8,282.6 512.0,281.4 512.1,275.0 512.3,282.1 512.4,272.0 512.6,281.3 512.8,293.8 512.9,268.2 513.1,279.6 513.2,277.1 513.4,298.8 513.5,306.0 513.7,292.0 513.9,282.7 514.0,267.0 514.2,284.9 514.3,291.0 514.5,270.2 514.7,279.8 514.8,293.6 515.0,291.5 515.1,278.0 515.3,290.2 515.4,281.9 515.6,290.6 515.8,279.0 515.9,284.8 516.1,274.6 516.2,288.2 516.4,278.5 516.6,283.7 516.7,289.3 516.9,284.2 517.0,292.1 517.2,276.0 517.3,279.2 517.5,289.6 517.7,281.2 517.8,292.7 518.0,272.9 518.1,281.0 518.3,282.3 518.5,286.4 518.6,279.3 518.8,304.7 518.9,295.9 519.1,292.8 519.3,285.0 519.4,288.4 519.6,282.5 519.7,279.9 519.9,281.4 520.0,287.8 520.2,282.0 520.4,287.2 520.5,286.4 520.7,293.3 520.8,283.8 521.0,289.2 521.2,282.3 521.3,279.3 521.5,281.3 521.6,275.6 521.8,282.6 521.9,284.4 522.1,273.9 522.3,295.9 522.4,282.3 522.6,276.8 522.7,283.7 522.9,285.0 523.1,261.8 523.2,285.7 523.4,294.7 523.5,298.9 523.7,287.9 523.8,278.1 524.0,270.8 524.2,272.3 524.3,279.3 524.5,276.4 524.6,272.7 524.8,296.0 525.0,290.3 525.1,298.2 525.3,282.4 525.4,287.7 525.6,288.5 525.7,273.1 525.9,285.0 526.1,301.4 526.2,282.1 526.4,278.8 526.5,284.7 526.7,280.8 526.9,278.8 527.0,278.0 527.2,263.0 527.3,296.8 527.5,272.7 527.7,287.4 527.8,292.8 528.0,275.5 528.1,273.7 528.3,274.9 528.4,294.5 528.6,295.1 528.8,293.0 528.9,280.9 529.1,294.7 529.2,289.3 529.4,282.0 529.6,271.7 529.7,299.6 529.9,297.6 530.0,291.0 530.2,285.0 530.3,288.4 530.5,283.2 530.7,279.3 530.8,291.5 531.0,286.8 531.1,283.5 531.3,295.5 531.5,283.9 531.6,287.6 531.8,270.1 531.9,256.0 532.1,280.9 532.2,282.5 532.4,283.3 532.6,292.7 532.7,283.6 532.9,287.3 533.0,288.0 533.2,292.8 533.4,288.4 533.5,260.2 533.7,291.1 533.8,282.2 534.0,287.8 534.1,278.6 534.3,273.4 534.5,278.3 534.6,279.7 534.8,286.7 534.9,269.6 535.1,262.8 535.3,297.1 535.4,260.2 535.6,276.9 535.7,280.1 535.9,297.9 536.1,275.2 536.2,279.7 536.4,282.0 536.5,288.1 536.7,275.2 536.8,287.5 537.0,280.8 537.2,302.1 537.3,290.9 537.5,260.2 537.6,295.6 537.8,281.5 538.0,279.5 538.1,283.3 538.3,272.1 538.4,274.8 538.6,281.2 538.7,260.2 538.9,283.8 539.1,286.7 539.2,266.9 539.4,281.6 539.5,272.8 539.7,278.4 539.9,280.5 540.0,280.0 540.2,293.8 540.3,279.1 540.5,269.5 540.6,266.9 540.8,279.7 541.0,277.2 541.1,282.5 541.3,276.4 541.4,280.9" fill="none" stroke="#ff1818" stroke-width="0.7" stroke-linejoin="miter"/>
<polyline points="26.5,288.8 26.7,281.2 26.8,284.3 27.0,298.2 27.1,284.9 27.3,280.8 27.5,295.7 27.6,281.5 27.8,293.3 27.9,284.2 28.1,280.7 28.2,279.4 28.4,288.6 28.6,279.4 28.7,260.2 28.9,278.4 29.0,270.2 29.2,280.0 29.4,273.6 29.5,279.4 29.7,278.2 29.8,281.2 30.0,289.6 30.1,293.8 30.3,283.4 30.5,283.1 30.6,271.4 30.8,287.3 30.9,286.8 31.1,296.3 31.3,267.5 31.4,286.2 31.6,271.9 31.7,283.9 31.9,305.4 32.0,284.5 32.2,278.5 32.4,283.1 32.5,279.4 32.7,277.7 32.8,273.8 33.0,286.1 33.2,260.2 33.3,275.9 33.5,275.2 33.6,272.9 33.8,271.4 33.9,281.7 34.1,275.4 34.3,287.1 34.4,302.5 34.6,292.6 34.7,295.5 34.9,292.8 35.1,281.8 35.2,288.8 35.4,267.4 35.5,276.3 35.7,274.7 35.9,284.6 36.0,280.9 36.2,284.8 36.3,290.5 36.5,266.6 36.6,288.6 36.8,272.6 37.0,307.3 37.1,296.5 37.3,267.0 37.4,252.6 37.6,270.2 37.8,284.3 37.9,276.2 38.1,276.7 38.2,277.7 38.4,264.5 38.5,293.4 38.7,292.6 38.9,283.4 39.0,269.8 39.2,286.9 39.3,279.8 39.5,283.4 39.7,296.0 39.8,284.7 40.0,264.6 40.1,289.4 40.3,293.2 40.4,259.8 40.6,295.5 40.8,298.3 40.9,271.9 41.1,304.6 41.2,291.7 41.4,283.8 41.6,268.1 41.7,287.5 41.9,294.2 42.0,285.0 42.2,284.3 42.3,289.9 42.5,278.4 42.7,271.9 42.8,280.6 43.0,282.4 43.1,271.2 43.3,285.5 43.5,298.3 43.6,279.0 43.8,279.6 43.9,259.8 44.1,282.9 44.3,286.3 44.4,273.2 44.6,275.0 44.7,294.2 44.9,282.8 45.0,277.0 45.2,295.7 45.4,286.6 45.5,272.0 45.7,298.3 45.8,285.2 46.0,296.5 46.2,276.0 46.3,282.2 46.5,292.5 46.6,282.2 46.8,294.0 46.9,285.9 47.1,275.0 47.3,286.8 47.4,278.0 47.6,292.3 47.7,307.0 47.9,273.9 48.1,272.9 48.2,281.7 48.4,293.1 48.5,307.7 48.7,275.4 48.8,285.7 49.0,288.2 49.2,290.5 49.3,280.7 49.5,292.3 49.6,272.7 49.8,298.8 50.0,276.7 50.1,278.5 50.3,284.7 50.4,295.3 50.6,289.1 50.7,292.9 50.9,260.2 51.1,272.8 51.2,255.9 51.4,310.6 51.5,295.7 51.7,277.2 51.9,290.6 52.0,271.0 52.2,285.2 52.3,305.9 52.5,283.4 52.7,274.4 52.8,274.2 53.0,240.7 53.1,264.0 53.3,287.8 53.4,290.6 53.6,275.5 53.8,273.5 53.9,283.6 54.1,287.7 54.2,257.7 54.4,284.7 54.6,299.5 54.7,285.6 54.9,297.8 55.0,295.2 55.2,276.0 55.3,274.3 55.5,273.4 55.7,283.1 55.8,304.2 56.0,255.0 56.1,300.8 56.3,281.9 56.5,271.0 56.6,274.4 56.8,288.5 56.9,306.0 57.1,270.8 57.2,283.1 57.4,269.7 57.6,275.7 57.7,285.9 57.9,302.1 58.0,290.0 58.2,301.7 58.4,284.0 58.5,296.5 58.7,280.5 58.8,276.1 59.0,299.4 59.1,294.1 59.3,291.5 59.5,281.0 59.6,286.9 59.8,311.8 59.9,281.8 60.1,290.3 60.3,291.7 60.4,274.2 60.6,282.5 60.7,296.1 60.9,277.1 61.1,274.3 61.2,274.7 61.4,270.0 61.5,292.3 61.7,266.1 61.8,301.9 62.0,274.1 62.2,274.9 62.3,283.2 62.5,273.9 62.6,281.7 62.8,283.5 63.0,258.6 63.1,269.2 63.3,291.5 63.4,281.4 63.6,290.2 63.7,285.1 63.9,293.1 64.1,277.3 64.2,275.2 64.4,298.3 64.5,270.4 64.7,274.1 64.9,286.3 65.0,268.6 65.2,292.4 65.3,293.5 65.5,284.0 65.6,264.6 65.8,284.3 66.0,281.2 66.1,280.2 66.3,267.3 66.4,269.0 66.6,282.0 66.8,307.3 66.9,288.8 67.1,278.4 67.2,294.3 67.4,276.9 67.5,298.7 67.7,266.5 67.9,280.6 68.0,263.2 68.2,279.8 68.3,285.3 68.5,292.5 68.7,284.4 68.8,279.4 69.0,281.4 69.1,298.3 69.3,271.8 69.5,257.6 69.6,271.8 69.8,296.8 69.9,292.8 70.1,279.3 70.2,305.3 70.4,255.8 70.6,285.2 70.7,295.7 70.9,300.1 71.0,261.0 71.2,318.4 71.4,255.6 71.5,244.0 71.7,315.0 71.8,282.7 72.0,303.4 72.1,286.9 72.3,292.2 72.5,282.2 72.6,289.5 72.8,262.9 72.9,240.0 73.1,287.9 73.3,269.2 73.4,275.8 73.6,292.3 73.7,297.5 73.9,268.9 74.0,296.4 74.2,273.1 74.4,328.0 74.5,262.4 74.7,290.2 74.8,267.9 75.0,237.0 75.2,294.0 75.3,288.7 75.5,287.8 75.6,285.3 75.8,263.8 75.9,277.7 76.1,284.2 76.3,287.4 76.4,280.0 76.6,256.3 76.7,278.5 76.9,270.2 77.1,227.0 77.2,296.9 77.4,287.4 77.5,271.4 77.7,289.2 77.9,286.4 78.0,288.8 78.2,315.6 78.3,307.0 78.5,290.5 78.6,238.0 78.8,286.5 79.0,299.2 79.1,297.5 79.3,286.3 79.4,279.8 79.6,285.7 79.8,263.4 79.9,281.4 80.1,278.1 80.2,272.5 80.4,275.5 80.5,283.6 80.7,308.8 80.9,325.8 81.0,300.8 81.2,290.7 81.3,285.4 81.5,268.1 81.7,287.5 81.8,276.0 82.0,282.1 82.1,266.9 82.3,247.8 82.4,302.8 82.6,270.5 82.8,299.8 82.9,285.5 83.1,306.6 83.2,313.1 83.4,271.6 83.6,323.8 83.7,283.4 83.9,288.5 84.0,285.1 84.2,290.2 84.3,286.6 84.5,272.6 84.7,285.6 84.8,276.7 85.0,278.3 85.1,270.4 85.3,280.4 85.5,266.6 85.6,282.6 85.8,279.1 85.9,256.0 86.1,291.1 86.3,313.7 86.4,262.3 86.6,283.8 86.7,276.6 86.9,273.5 87.0,284.2 87.2,270.7 87.4,281.2 87.5,316.6 87.7,275.0 87.8,257.4 88.0,293.3 88.2,229.5 88.3,278.6 88.5,287.8 88.6,296.4 88.8,270.0 88.9,295.6 89.1,265.8 89.3,311.5 89.4,332.9 89.6,279.3 89.7,309.6 89.9,295.0 90.1,291.6 90.2,291.5 90.4,283.6 90.5,286.6 90.7,283.1 90.8,293.7 91.0,300.1 91.2,300.7 91.3,286.6 91.5,281.6 91.6,255.6 91.8,288.0 92.0,264.4 92.1,277.2 92.3,269.6 92.4,289.7 92.6,285.2 92.7,260.3 92.9,261.6 93.1,310.7 93.2,293.3 93.4,258.8 93.5,288.9 93.7,276.0 93.9,272.7 94.0,286.0 94.2,278.1 94.3,280.8 94.5,309.4 94.7,278.5 94.8,311.6 95.0,271.2 95.1,296.1 95.3,298.0 95.4,270.5 95.6,276.4 95.8,281.1 95.9,269.6 96.1,332.2 96.2,304.1 96.4,294.5 96.6,280.2 96.7,280.1 96.9,280.1 97.0,258.1 97.2,296.2 97.3,282.7 97.5,285.6 97.7,290.2 97.8,282.0 98.0,300.7 98.1,291.4 98.3,241.4 98.5,273.0 98.6,290.0 98.8,267.5 98.9,304.4 99.1,273.8 99.2,286.5 99.4,297.3 99.6,296.5 99.7,262.0 99.9,271.5 100.0,281.3 100.2,276.2 100.4,295.0 100.5,276.9 100.7,288.7 100.8,259.0 101.0,285.5 101.1,273.7 101.3,271.1 101.5,267.0 101.6,285.7 101.8,289.7 101.9,283.4 102.1,278.5 102.3,294.3 102.4,296.4 102.6,262.8 102.7,279.1 102.9,287.2 103.1,290.7 103.2,284.8 103.4,287.6 103.5,282.2 103.7,297.8 103.8,275.2 104.0,278.8 104.2,269.8 104.3,279.7 104.5,285.1 104.6,269.4 104.8,289.7 105.0,268.5 105.1,300.5 105.3,280.6 105.4,286.2 105.6,288.1 105.7,276.3 105.9,283.5 106.1,261.0 106.2,281.4 106.4,275.7 106.5,270.8 106.7,268.7 106.9,274.4 107.0,290.3 107.2,286.5 107.3,274.6 107.5,282.3 107.6,289.0 107.8,292.6 108.0,284.3 108.1,279.4 108.3,284.7 108.4,286.8 108.6,276.4 108.8,281.9 108.9,272.9 109.1,278.0 109.2,268.5 109.4,284.1 109.5,281.0 109.7,277.2 109.9,305.3 110.0,298.9 110.2,311.8 110.3,276.4 110.5,287.8 110.7,276.8 110.8,287.9 111.0,280.6 111.1,288.8 111.3,291.0 111.5,273.7 111.6,265.2 111.8,292.0 111.9,277.8 112.1,276.7 112.2,293.9 112.4,305.9 112.6,286.6 112.7,278.4 112.9,287.3 113.0,278.7 113.2,277.0 113.4,279.5 113.5,296.9 113.7,280.4 113.8,297.0 114.0,262.9 114.1,273.1 114.3,270.5 114.5,288.1 114.6,289.7 114.8,289.0 114.9,253.3 115.1,285.8 115.3,278.2 115.4,280.9 115.6,287.8 115.7,289.5 115.9,279.0 116.0,288.8 116.2,290.5 116.4,285.1 116.5,289.2 116.7,284.0 116.8,284.3 117.0,287.0 117.2,288.6 117.3,292.1 117.5,287.9 117.6,287.5 117.8,292.0 117.9,260.2 118.1,273.9 118.3,287.1 118.4,296.2 118.6,285.1 118.7,267.2 118.9,293.3 119.1,279.7 119.2,296.9 119.4,266.0 119.5,266.7 119.7,275.4 119.9,286.2 120.0,281.2 120.2,283.2 120.3,284.6 120.5,287.0 120.6,283.2 120.8,290.6 121.0,272.4 121.1,284.9 121.3,287.1 121.4,271.5 121.6,285.5 121.8,261.0 121.9,285.2 122.1,295.5 122.2,277.1 122.4,280.1 122.5,286.1 122.7,290.3 122.9,278.2 123.0,296.3 123.2,285.9 123.3,284.5 123.5,286.7 123.7,282.7 123.8,290.7 124.0,279.0 124.1,284.0 124.3,287.5 124.4,298.0 124.6,279.9 124.8,300.9 124.9,286.5 125.1,268.7 125.2,276.6 125.4,299.5 125.6,291.7 125.7,263.4 125.9,290.0 126.0,304.2 126.2,300.3 126.3,290.7 126.5,290.2 126.7,300.8 126.8,269.7 127.0,299.2 127.1,291.3 127.3,283.2 127.5,295.9 127.6,277.1 127.8,281.8 127.9,274.7 128.1,273.1 128.3,284.1 128.4,281.4 128.6,293.5 128.7,290.6 128.9,289.9 129.0,291.7 129.2,283.6 129.4,286.1 129.5,278.7 129.7,280.1 129.8,281.3 130.0,281.8 130.2,278.1 130.3,288.6 130.5,281.5 130.6,281.1 130.8,292.8 130.9,283.6 131.1,283.2 131.3,281.5 131.4,294.2 131.6,297.1 131.7,290.0 131.9,277.8 132.1,283.0 132.2,283.7 132.4,290.5 132.5,271.7 132.7,279.0 132.8,292.6 133.0,283.0 133.2,282.1 133.3,288.0 133.5,282.8 133.6,274.8 133.8,305.6 134.0,279.4 134.1,283.6 134.3,281.7 134.4,270.3 134.6,293.7 134.7,275.6 134.9,267.4 135.1,284.6 135.2,299.0 135.4,290.5 135.5,283.5 135.7,273.8 135.9,280.8 136.0,287.3 136.2,271.2 136.3,294.1 136.5,288.5 136.7,280.9 136.8,267.0 137.0,291.5 137.1,283.5 137.3,276.7 137.4,282.1 137.6,291.3 137.8,282.1 137.9,282.7 138.1,278.1 138.2,280.8 138.4,261.0 138.6,277.3 138.7,275.9 138.9,294.2 139.0,283.5 139.2,284.0 139.3,273.8 139.5,285.5 139.7,286.3 139.8,277.5 140.0,274.1 140.1,278.2 140.3,304.5 140.5,274.9 140.6,296.0 140.8,284.4 140.9,278.8 141.1,281.8 141.2,276.9 141.4,260.7 141.6,289.7 141.7,283.0 141.9,280.5 142.0,279.2 142.2,270.6 142.4,282.9 142.5,272.2 142.7,287.3 142.8,287.7 143.0,279.8 143.1,265.7 143.3,279.0 143.5,282.0 143.6,285.3 143.8,276.6 143.9,281.9 144.1,288.3 144.3,278.9 144.4,270.6 144.6,276.2 144.7,279.3 144.9,274.3 145.1,281.6 145.2,280.2 145.4,284.5 145.5,276.0 145.7,295.3 145.8,284.0 146.0,267.2 146.2,276.7 146.3,275.8 146.5,278.3 146.6,282.7 146.8,289.2 147.0,298.0 147.1,272.5 147.3,266.6 147.4,289.0 147.6,285.3 147.7,280.3 147.9,289.2 148.1,271.5 148.2,286.0 148.4,289.1 148.5,292.1 148.7,286.1 148.9,274.2 149.0,263.3 149.2,295.8 149.3,281.8 149.5,278.7 149.6,292.1 149.8,287.5 150.0,269.9 150.1,283.7 150.3,287.5 150.4,294.0 150.6,279.9 150.8,292.2 150.9,285.4 151.1,278.1 151.2,289.8 151.4,285.2 151.5,299.1 151.7,282.8 151.9,297.3 152.0,285.0 152.2,282.7 152.3,279.3 152.5,292.8 152.7,283.0 152.8,283.6 153.0,282.9 153.1,289.5 153.3,283.0 153.5,298.8 153.6,296.0 153.8,281.2 153.9,283.1 154.1,278.3 154.2,290.0 154.4,284.8 154.6,286.2 154.7,291.2 154.9,271.4 155.0,287.9 155.2,284.5 155.4,294.4 155.5,277.9 155.7,271.9 155.8,276.3 156.0,297.0 156.1,280.2 156.3,279.1 156.5,282.2 156.6,278.5 156.8,271.6 156.9,288.4 157.1,278.8 157.3,269.3 157.4,281.5 157.6,286.9 157.7,274.9 157.9,288.3 158.0,273.1 158.2,276.9 158.4,284.1 158.5,284.7 158.7,302.9 158.8,292.3 159.0,292.7 159.2,286.1 159.3,294.7 159.5,269.2 159.6,277.2 159.8,275.3 160.0,276.4 160.1,285.2 160.3,281.0 160.4,292.3 160.6,287.2 160.7,282.5 160.9,288.8 161.1,275.1 161.2,294.7 161.4,265.1 161.5,287.4 161.7,272.6 161.9,286.1 162.0,283.0 162.2,280.5 162.3,279.5 162.5,277.4 162.6,277.4 162.8,281.0 163.0,281.5 163.1,276.5 163.3,293.9 163.4,279.9 163.6,270.7 163.8,284.8 163.9,266.9 164.1,282.0 164.2,302.9 164.4,278.3 164.5,280.3 164.7,283.9 164.9,288.6 165.0,284.9 165.2,285.1 165.3,281.9 165.5,290.4 165.7,283.5 165.8,270.8 166.0,280.2 166.1,282.1 166.3,272.8 166.4,280.6 166.6,264.4 166.8,282.8 166.9,284.0 167.1,283.8 167.2,272.4 167.4,283.2 167.6,300.5 167.7,284.0 167.9,290.7 168.0,273.1 168.2,284.7 168.4,284.5 168.5,284.3 168.7,292.4 168.8,283.1 169.0,288.2 169.1,275.5 169.3,267.7 169.5,280.3 169.6,274.4 169.8,280.8 169.9,300.5 170.1,280.3 170.3,294.1 170.4,292.4 170.6,279.4 170.7,277.1 170.9,290.7 171.0,283.5 171.2,264.4 171.4,286.7 171.5,275.3 171.7,290.3 171.8,290.8 172.0,294.1 172.2,275.7 172.3,283.0 172.5,288.1 172.6,293.0 172.8,279.6 172.9,285.0 173.1,283.6 173.3,292.9 173.4,269.3 173.6,292.4 173.7,286.5 173.9,269.7 174.1,287.8 174.2,274.8 174.4,277.0 174.5,278.7 174.7,289.9 174.8,276.4 175.0,281.4 175.2,288.7 175.3,282.2 175.5,289.0 175.6,280.1 175.8,282.3 176.0,287.9 176.1,296.3 176.3,284.2 176.4,274.6 176.6,289.2 176.8,282.1 176.9,270.6 177.1,279.5 177.2,287.2 177.4,282.4 177.5,288.5 177.7,268.7 177.9,280.0 178.0,297.6 178.2,279.4 178.3,276.8 178.5,272.4 178.7,277.4 178.8,272.9 179.0,282.1 179.1,268.1 179.3,291.7 179.4,289.5 179.6,288.6 179.8,277.7 179.9,286.7 180.1,274.7 180.2,285.1 180.4,280.0 180.6,289.8 180.7,291.2 180.9,279.8 181.0,284.8 181.2,282.5 181.3,283.6 181.5,302.9 181.7,286.6 181.8,291.3 182.0,299.7 182.1,284.5 182.3,296.0 182.5,278.3 182.6,284.4 182.8,296.8 182.9,288.8 183.1,284.4 183.2,274.5 183.4,276.4 183.6,284.1 183.7,284.7 183.9,286.8 184.0,275.7 184.2,277.9 184.4,299.1 184.5,280.3 184.7,275.5 184.8,289.3 185.0,281.6 185.2,272.5 185.3,278.5 185.5,285.2 185.6,284.5 185.8,277.2 185.9,284.2 186.1,285.8 186.3,302.9 186.4,297.1 186.6,297.6 186.7,272.4 186.9,287.2 187.1,291.3 187.2,272.1 187.4,276.3 187.5,283.9 187.7,273.9 187.8,278.3 188.0,287.3 188.2,279.3 188.3,297.1 188.5,284.4 188.6,283.8 188.8,287.3 189.0,286.9 189.1,283.4 189.3,286.8 189.4,285.7 189.6,287.8 189.7,277.2 189.9,286.8 190.1,278.9 190.2,290.4 190.4,277.2 190.5,283.4 190.7,292.1 190.9,283.8 191.0,276.0 191.2,293.8 191.3,277.8 191.5,277.0 191.6,286.2 191.8,290.8 192.0,290.0 192.1,283.5 192.3,283.4 192.4,292.6 192.6,280.4 192.8,276.1 192.9,296.7 193.1,287.0 193.2,291.0 193.4,302.9 193.6,280.3 193.7,288.7 193.9,277.4 194.0,286.2 194.2,279.5 194.3,280.3 194.5,290.9 194.7,281.5 194.8,277.3 195.0,292.4 195.1,288.8 195.3,278.4 195.5,286.8 195.6,274.5 195.8,285.6 195.9,271.3 196.1,302.9 196.2,283.2 196.4,274.3 196.6,290.1 196.7,278.4 196.9,289.7 197.0,275.9 197.2,289.8 197.4,291.9 197.5,285.2 197.7,288.7 197.8,269.3 198.0,280.5 198.1,286.8 198.3,300.6 198.5,273.8 198.6,281.7 198.8,275.2 198.9,291.7 199.1,271.4 199.3,290.0 199.4,289.9 199.6,284.6 199.7,292.4 199.9,283.9 200.0,279.8 200.2,281.1 200.4,270.6 200.5,278.4 200.7,282.5 200.8,281.5 201.0,294.7 201.2,293.7 201.3,289.3 201.5,296.2 201.6,274.1 201.8,299.9 202.0,290.9 202.1,283.6 202.3,276.0 202.4,284.8 202.6,284.3 202.7,272.5 202.9,280.8 203.1,282.5 203.2,294.6 203.4,290.0 203.5,290.9 203.7,283.5 203.9,281.8 204.0,284.8 204.2,279.9 204.3,277.1 204.5,273.6 204.6,272.5 204.8,296.9 205.0,261.0 205.1,281.3 205.3,279.8 205.4,280.6 205.6,277.9 205.8,281.6 205.9,275.8 206.1,272.1 206.2,283.8 206.4,290.5 206.5,282.8 206.7,279.8 206.9,266.3 207.0,280.9 207.2,287.8 207.3,282.8 207.5,280.7 207.7,287.8 207.8,285.6 208.0,275.3 208.1,281.2 208.3,276.3 208.4,281.5 208.6,284.5 208.8,282.0 208.9,285.5 209.1,279.8 209.2,286.3 209.4,285.0 209.6,281.5 209.7,283.7 209.9,287.4 210.0,284.4 210.2,291.1 210.4,270.5 210.5,278.5 210.7,293.4 210.8,283.9 211.0,285.3 211.1,296.7 211.3,282.3 211.5,289.3 211.6,275.7 211.8,286.9 211.9,280.1 212.1,278.6 212.3,289.6 212.4,283.7 212.6,274.6 212.7,281.0 212.9,290.6 213.0,274.0 213.2,285.6 213.4,279.1 213.5,273.7 213.7,288.4 213.8,297.7 214.0,282.0 214.2,288.2 214.3,292.0 214.5,284.6 214.6,282.3 214.8,283.3 214.9,283.6 215.1,284.5 215.3,287.5 215.4,283.7 215.6,283.2 215.7,290.0 215.9,295.6 216.1,277.5 216.2,292.1 216.4,285.2 216.5,283.3 216.7,294.0 216.8,290.6 217.0,283.7 217.2,281.3 217.3,283.6 217.5,279.0 217.6,281.9 217.8,286.4 218.0,277.9 218.1,282.1 218.3,273.9 218.4,287.8 218.6,269.5 218.8,293.3 218.9,279.9 219.1,280.1 219.2,281.1 219.4,274.3 219.5,272.4 219.7,278.9 219.9,290.8 220.0,293.6 220.2,279.0 220.3,280.4 220.5,280.7 220.7,282.5 220.8,276.7 221.0,287.6 221.1,293.2 221.3,280.0 221.4,290.7 221.6,282.1 221.8,280.0 221.9,284.3 222.1,284.5 222.2,275.7 222.4,280.8 222.6,292.3 222.7,282.4 222.9,275.4 223.0,283.9 223.2,280.6 223.3,283.2 223.5,277.5 223.7,282.3 223.8,282.9 224.0,276.8 224.1,282.4 224.3,291.7 224.5,295.2 224.6,286.7 224.8,274.4 224.9,283.7 225.1,293.2 225.2,282.8 225.4,272.9 225.6,283.0 225.7,283.2 225.9,288.9 226.0,283.6 226.2,298.9 226.4,278.4 226.5,293.6 226.7,291.4 226.8,270.8 227.0,287.3 227.2,280.6 227.3,282.1 227.5,283.8 227.6,301.6 227.8,275.2 227.9,264.4 228.1,283.1 228.3,281.9 228.4,295.6 228.6,281.7 228.7,292.1 228.9,290.9 229.1,291.1 229.2,278.4 229.4,277.2 229.5,271.8 229.7,272.6 229.8,288.4 230.0,285.4 230.2,278.9 230.3,288.0 230.5,294.4 230.6,276.8 230.8,282.6 231.0,281.4 231.1,290.8 231.3,287.1 231.4,310.7 231.6,284.9 231.7,287.2 231.9,277.4 232.1,289.8 232.2,285.7 232.4,281.9 232.5,292.2 232.7,291.5 232.9,276.9 233.0,277.8 233.2,299.8 233.3,275.7 233.5,281.1 233.6,299.4 233.8,296.2 234.0,291.9 234.1,270.7 234.3,295.0 234.4,281.9 234.6,294.3 234.8,289.2 234.9,286.6 235.1,280.3 235.2,281.7 235.4,302.0 235.6,289.7 235.7,287.2 235.9,281.1 236.0,288.2 236.2,284.5 236.3,287.4 236.5,282.5 236.7,275.6 236.8,292.4 237.0,273.0 237.1,281.3 237.3,300.0 237.5,282.7 237.6,292.7 237.8,274.9 237.9,279.9 238.1,272.6 238.2,295.4 238.4,281.1 238.6,286.9 238.7,270.1 238.9,274.6 239.0,291.0 239.2,294.4 239.4,275.9 239.5,289.1 239.7,269.3 239.8,295.1 240.0,279.2 240.1,275.5 240.3,278.5 240.5,273.4 240.6,288.9 240.8,288.9 240.9,274.2 241.1,267.0 241.3,283.7 241.4,271.3 241.6,277.6 241.7,291.1 241.9,290.3 242.0,276.6 242.2,287.3 242.4,272.0 242.5,291.7 242.7,292.8 242.8,278.0 243.0,286.4 243.2,282.8 243.3,264.8 243.5,284.0 243.6,291.3 243.8,264.4 244.0,271.9 244.1,299.7 244.3,289.1 244.4,276.0 244.6,288.4 244.7,287.7 244.9,279.8 245.1,290.8 245.2,284.8 245.4,282.6 245.5,287.9 245.7,282.3 245.9,281.3 246.0,278.9 246.2,272.7 246.3,302.9 246.5,291.9 246.6,287.3 246.8,279.9 247.0,280.6 247.1,288.2 247.3,296.8 247.4,288.8 247.6,292.2 247.8,279.2 247.9,264.4 248.1,291.5 248.2,286.6 248.4,276.1 248.5,287.7 248.7,300.3 248.9,283.8 249.0,285.5 249.2,298.2 249.3,282.7 249.5,280.4 249.7,285.0 249.8,275.7 250.0,282.5 250.1,297.5 250.3,275.0 250.4,302.9 250.6,275.9 250.8,289.4 250.9,293.3 251.1,274.0 251.2,282.1 251.4,281.5 251.6,285.6 251.7,290.2 251.9,290.7 252.0,295.8 252.2,284.9 252.4,291.5 252.5,277.6 252.7,288.6 252.8,282.6 253.0,291.3 253.1,278.7 253.3,276.6 253.5,282.5 253.6,273.1 253.8,288.0 253.9,289.5 254.1,274.7 254.3,277.5 254.4,271.6 254.6,294.9 254.7,280.6 254.9,280.5 255.0,284.3 255.2,270.0 255.4,287.6 255.5,278.3 255.7,271.7 255.8,289.1 256.0,297.3 256.2,287.3 256.3,290.2 256.5,276.8 256.6,302.9 256.8,299.6 256.9,289.0 257.1,282.9 257.3,288.7 257.4,272.4 257.6,284.3 257.7,292.3 257.9,286.9 258.1,284.4 258.2,285.1 258.4,281.3 258.5,281.8 258.7,297.3 258.8,288.8 259.0,295.2 259.2,290.0 259.3,292.7 259.5,288.1 259.6,276.6 259.8,266.5 260.0,271.2 260.1,278.7 260.3,290.9 260.4,287.7 260.6,287.8 260.8,285.0 260.9,287.6 261.1,280.0 261.2,283.1 261.4,282.6 261.5,278.5 261.7,288.0 261.9,283.7 262.0,288.0 262.2,289.2 262.3,284.7 262.5,286.3 262.7,269.5 262.8,291.2 263.0,279.7 263.1,288.9 263.3,277.1 263.4,282.1 263.6,272.4 263.8,300.5 263.9,278.6 264.1,280.8 264.2,266.2 264.4,289.5 264.6,291.2 264.7,284.2 264.9,273.4 265.0,280.7 265.2,279.4 265.3,285.0 265.5,292.0 265.7,282.6 265.8,283.9 266.0,257.4 266.1,280.9 266.3,279.4 266.5,280.3 266.6,295.9 266.8,279.2 266.9,282.5 267.1,294.9 267.2,287.2 267.4,283.2 267.6,283.8 267.7,286.7 267.9,286.5 268.0,280.8 268.2,290.8 268.4,286.7 268.5,292.4 268.7,273.8 268.8,283.0 269.0,295.9 269.2,279.7 269.3,280.9 269.5,287.5 269.6,285.2 269.8,281.8 269.9,291.6 270.1,292.7 270.3,280.2 270.4,286.4 270.6,276.8 270.7,273.6 270.9,291.9 271.1,282.7 271.2,274.4 271.4,292.6 271.5,277.0 271.7,288.5 271.8,294.9 272.0,285.3 272.2,285.1 272.3,283.5 272.5,276.5 272.6,286.0 272.8,287.3 273.0,293.7 273.1,281.4 273.3,293.9 273.4,284.0 273.6,286.4 273.7,290.9 273.9,283.1 274.1,296.7 274.2,281.4 274.4,285.6 274.5,293.1 274.7,281.8 274.9,277.6 275.0,289.0 275.2,296.0 275.3,292.3 275.5,289.5 275.6,279.1 275.8,286.6 276.0,298.6 276.1,269.5 276.3,276.0 276.4,300.4 276.6,286.0 276.8,278.9 276.9,287.3 277.1,286.1 277.2,279.6 277.4,282.7 277.6,273.7 277.7,277.7 277.9,279.0 278.0,283.0 278.2,289.6 278.3,282.4 278.5,288.8 278.7,282.3 278.8,284.5 279.0,283.3 279.1,267.9 279.3,286.1 279.5,281.5 279.6,288.0 279.8,284.6 279.9,285.3 280.1,276.1 280.2,284.9 280.4,281.6 280.6,276.6 280.7,275.4 280.9,282.0 281.0,278.8 281.2,293.2 281.4,294.5 281.5,290.6 281.7,284.4 281.8,286.4 282.0,283.3 282.1,269.1 282.3,301.3 282.5,293.1 282.6,283.6 282.8,290.1 282.9,284.5 283.1,296.0 283.3,280.9 283.4,291.3 283.6,281.7 283.7,282.6 283.9,284.6 284.0,286.2 284.2,272.1 284.4,293.4 284.5,286.1 284.7,283.3 284.8,284.4 285.0,278.3 285.2,286.5 285.3,282.5 285.5,278.2 285.6,289.5 285.8,298.3 286.0,281.4 286.1,295.5 286.3,278.1 286.4,291.5 286.6,278.1 286.7,275.5 286.9,280.6 287.1,276.9 287.2,279.2 287.4,276.1 287.5,273.6 287.7,272.9 287.9,293.2 288.0,280.7 288.2,280.4 288.3,275.8 288.5,284.1 288.6,289.8 288.8,286.4 289.0,307.1 289.1,282.4 289.3,282.9 289.4,298.8 289.6,295.4 289.8,294.3 289.9,275.1 290.1,275.2 290.2,279.4 290.4,271.6 290.5,287.1 290.7,280.2 290.9,276.9 291.0,260.6 291.2,298.0 291.3,292.4 291.5,280.7 291.7,291.6 291.8,285.4 292.0,294.3 292.1,286.8 292.3,293.0 292.4,290.4 292.6,260.2 292.8,280.0 292.9,267.2 293.1,297.8 293.2,279.2 293.4,284.6 293.6,299.2 293.7,290.0 293.9,294.1 294.0,262.2 294.2,295.6 294.4,288.2 294.5,276.2 294.7,284.6 294.8,293.7 295.0,292.3 295.1,283.3 295.3,269.8 295.5,285.9 295.6,286.8 295.8,277.7 295.9,296.0 296.1,292.7 296.3,283.5 296.4,292.6 296.6,291.4 296.7,287.6 296.9,280.9 297.0,286.7 297.2,287.1 297.4,270.9 297.5,280.6 297.7,285.6 297.8,283.5 298.0,281.0 298.2,287.4 298.3,279.4 298.5,269.4 298.6,273.3 298.8,285.0 298.9,294.7 299.1,288.2 299.3,281.3 299.4,287.4 299.6,268.1 299.7,271.9 299.9,277.2 300.1,296.5 300.2,287.7 300.4,290.1 300.5,302.8 300.7,271.1 300.8,286.3 301.0,283.3 301.2,277.4 301.3,268.3 301.5,270.9 301.6,271.7 301.8,271.3 302.0,276.3 302.1,283.3 302.3,293.7 302.4,278.0 302.6,280.5 302.8,277.3 302.9,295.7 303.1,283.6 303.2,277.3 303.4,285.7 303.5,271.5 303.7,288.5 303.9,291.9 304.0,304.7 304.2,283.6 304.3,284.0 304.5,277.0 304.7,279.3 304.8,276.8 305.0,293.4 305.1,285.9 305.3,279.1 305.4,278.2 305.6,277.2 305.8,279.3 305.9,281.5 306.1,298.1 306.2,278.4 306.4,285.0 306.6,282.3 306.7,279.4 306.9,276.4 307.0,284.9 307.2,292.1 307.3,274.2 307.5,276.3 307.7,290.8 307.8,280.5 308.0,286.5 308.1,295.1 308.3,267.0 308.5,286.1 308.6,264.2 308.8,277.4 308.9,290.7 309.1,277.9 309.2,288.5 309.4,287.4 309.6,283.8 309.7,292.4 309.9,274.8 310.0,281.9 310.2,281.4 310.4,275.4 310.5,268.7 310.7,297.4 310.8,278.0 311.0,267.7 311.2,297.3 311.3,294.8 311.5,280.0 311.6,272.8 311.8,278.3 311.9,289.7 312.1,278.3 312.3,285.2 312.4,278.7 312.6,283.7 312.7,297.0 312.9,260.2 313.1,280.3 313.2,288.8 313.4,277.2 313.5,275.0 313.7,282.5 313.8,268.4 314.0,267.6 314.2,281.7 314.3,284.0 314.5,283.6 314.6,274.9 314.8,284.5 315.0,288.7 315.1,299.3 315.3,287.8 315.4,277.2 315.6,279.6 315.7,277.2 315.9,299.7 316.1,307.1 316.2,276.9 316.4,280.4 316.5,284.5 316.7,283.4 316.9,278.6 317.0,278.1 317.2,276.5 317.3,281.1 317.5,283.2 317.6,286.4 317.8,285.3 318.0,292.6 318.1,293.5 318.3,295.7 318.4,272.2 318.6,288.1 318.8,286.6 318.9,285.6 319.1,271.9 319.2,297.7 319.4,266.0 319.6,284.2 319.7,286.4 319.9,267.9 320.0,286.7 320.2,284.4 320.3,298.0 320.5,292.9 320.7,283.9 320.8,285.7 321.0,281.9 321.1,284.4 321.3,272.6 321.5,292.9 321.6,281.7 321.8,289.5 321.9,276.6 322.1,289.5 322.2,279.3 322.4,280.5 322.6,284.4 322.7,277.7 322.9,264.2 323.0,288.5 323.2,275.7 323.4,285.7 323.5,287.5 323.7,296.3 323.8,284.0 324.0,294.6 324.1,274.4 324.3,290.6 324.5,283.3 324.6,279.5 324.8,285.4 324.9,292.8 325.1,291.5 325.3,283.1 325.4,284.5 325.6,292.8 325.7,279.3 325.9,292.0 326.0,281.3 326.2,281.9 326.4,283.8 326.5,288.3 326.7,293.7 326.8,263.9 327.0,276.9 327.2,279.5 327.3,273.3 327.5,287.5 327.6,284.9 327.8,283.6 328.0,291.7 328.1,286.0 328.3,288.8 328.4,285.6 328.6,272.4 328.7,261.0 328.9,272.1 329.1,269.3 329.2,291.8 329.4,288.6 329.5,284.8 329.7,296.7 329.9,288.0 330.0,272.3 330.2,281.0 330.3,266.3 330.5,279.8 330.6,286.7 330.8,279.4 331.0,281.3 331.1,273.9 331.3,273.7 331.4,285.8 331.6,288.9 331.8,276.0 331.9,280.2 332.1,288.1 332.2,272.2 332.4,270.5 332.5,265.1 332.7,275.4 332.9,282.4 333.0,272.3 333.2,282.4 333.3,272.4 333.5,283.9 333.7,280.5 333.8,288.3 334.0,291.5 334.1,293.0 334.3,283.2 334.4,289.5 334.6,287.6 334.8,285.6 334.9,274.7 335.1,281.5 335.2,290.3 335.4,262.5 335.6,268.9 335.7,278.8 335.9,279.1 336.0,289.0 336.2,290.1 336.4,292.4 336.5,284.7 336.7,281.9 336.8,277.8 337.0,261.0 337.1,274.0 337.3,289.8 337.5,277.8 337.6,269.5 337.8,284.8 337.9,290.4 338.1,291.0 338.3,269.9 338.4,286.4 338.6,289.6 338.7,283.6 338.9,270.7 339.0,274.1 339.2,288.8 339.4,291.4 339.5,279.9 339.7,286.3 339.8,292.8 340.0,280.3 340.2,288.0 340.3,266.1 340.5,285.6 340.6,276.7 340.8,287.5 340.9,279.0 341.1,287.0 341.3,280.6 341.4,278.0 341.6,280.9 341.7,283.9 341.9,296.4 342.1,281.0 342.2,284.0 342.4,284.8 342.5,271.4 342.7,291.3 342.8,288.8 343.0,284.7 343.2,288.6 343.3,291.4 343.5,277.8 343.6,291.0 343.8,280.4 344.0,289.5 344.1,278.7 344.3,270.3 344.4,267.6 344.6,276.8 344.8,282.2 344.9,282.0 345.1,265.8 345.2,272.6 345.4,291.9 345.5,274.2 345.7,276.7 345.9,287.0 346.0,299.8 346.2,288.2 346.3,281.5 346.5,291.1 346.7,278.0 346.8,292.7 347.0,286.8 347.1,277.1 347.3,276.8 347.4,279.8 347.6,271.0 347.8,277.1 347.9,252.6 348.1,284.5 348.2,292.1 348.4,288.1 348.6,286.0 348.7,284.7 348.9,280.9 349.0,278.3 349.2,273.2 349.3,293.5 349.5,275.2 349.7,284.8 349.8,283.9 350.0,253.8 350.1,265.0 350.3,282.2 350.5,293.8 350.6,280.2 350.8,273.6 350.9,280.7 351.1,296.2 351.2,272.6 351.4,274.9 351.6,279.8 351.7,295.2 351.9,287.4 352.0,271.9 352.2,283.6 352.4,298.1 352.5,286.5 352.7,282.5 352.8,284.7 353.0,277.1 353.2,291.8 353.3,284.3 353.5,282.1 353.6,277.0 353.8,290.6 353.9,283.7 354.1,283.6 354.3,290.8 354.4,279.4 354.6,293.0 354.7,282.2 354.9,270.2 355.1,289.7 355.2,293.5 355.4,291.7 355.5,284.3 355.7,274.0 355.8,288.2 356.0,288.6 356.2,272.2 356.3,281.5 356.5,279.8 356.6,307.0 356.8,286.1 357.0,292.4 357.1,274.4 357.3,279.7 357.4,289.1 357.6,289.0 357.7,272.5 357.9,288.7 358.1,301.2 358.2,288.6 358.4,291.5 358.5,282.0 358.7,286.8 358.9,294.6 359.0,280.7 359.2,271.9 359.3,286.7 359.5,292.4 359.6,272.8 359.8,281.3 360.0,280.3 360.1,279.6 360.3,286.4 360.4,289.0 360.6,300.0 360.8,295.4 360.9,304.7 361.1,294.6 361.2,288.5 361.4,290.3 361.6,277.1 361.7,291.9 361.9,285.9 362.0,280.4 362.2,281.9 362.3,278.6 362.5,298.7 362.7,271.7 362.8,282.7 363.0,270.6 363.1,271.5 363.3,274.9 363.5,295.9 363.6,270.2 363.8,283.5 363.9,285.8 364.1,281.0 364.2,276.8 364.4,294.3 364.6,289.6 364.7,276.8 364.9,270.1 365.0,289.0 365.2,278.1 365.4,280.4 365.5,291.1 365.7,286.1 365.8,285.5 366.0,284.2 366.1,270.9 366.3,278.5 366.5,272.9 366.6,286.6 366.8,296.0 366.9,284.2 367.1,282.1 367.3,285.2 367.4,286.0 367.6,286.8 367.7,283.3 367.9,274.4 368.0,281.2 368.2,284.8 368.4,304.7 368.5,287.3 368.7,275.9 368.8,292.1 369.0,267.9 369.2,298.0 369.3,288.5 369.5,289.1 369.6,288.7 369.8,290.5 370.0,273.0 370.1,292.9 370.3,280.5 370.4,278.0 370.6,286.3 370.7,284.8 370.9,286.7 371.1,283.3 371.2,283.0 371.4,290.8 371.5,279.8 371.7,267.8 371.9,283.2 372.0,290.3 372.2,278.0 372.3,286.1 372.5,289.5 372.6,289.1 372.8,279.0 373.0,294.1 373.1,281.4 373.3,279.2 373.4,277.7 373.6,280.4 373.8,279.7 373.9,281.3 374.1,281.7 374.2,294.2 374.4,285.7 374.5,274.3 374.7,274.6 374.9,301.2 375.0,300.7 375.2,276.2 375.3,274.5 375.5,275.9 375.7,277.8 375.8,271.3 376.0,289.6 376.1,279.1 376.3,282.5 376.4,287.6 376.6,282.7 376.8,276.9 376.9,277.0 377.1,293.2 377.2,262.6 377.4,298.8 377.6,284.2 377.7,272.8 377.9,287.0 378.0,293.0 378.2,277.9 378.4,282.7 378.5,288.3 378.7,285.8 378.8,264.0 379.0,281.7 379.1,293.1 379.3,283.9 379.5,271.0 379.6,290.3 379.8,268.3 379.9,284.8 380.1,292.3 380.3,269.4 380.4,276.8 380.6,283.7 380.7,283.5 380.9,275.0 381.0,290.1 381.2,265.8 381.4,278.0 381.5,293.0 381.7,283.5 381.8,266.5 382.0,279.2 382.2,271.5 382.3,296.7 382.5,286.2 382.6,278.4 382.8,278.4 382.9,287.4 383.1,287.6 383.3,282.4 383.4,279.8 383.6,278.9 383.7,270.2 383.9,273.5 384.1,289.4 384.2,279.5 384.4,302.7 384.5,296.3 384.7,283.1 384.8,267.3 385.0,289.6 385.2,270.7 385.3,297.9 385.5,284.9 385.6,287.8 385.8,273.6 386.0,282.6 386.1,288.2 386.3,275.1 386.4,301.2 386.6,276.1 386.8,284.2 386.9,295.4 387.1,274.9 387.2,281.0 387.4,285.2 387.5,283.5 387.7,284.6 387.9,285.7 388.0,296.5 388.2,277.3 388.3,262.7 388.5,288.1 388.7,275.0 388.8,279.8 389.0,268.9 389.1,269.3 389.3,283.6 389.4,280.7 389.6,277.1 389.8,294.0 389.9,281.6 390.1,274.4 390.2,274.5 390.4,273.3 390.6,279.8 390.7,285.8 390.9,282.1 391.0,285.0 391.2,284.4 391.3,268.1 391.5,285.4 391.7,277.1 391.8,280.7 392.0,280.7 392.1,276.0 392.3,292.2 392.5,283.7 392.6,272.7 392.8,289.6 392.9,282.3 393.1,289.9 393.2,288.4 393.4,279.9 393.6,289.1 393.7,285.4 393.9,280.4 394.0,284.0 394.2,289.8 394.4,292.6 394.5,283.2 394.7,281.1 394.8,280.3 395.0,282.6 395.2,277.2 395.3,280.5 395.5,285.7 395.6,271.6 395.8,297.2 395.9,298.0 396.1,283.9 396.3,280.1 396.4,283.8 396.6,282.3 396.7,284.6 396.9,294.1 397.1,304.7 397.2,297.9 397.4,285.7 397.5,272.6 397.7,278.5 397.8,293.9 398.0,274.3 398.2,290.8 398.3,278.1 398.5,276.0 398.6,294.7 398.8,283.2 399.0,283.4 399.1,272.8 399.3,294.9 399.4,291.7 399.6,295.3 399.7,280.1 399.9,269.4 400.1,288.7 400.2,299.1 400.4,282.4 400.5,273.3 400.7,271.9 400.9,291.2 401.0,278.4 401.2,288.7 401.3,275.8 401.5,274.8 401.6,281.8 401.8,285.6 402.0,288.9 402.1,289.3 402.3,292.4 402.4,300.3 402.6,281.6 402.8,288.8 402.9,289.8 403.1,284.7 403.2,304.7 403.4,289.8 403.6,287.2 403.7,286.4 403.9,276.5 404.0,294.1 404.2,287.1 404.3,296.7 404.5,285.6 404.7,273.5 404.8,281.4 405.0,284.3 405.1,280.6 405.3,278.4 405.5,313.0 405.6,297.8 405.8,276.0 405.9,273.8 406.1,292.1 406.2,280.2 406.4,279.5 406.6,273.9 406.7,257.4 406.9,293.9 407.0,294.1 407.2,288.1 407.4,284.9 407.5,285.3 407.7,278.5 407.8,299.7 408.0,280.1 408.1,282.4 408.3,269.9 408.5,280.9 408.6,292.4 408.8,285.3 408.9,304.7 409.1,287.7 409.3,276.9 409.4,279.2 409.6,283.7 409.7,288.3 409.9,277.7 410.0,285.4 410.2,282.0 410.4,280.9 410.5,281.2 410.7,268.6 410.8,286.2 411.0,286.3 411.2,271.9 411.3,282.7 411.5,255.0 411.6,290.3 411.8,284.4 412.0,283.5 412.1,304.7 412.3,278.4 412.4,292.0 412.6,278.6 412.7,275.5 412.9,287.3 413.1,298.6 413.2,272.3 413.4,298.1 413.5,294.6 413.7,285.8 413.9,295.9 414.0,279.6 414.2,284.2 414.3,277.6 414.5,288.0 414.6,274.8 414.8,289.8 415.0,276.1 415.1,299.1 415.3,285.1 415.4,290.7 415.6,276.3 415.8,279.8 415.9,278.0 416.1,284.0 416.2,269.6 416.4,287.2 416.5,283.6 416.7,291.3 416.9,285.4 417.0,276.5 417.2,281.8 417.3,276.8 417.5,285.1 417.7,296.4 417.8,301.0 418.0,271.7 418.1,278.6 418.3,280.8 418.5,293.8 418.6,268.2 418.8,283.3 418.9,276.7 419.1,281.9 419.2,286.1 419.4,282.9 419.6,287.8 419.7,292.4 419.9,285.7 420.0,271.0 420.2,290.0 420.4,284.7 420.5,283.1 420.7,273.0 420.8,275.5 421.0,286.1 421.1,280.4 421.3,299.0 421.5,279.4 421.6,286.6 421.8,297.4 421.9,311.9 422.1,281.9 422.3,298.2 422.4,290.1 422.6,293.9 422.7,283.7 422.9,260.2 423.0,292.4 423.2,269.4 423.4,277.6 423.5,276.7 423.7,272.8 423.8,294.0 424.0,278.3 424.2,282.5 424.3,274.2 424.5,283.3 424.6,297.0 424.8,270.6 424.9,282.2 425.1,285.9 425.3,294.4 425.4,279.7 425.6,302.5 425.7,278.4 425.9,274.8 426.1,284.9 426.2,276.0 426.4,291.9 426.5,275.0 426.7,273.0 426.9,283.0 427.0,292.7 427.2,284.5 427.3,267.5 427.5,285.0 427.6,280.7 427.8,294.7 428.0,292.6 428.1,294.6 428.3,275.5 428.4,278.8 428.6,282.6 428.8,275.2 428.9,269.0 429.1,281.7 429.2,265.6 429.4,282.7 429.5,269.8 429.7,284.8 429.9,296.1 430.0,276.5 430.2,265.7 430.3,276.4 430.5,253.8 430.7,298.1 430.8,287.0 431.0,288.5 431.1,289.1 431.3,278.8 431.4,281.5 431.6,274.1 431.8,288.2 431.9,280.3 432.1,276.2 432.2,291.3 432.4,293.6 432.6,276.4 432.7,281.4 432.9,274.9 433.0,295.6 433.2,290.8 433.3,271.9 433.5,307.1 433.7,278.9 433.8,286.1 434.0,269.0 434.1,282.6 434.3,295.6 434.5,289.9 434.6,289.2 434.8,284.7 434.9,281.5 435.1,276.5 435.3,294.3 435.4,282.9 435.6,288.8 435.7,277.5 435.9,294.3 436.0,270.3 436.2,292.5 436.4,269.5 436.5,271.3 436.7,286.0 436.8,284.1 437.0,291.4 437.2,280.8 437.3,288.2 437.5,281.5 437.6,265.1 437.8,279.3 437.9,291.5 438.1,297.4 438.3,277.4 438.4,279.0 438.6,265.0 438.7,289.3 438.9,283.1 439.1,275.3 439.2,292.1 439.4,274.7 439.5,280.3 439.7,276.7 439.8,283.6 440.0,274.5 440.2,279.7 440.3,285.5 440.5,273.0 440.6,278.9 440.8,317.8 441.0,261.0 441.1,280.9 441.3,298.0 441.4,279.1 441.6,285.8 441.7,283.0 441.9,281.9 442.1,272.2 442.2,294.7 442.4,280.0 442.5,284.1 442.7,283.2 442.9,286.4 443.0,293.0 443.2,287.1 443.3,274.0 443.5,284.2 443.7,286.2 443.8,291.3 444.0,279.0 444.1,291.7 444.3,277.8 444.4,264.9 444.6,280.6 444.8,285.0 444.9,289.6 445.1,283.0 445.2,276.4 445.4,283.2 445.6,284.4 445.7,287.0 445.9,282.6 446.0,271.9 446.2,282.6 446.3,292.5 446.5,279.5 446.7,281.7 446.8,270.5 447.0,280.2 447.1,278.8 447.3,260.4 447.5,294.5 447.6,274.9 447.8,262.4 447.9,278.2 448.1,271.1 448.2,279.4 448.4,282.5 448.6,296.8 448.7,289.1 448.9,290.6 449.0,278.8 449.2,294.0 449.4,283.1 449.5,283.6 449.7,278.3 449.8,289.2 450.0,267.6 450.1,284.0 450.3,274.8 450.5,290.0 450.6,293.0 450.8,284.0 450.9,281.9 451.1,307.1 451.3,278.2 451.4,307.1 451.6,286.5 451.7,280.1 451.9,279.8 452.1,280.1 452.2,284.3 452.4,278.5 452.5,267.5 452.7,282.4 452.8,283.0 453.0,287.3 453.2,289.7 453.3,297.4 453.5,298.4 453.6,284.7 453.8,273.2 454.0,277.6 454.1,280.5 454.3,279.3 454.4,281.5 454.6,284.9 454.7,284.9 454.9,296.2 455.1,276.6 455.2,288.6 455.4,281.8 455.5,288.4 455.7,292.1 455.9,286.2 456.0,285.6 456.2,281.5 456.3,273.2 456.5,282.0 456.6,280.3 456.8,310.7 457.0,276.6 457.1,279.7 457.3,270.7 457.4,279.6 457.6,274.6 457.8,276.0 457.9,293.9 458.1,290.0 458.2,272.2 458.4,297.6 458.5,279.2 458.7,297.7 458.9,269.7 459.0,291.2 459.2,291.0 459.3,292.6 459.5,286.4 459.7,275.1 459.8,303.1 460.0,284.1 460.1,264.1 460.3,290.7 460.5,279.7 460.6,277.5 460.8,272.3 460.9,285.5 461.1,291.7 461.2,281.7 461.4,281.5 461.6,277.5 461.7,276.1 461.9,282.9 462.0,297.5 462.2,283.8 462.4,290.5 462.5,283.5 462.7,273.2 462.8,294.9 463.0,288.5 463.1,285.1 463.3,283.2 463.5,269.0 463.6,280.7 463.8,277.2 463.9,283.1 464.1,260.4 464.3,292.1 464.4,275.1 464.6,288.6 464.7,286.0 464.9,286.2 465.0,291.1 465.2,294.8 465.4,278.9 465.5,278.1 465.7,279.4 465.8,281.5 466.0,307.1 466.2,279.6 466.3,285.8 466.5,274.1 466.6,276.8 466.8,271.0 466.9,282.1 467.1,285.0 467.3,273.1 467.4,267.7 467.6,295.6 467.7,282.6 467.9,282.8 468.1,283.1 468.2,291.9 468.4,289.3 468.5,269.9 468.7,286.0 468.9,294.4 469.0,279.0 469.2,285.6 469.3,288.1 469.5,299.6 469.6,278.5 469.8,306.6 470.0,277.1 470.1,284.2 470.3,280.9 470.4,293.4 470.6,293.3 470.8,281.3 470.9,279.7 471.1,278.8 471.2,272.9 471.4,285.0 471.5,295.0 471.7,278.8 471.9,275.5 472.0,305.5 472.2,268.4 472.3,281.5 472.5,295.0 472.7,286.6 472.8,284.1 473.0,276.6 473.1,275.1 473.3,301.7 473.4,285.3 473.6,301.5 473.8,297.9 473.9,298.7 474.1,285.8 474.2,282.2 474.4,290.6 474.6,270.7 474.7,272.3 474.9,275.6 475.0,274.4 475.2,275.5 475.3,274.9 475.5,295.4 475.7,273.9 475.8,290.5 476.0,276.4 476.1,276.1 476.3,277.4 476.5,282.8 476.6,262.8 476.8,279.3 476.9,277.2 477.1,270.4 477.3,295.9 477.4,282.8 477.6,293.9 477.7,291.8 477.9,283.9 478.0,277.8 478.2,287.3 478.4,296.4 478.5,272.6 478.7,288.8 478.8,276.8 479.0,288.8 479.2,294.4 479.3,286.1 479.5,259.8 479.6,268.4 479.8,299.3 479.9,282.1 480.1,275.3 480.3,285.8 480.4,281.0 480.6,280.3 480.7,286.5 480.9,290.2 481.1,286.9 481.2,290.5 481.4,282.0 481.5,277.2 481.7,284.7 481.8,278.1 482.0,292.7 482.2,289.9 482.3,272.9 482.5,281.7 482.6,282.0 482.8,291.0 483.0,282.2 483.1,280.5 483.3,271.2 483.4,284.8 483.6,280.8 483.7,294.4 483.9,280.0 484.1,279.4 484.2,270.0 484.4,276.6 484.5,278.2 484.7,279.3 484.9,273.5 485.0,283.7 485.2,286.3 485.3,253.8 485.5,282.0 485.7,274.5 485.8,291.7 486.0,295.1 486.1,281.7 486.3,279.1 486.4,294.9 486.6,301.0 486.8,289.2 486.9,278.9 487.1,268.2 487.2,290.8 487.4,272.0 487.6,281.8 487.7,298.4 487.9,278.5 488.0,290.5 488.2,284.3 488.3,291.4 488.5,286.5 488.7,276.6 488.8,285.0 489.0,272.8 489.1,276.9 489.3,268.7 489.5,272.3 489.6,279.2 489.8,272.7 489.9,298.1 490.1,295.1 490.2,275.4 490.4,286.5 490.6,287.0 490.7,289.8 490.9,281.6 491.0,284.5 491.2,291.4 491.4,302.7 491.5,291.2 491.7,282.2 491.8,287.4 492.0,275.4 492.1,291.6 492.3,294.3 492.5,280.1 492.6,279.8 492.8,285.5 492.9,295.2 493.1,285.4 493.3,293.9 493.4,282.3 493.6,276.2 493.7,283.3 493.9,286.6 494.1,291.8 494.2,279.7 494.4,295.3 494.5,282.0 494.7,271.5 494.8,280.5 495.0,277.4 495.2,280.3 495.3,276.0 495.5,279.6 495.6,288.8 495.8,280.9 496.0,272.6 496.1,277.5 496.3,282.9 496.4,281.7 496.6,289.5 496.7,289.5 496.9,288.7 497.1,286.3 497.2,286.6 497.4,279.4 497.5,291.2 497.7,288.7 497.9,281.2 498.0,274.4 498.2,289.6 498.3,281.1 498.5,279.9 498.6,281.5 498.8,275.9 499.0,282.0 499.1,283.3 499.3,283.5 499.4,267.3 499.6,285.5 499.8,285.9 499.9,266.5 500.1,272.9 500.2,273.3 500.4,280.9 500.5,277.5 500.7,271.7 500.9,284.3 501.0,268.9 501.2,275.6 501.3,271.6 501.5,289.4 501.7,279.0 501.8,285.5 502.0,298.9 502.1,277.7 502.3,284.8 502.5,260.2 502.6,284.6 502.8,282.0 502.9,279.6 503.1,287.8 503.2,291.5 503.4,279.0 503.6,293.0 503.7,284.2 503.9,281.7 504.0,274.4 504.2,283.3 504.4,285.8 504.5,272.6 504.7,283.9 504.8,275.7 505.0,283.6 505.1,279.9 505.3,294.0 505.5,277.1 505.6,283.6 505.8,304.7 505.9,285.2 506.1,303.5 506.3,266.6 506.4,290.1 506.6,297.7 506.7,287.3 506.9,269.9 507.0,289.2 507.2,289.0 507.4,285.9 507.5,279.4 507.7,290.2 507.8,282.3 508.0,271.7 508.2,274.9 508.3,285.0 508.5,298.5 508.6,275.9 508.8,307.1 508.9,276.3 509.1,271.7 509.3,277.1 509.4,280.1 509.6,287.9 509.7,276.7 509.9,301.5 510.1,282.5 510.2,287.4 510.4,292.4 510.5,288.2 510.7,276.6 510.9,284.2 511.0,282.6 511.2,276.2 511.3,271.3 511.5,288.8 511.6,287.6 511.8,265.7 512.0,283.0 512.1,282.9 512.3,287.8 512.4,294.9 512.6,286.4 512.8,299.1 512.9,289.3 513.1,283.1 513.2,285.9 513.4,265.1 513.5,280.4 513.7,279.9 513.9,288.1 514.0,284.0 514.2,302.6 514.3,299.1 514.5,277.5 514.7,269.6 514.8,285.8 515.0,281.9 515.1,286.2 515.3,277.9 515.4,279.8 515.6,273.4 515.8,295.3 515.9,280.2 516.1,278.9 516.2,285.5 516.4,284.5 516.6,277.4 516.7,297.1 516.9,298.4 517.0,279.2 517.2,279.5 517.3,276.9 517.5,280.6 517.7,279.3 517.8,267.7 518.0,291.6 518.1,287.6 518.3,288.0 518.5,297.8 518.6,283.3 518.8,296.4 518.9,272.3 519.1,280.9 519.3,267.3 519.4,274.9 519.6,277.3 519.7,281.5 519.9,276.6 520.0,280.0 520.2,266.1 520.4,270.7 520.5,280.3 520.7,275.3 520.8,295.0 521.0,287.9 521.2,268.9 521.3,287.6 521.5,292.3 521.6,276.9 521.8,272.3 521.9,292.4 522.1,278.1 522.3,287.9 522.4,272.3 522.6,273.8 522.7,286.6 522.9,289.1 523.1,295.7 523.2,282.8 523.4,284.4 523.5,278.2 523.7,285.0 523.8,278.8 524.0,299.2 524.2,297.5 524.3,291.9 524.5,283.4 524.6,282.9 524.8,270.3 525.0,270.0 525.1,291.8 525.3,281.6 525.4,283.9 525.6,280.0 525.7,292.5 525.9,283.9 526.1,282.4 526.2,285.8 526.4,287.2 526.5,280.9 526.7,283.5 526.9,283.2 527.0,286.7 527.2,272.9 527.3,295.2 527.5,265.2 527.7,270.6 527.8,285.1 528.0,284.6 528.1,286.0 528.3,277.1 528.4,304.7 528.6,280.9 528.8,280.9 528.9,296.2 529.1,285.3 529.2,291.1 529.4,283.0 529.6,256.0 529.7,274.5 529.9,281.0 530.0,278.2 530.2,271.1 530.3,280.9 530.5,295.4 530.7,287.0 530.8,288.0 531.0,275.0 531.1,279.2 531.3,284.6 531.5,288.3 531.6,287.3 531.8,286.5 531.9,283.9 532.1,294.5 532.2,278.7 532.4,275.0 532.6,285.7 532.7,278.8 532.9,279.5 533.0,286.6 533.2,285.3 533.4,291.3 533.5,286.2 533.7,281.5 533.8,279.8 534.0,281.9 534.1,294.3 534.3,273.4 534.5,282.5 534.6,270.6 534.8,291.7 534.9,292.7 535.1,284.3 535.3,289.8 535.4,274.0 535.6,291.7 535.7,289.9 535.9,282.8 536.1,263.3 536.2,270.5 536.4,282.5 536.5,295.8 536.7,296.8 536.8,285.7 537.0,284.8 537.2,271.8 537.3,285.2 537.5,277.2 537.6,273.2 537.8,282.6 538.0,245.4 538.1,280.6 538.3,294.2 538.4,293.2 538.6,292.4 538.7,283.3 538.9,276.8 539.1,289.1 539.2,289.5 539.4,278.2 539.5,278.7 539.7,286.4 539.9,275.5 540.0,286.8 540.2,296.8 540.3,288.7 540.5,281.4 540.6,289.3 540.8,292.7 541.0,280.2 541.1,267.9 541.3,273.3 541.4,288.7" fill="none" stroke="#1838ff" stroke-width="0.7" stroke-linejoin="miter"/>
<polyline points="26.5,269.1 26.7,276.8 26.8,287.4 27.0,279.9 27.1,274.9 27.3,287.2 27.5,264.9 27.6,288.0 27.8,297.6 27.9,284.4 28.1,293.3 28.2,294.1 28.4,292.0 28.6,285.7 28.7,287.4 28.9,278.9 29.0,291.2 29.2,276.9 29.4,283.3 29.5,280.0 29.7,283.2 29.8,291.5 30.0,285.0 30.1,279.3 30.3,276.3 30.5,281.5 30.6,284.5 30.8,291.5 30.9,285.9 31.1,274.5 31.3,276.6 31.4,285.2 31.6,291.2 31.7,288.1 31.9,289.0 32.0,287.6 32.2,297.3 32.4,279.3 32.5,292.4 32.7,296.5 32.8,275.5 33.0,283.9 33.2,280.5 33.3,279.5 33.5,292.9 33.6,279.6 33.8,298.4 33.9,282.3 34.1,287.6 34.3,280.7 34.4,264.5 34.6,282.5 34.7,284.3 34.9,277.8 35.1,277.9 35.2,297.2 35.4,278.9 35.5,272.3 35.7,289.4 35.9,276.2 36.0,285.3 36.2,278.9 36.3,291.6 36.5,272.2 36.6,274.0 36.8,276.2 37.0,289.3 37.1,277.2 37.3,291.1 37.4,287.1 37.6,284.1 37.8,287.4 37.9,269.6 38.1,269.2 38.2,270.0 38.4,290.4 38.5,263.7 38.7,273.1 38.9,272.7 39.0,275.6 39.2,289.7 39.3,286.4 39.5,276.5 39.7,274.6 39.8,284.9 40.0,275.0 40.1,296.8 40.3,273.9 40.4,292.8 40.6,271.6 40.8,284.1 40.9,291.2 41.1,283.6 41.2,300.2 41.4,289.5 41.6,279.5 41.7,286.5 41.9,286.8 42.0,285.6 42.2,287.8 42.3,287.0 42.5,280.0 42.7,278.7 42.8,286.9 43.0,285.8 43.1,291.0 43.3,275.3 43.5,280.0 43.6,278.0 43.8,272.1 43.9,264.3 44.1,285.1 44.3,279.8 44.4,299.1 44.6,273.1 44.7,282.2 44.9,292.6 45.0,281.3 45.2,277.1 45.4,295.3 45.5,276.5 45.7,286.5 45.8,274.3 46.0,263.7 46.2,283.5 46.3,273.9 46.5,282.6 46.6,274.1 46.8,281.9 46.9,273.4 47.1,302.9 47.3,288.2 47.4,277.7 47.6,283.6 47.7,278.3 47.9,280.2 48.1,285.6 48.2,274.9 48.4,273.4 48.5,281.2 48.7,291.6 48.8,279.2 49.0,284.5 49.2,285.3 49.3,293.8 49.5,287.6 49.6,284.4 49.8,272.6 50.0,285.3 50.1,294.6 50.3,286.6 50.4,271.0 50.6,284.6 50.7,295.3 50.9,284.0 51.1,284.1 51.2,292.5 51.4,282.6 51.5,291.6 51.7,272.3 51.9,269.6 52.0,280.6 52.2,278.9 52.3,287.5 52.5,279.0 52.7,275.2 52.8,275.4 53.0,290.3 53.1,283.1 53.3,283.7 53.4,290.3 53.6,296.2 53.8,283.1 53.9,278.5 54.1,287.2 54.2,277.4 54.4,279.8 54.6,283.4 54.7,279.6 54.9,295.5 55.0,285.7 55.2,281.2 55.3,293.9 55.5,284.3 55.7,273.6 55.8,283.3 56.0,284.4 56.1,279.5 56.3,275.8 56.5,287.7 56.6,271.9 56.8,268.3 56.9,289.2 57.1,292.2 57.2,284.6 57.4,289.8 57.6,287.1 57.7,270.4 57.9,286.7 58.0,283.4 58.2,283.8 58.4,293.8 58.5,285.9 58.7,285.6 58.8,285.7 59.0,286.7 59.1,289.7 59.3,281.4 59.5,288.0 59.6,301.4 59.8,276.9 59.9,283.2 60.1,286.8 60.3,268.2 60.4,280.0 60.6,280.6 60.7,282.6 60.9,281.7 61.1,277.4 61.2,267.4 61.4,285.5 61.5,281.7 61.7,266.0 61.8,296.2 62.0,277.7 62.2,272.6 62.3,283.5 62.5,286.7 62.6,289.5 62.8,283.1 63.0,298.5 63.1,293.9 63.3,288.9 63.4,281.8 63.6,279.9 63.7,281.6 63.9,284.2 64.1,283.7 64.2,280.6 64.4,292.6 64.5,286.1 64.7,281.6 64.9,291.9 65.0,283.6 65.2,274.8 65.3,288.5 65.5,298.2 65.6,276.7 65.8,289.2 66.0,281.5 66.1,278.9 66.3,277.7 66.4,287.8 66.6,270.9 66.8,296.6 66.9,276.3 67.1,270.7 67.2,267.0 67.4,284.2 67.5,280.5 67.7,293.1 67.9,282.8 68.0,294.9 68.2,283.4 68.3,285.3 68.5,279.1 68.7,288.5 68.8,281.5 69.0,286.9 69.1,277.3 69.3,287.6 69.5,276.5 69.6,281.9 69.8,279.4 69.9,282.1 70.1,280.3 70.2,303.6 70.4,280.5 70.6,282.4 70.7,275.4 70.9,275.3 71.0,290.5 71.2,273.4 71.4,286.7 71.5,281.7 71.7,269.1 71.8,279.2 72.0,287.9 72.1,278.5 72.3,273.7 72.5,285.9 72.6,286.5 72.8,295.7 72.9,273.6 73.1,279.4 73.3,290.2 73.4,276.8 73.6,279.5 73.7,286.7 73.9,273.1 74.0,281.5 74.2,288.1 74.4,274.1 74.5,275.2 74.7,283.2 74.8,281.4 75.0,284.9 75.2,278.9 75.3,286.7 75.5,287.7 75.6,280.7 75.8,279.1 75.9,291.5 76.1,281.2 76.3,267.1 76.4,295.1 76.6,289.8 76.7,268.8 76.9,294.3 77.1,293.1 77.2,276.5 77.4,291.1 77.5,294.2 77.7,297.3 77.9,289.5 78.0,280.2 78.2,292.0 78.3,283.9 78.5,271.6 78.6,286.5 78.8,289.0 79.0,279.8 79.1,279.9 79.3,278.2 79.4,285.2 79.6,290.8 79.8,278.9 79.9,276.2 80.1,285.5 80.2,281.4 80.4,293.8 80.5,291.4 80.7,281.5 80.9,283.0 81.0,276.3 81.2,296.8 81.3,286.9 81.5,293.5 81.7,289.6 81.8,274.9 82.0,282.2 82.1,283.7 82.3,293.2 82.4,302.8 82.6,294.2 82.8,279.6 82.9,298.2 83.1,272.1 83.2,283.2 83.4,273.6 83.6,299.0 83.7,267.0 83.9,280.9 84.0,272.4 84.2,283.0 84.3,290.2 84.5,296.4 84.7,282.6 84.8,280.8 85.0,292.1 85.1,277.2 85.3,276.3 85.5,284.5 85.6,275.9 85.8,286.5 85.9,285.1 86.1,280.1 86.3,294.7 86.4,273.7 86.6,286.5 86.7,293.3 86.9,276.3 87.0,303.6 87.2,283.4 87.4,283.3 87.5,285.8 87.7,276.4 87.8,275.4 88.0,284.0 88.2,291.9 88.3,279.4 88.5,285.7 88.6,280.3 88.8,288.7 88.9,282.4 89.1,282.2 89.3,275.8 89.4,279.8 89.6,279.2 89.7,279.9 89.9,286.4 90.1,280.3 90.2,273.5 90.4,284.7 90.5,276.4 90.7,291.6 90.8,278.7 91.0,284.2 91.2,275.1 91.3,265.5 91.5,288.3 91.6,291.7 91.8,281.4 92.0,287.1 92.1,283.8 92.3,292.1 92.4,293.2 92.6,290.1 92.7,280.3 92.9,278.4 93.1,283.5 93.2,281.3 93.4,281.3 93.5,292.9 93.7,277.0 93.9,295.9 94.0,265.0 94.2,284.2 94.3,279.1 94.5,287.6 94.7,286.3 94.8,264.7 95.0,277.6 95.1,278.4 95.3,279.9 95.4,280.4 95.6,283.0 95.8,280.7 95.9,280.3 96.1,284.6 96.2,275.9 96.4,281.6 96.6,293.6 96.7,286.3 96.9,297.9 97.0,280.8 97.2,274.7 97.3,284.2 97.5,284.8 97.7,280.3 97.8,283.6 98.0,280.8 98.1,282.6 98.3,278.5 98.5,272.7 98.6,282.9 98.8,284.5 98.9,288.5 99.1,298.7 99.2,286.5 99.4,284.5 99.6,281.5 99.7,284.4 99.9,297.2 100.0,296.1 100.2,291.6 100.4,288.1 100.5,284.8 100.7,292.5 100.8,274.1 101.0,275.1 101.1,284.0 101.3,283.4 101.5,257.4 101.6,281.9 101.8,299.3 101.9,302.4 102.1,293.9 102.3,288.6 102.4,286.9 102.6,293.0 102.7,287.6 102.9,279.5 103.1,278.1 103.2,284.8 103.4,263.7 103.5,273.7 103.7,279.0 103.8,311.9 104.0,278.2 104.2,282.3 104.3,274.5 104.5,271.9 104.6,297.2 104.8,293.5 105.0,278.3 105.1,294.6 105.3,275.5 105.4,286.4 105.6,267.4 105.7,272.6 105.9,274.7 106.1,276.2 106.2,280.7 106.4,277.0 106.5,279.9 106.7,292.4 106.9,288.3 107.0,288.0 107.2,281.9 107.3,301.2 107.5,290.0 107.6,275.0 107.8,277.7 108.0,282.0 108.1,282.6 108.3,280.5 108.4,302.3 108.6,299.6 108.8,286.9 108.9,271.4 109.1,293.0 109.2,279.3 109.4,279.9 109.5,277.2 109.7,309.5 109.9,297.3 110.0,291.7 110.2,287.2 110.3,281.6 110.5,282.6 110.7,296.5 110.8,274.4 111.0,285.5 111.1,288.5 111.3,281.8 111.5,284.1 111.6,288.6 111.8,283.7 111.9,278.4 112.1,286.5 112.2,282.0 112.4,276.4 112.6,288.4 112.7,286.2 112.9,273.5 113.0,282.2 113.2,296.3 113.4,277.7 113.5,277.9 113.7,283.9 113.8,286.0 114.0,285.9 114.1,290.4 114.3,283.1 114.5,294.1 114.6,291.9 114.8,279.2 114.9,272.0 115.1,277.6 115.3,264.3 115.4,281.4 115.6,283.6 115.7,275.5 115.9,282.0 116.0,286.9 116.2,275.0 116.4,281.6 116.5,273.9 116.7,283.5 116.8,280.7 117.0,269.7 117.2,279.4 117.3,276.5 117.5,268.4 117.6,276.4 117.8,289.1 117.9,284.6 118.1,281.7 118.3,292.9 118.4,289.8 118.6,285.7 118.7,285.5 118.9,286.0 119.1,283.1 119.2,273.0 119.4,299.5 119.5,277.7 119.7,290.4 119.9,280.0 120.0,295.7 120.2,283.7 120.3,275.0 120.5,280.4 120.6,295.4 120.8,292.8 121.0,283.2 121.1,281.2 121.3,268.6 121.4,274.5 121.6,282.4 121.8,313.0 121.9,275.3 122.1,290.5 122.2,272.4 122.4,271.8 122.5,268.8 122.7,276.8 122.9,276.7 123.0,284.9 123.2,291.2 123.3,285.8 123.5,282.0 123.7,271.9 123.8,282.7 124.0,273.5 124.1,285.8 124.3,292.5 124.4,291.1 124.6,291.3 124.8,286.1 124.9,290.7 125.1,276.5 125.2,288.7 125.4,282.0 125.6,278.7 125.7,275.4 125.9,285.4 126.0,285.4 126.2,281.7 126.3,275.8 126.5,279.4 126.7,283.6 126.8,284.2 127.0,288.2 127.1,269.0 127.3,293.8 127.5,289.2 127.6,274.8 127.8,292.9 127.9,286.9 128.1,294.0 128.3,283.6 128.4,272.4 128.6,274.5 128.7,285.3 128.9,272.0 129.0,279.5 129.2,292.9 129.4,279.6 129.5,272.1 129.7,286.0 129.8,284.5 130.0,283.5 130.2,282.6 130.3,276.1 130.5,289.2 130.6,292.7 130.8,287.9 130.9,272.9 131.1,290.8 131.3,277.6 131.4,292.1 131.6,272.8 131.7,294.0 131.9,281.9 132.1,296.9 132.2,281.4 132.4,277.7 132.5,280.6 132.7,285.3 132.8,279.0 133.0,283.5 133.2,284.5 133.3,279.2 133.5,280.0 133.6,273.3 133.8,280.8 134.0,284.4 134.1,287.9 134.3,273.4 134.4,279.9 134.6,280.8 134.7,287.2 134.9,267.9 135.1,285.9 135.2,289.7 135.4,289.7 135.5,284.6 135.7,285.1 135.9,288.0 136.0,285.2 136.2,278.4 136.3,289.0 136.5,274.8 136.7,281.8 136.8,295.3 137.0,298.1 137.1,284.4 137.3,293.0 137.4,288.8 137.6,288.5 137.8,281.8 137.9,288.6 138.1,285.3 138.2,295.6 138.4,271.7 138.6,283.4 138.7,299.9 138.9,290.6 139.0,295.3 139.2,290.9 139.3,281.3 139.5,280.9 139.7,280.9 139.8,290.4 140.0,285.6 140.1,292.9 140.3,286.7 140.5,279.2 140.6,275.3 140.8,273.2 140.9,293.3 141.1,282.4 141.2,286.8 141.4,273.0 141.6,278.6 141.7,274.0 141.9,286.0 142.0,283.3 142.2,281.1 142.4,290.4 142.5,275.7 142.7,276.6 142.8,290.4 143.0,290.0 143.1,286.8 143.3,290.4 143.5,281.1 143.6,286.8 143.8,291.8 143.9,284.5 144.1,286.2 144.3,293.8 144.4,278.6 144.6,282.7 144.7,284.6 144.9,290.2 145.1,272.7 145.2,292.1 145.4,283.0 145.5,280.0 145.7,275.1 145.8,283.9 146.0,283.2 146.2,279.4 146.3,290.7 146.5,291.3 146.6,299.5 146.8,281.1 147.0,283.6 147.1,288.8 147.3,278.7 147.4,289.2 147.6,292.7 147.7,286.7 147.9,283.6 148.1,286.9 148.2,267.3 148.4,279.1 148.5,283.2 148.7,302.2 148.9,293.6 149.0,278.8 149.2,269.5 149.3,281.7 149.5,280.0 149.6,279.8 149.8,287.9 150.0,281.8 150.1,288.7 150.3,288.9 150.4,282.1 150.6,293.1 150.8,269.5 150.9,281.6 151.1,278.3 151.2,282.6 151.4,283.3 151.5,279.1 151.7,283.5 151.9,285.0 152.0,269.5 152.2,296.5 152.3,288.6 152.5,301.3 152.7,288.6 152.8,271.6 153.0,277.8 153.1,268.5 153.3,286.7 153.5,293.2 153.6,290.8 153.8,287.1 153.9,278.5 154.1,283.0 154.2,285.4 154.4,284.2 154.6,289.9 154.7,275.3 154.9,279.3 155.0,279.4 155.2,286.1 155.4,291.3 155.5,290.4 155.7,280.0 155.8,276.8 156.0,288.9 156.1,286.9 156.3,275.3 156.5,287.1 156.6,296.1 156.8,294.0 156.9,277.0 157.1,282.2 157.3,276.7 157.4,285.6 157.6,279.2 157.7,285.1 157.9,285.5 158.0,291.6 158.2,289.9 158.4,267.3 158.5,280.7 158.7,278.2 158.8,283.3 159.0,282.9 159.2,295.1 159.3,288.8 159.5,286.1 159.6,284.2 159.8,274.3 160.0,285.3 160.1,279.9 160.3,279.7 160.4,289.2 160.6,287.1 160.7,285.7 160.9,273.8 161.1,283.0 161.2,268.6 161.4,287.5 161.5,289.3 161.7,287.3 161.9,283.8 162.0,287.2 162.2,283.5 162.3,288.4 162.5,288.0 162.6,283.6 162.8,278.2 163.0,286.2 163.1,283.1 163.3,295.0 163.4,283.8 163.6,276.7 163.8,286.6 163.9,286.6 164.1,278.7 164.2,278.8 164.4,275.3 164.5,282.5 164.7,291.7 164.9,283.4 165.0,286.4 165.2,285.1 165.3,286.6 165.5,277.6 165.7,292.5 165.8,281.5 166.0,277.5 166.1,277.6 166.3,289.9 166.4,285.8 166.6,274.6 166.8,277.3 166.9,286.9 167.1,285.3 167.2,274.4 167.4,297.1 167.6,289.4 167.7,278.8 167.9,287.0 168.0,286.2 168.2,288.7 168.4,284.8 168.5,286.1 168.7,273.7 168.8,275.2 169.0,289.2 169.1,289.0 169.3,271.2 169.5,277.4 169.6,288.6 169.8,278.0 169.9,295.9 170.1,277.8 170.3,275.4 170.4,282.4 170.6,278.8 170.7,285.6 170.9,278.4 171.0,291.8 171.2,286.8 171.4,281.8 171.5,280.4 171.7,297.1 171.8,280.6 172.0,276.8 172.2,282.4 172.3,273.9 172.5,275.1 172.6,280.4 172.8,283.5 172.9,284.1 173.1,289.6 173.3,280.4 173.4,285.9 173.6,278.6 173.7,277.8 173.9,276.4 174.1,276.4 174.2,283.8 174.4,287.0 174.5,273.6 174.7,285.1 174.8,286.9 175.0,282.3 175.2,275.5 175.3,270.9 175.5,290.8 175.6,290.1 175.8,282.5 176.0,290.5 176.1,295.3 176.3,272.7 176.4,255.0 176.6,281.8 176.8,285.8 176.9,291.8 177.1,298.8 177.2,280.7 177.4,285.3 177.5,281.8 177.7,283.9 177.9,287.0 178.0,283.4 178.2,300.0 178.3,279.3 178.5,276.4 178.7,284.2 178.8,273.4 179.0,279.7 179.1,293.7 179.3,280.1 179.4,296.1 179.6,275.1 179.8,288.2 179.9,280.5 180.1,285.6 180.2,283.4 180.4,294.6 180.6,280.9 180.7,288.7 180.9,287.4 181.0,288.4 181.2,294.5 181.3,292.3 181.5,281.1 181.7,286.0 181.8,281.1 182.0,283.8 182.1,288.6 182.3,286.9 182.5,288.4 182.6,294.8 182.8,274.6 182.9,284.5 183.1,278.8 183.2,290.6 183.4,280.1 183.6,281.4 183.7,281.5 183.9,290.7 184.0,289.9 184.2,280.4 184.4,290.9 184.5,288.5 184.7,285.2 184.8,282.3 185.0,289.1 185.2,277.7 185.3,280.4 185.5,285.0 185.6,267.3 185.8,283.3 185.9,283.6 186.1,287.2 186.3,284.1 186.4,289.0 186.6,281.9 186.7,288.5 186.9,289.6 187.1,287.0 187.2,276.8 187.4,289.0 187.5,279.2 187.7,285.2 187.8,282.3 188.0,285.7 188.2,283.8 188.3,277.0 188.5,306.0 188.6,284.4 188.8,275.7 189.0,283.6 189.1,289.7 189.3,270.9 189.4,290.9 189.6,281.3 189.7,290.5 189.9,286.8 190.1,288.5 190.2,275.2 190.4,277.9 190.5,296.7 190.7,280.2 190.9,287.4 191.0,281.5 191.2,287.6 191.3,277.0 191.5,277.2 191.6,284.6 191.8,281.4 192.0,285.2 192.1,285.1 192.3,295.0 192.4,279.9 192.6,285.1 192.8,292.4 192.9,282.7 193.1,282.8 193.2,285.9 193.4,283.2 193.6,284.7 193.7,287.8 193.9,291.1 194.0,283.4 194.2,283.9 194.3,280.7 194.5,282.2 194.7,284.0 194.8,281.2 195.0,284.8 195.1,283.6 195.3,285.0 195.5,285.2 195.6,282.6 195.8,287.6 195.9,286.0 196.1,293.6 196.2,279.6 196.4,285.3 196.6,282.4 196.7,281.0 196.9,282.0 197.0,290.2 197.2,292.8 197.4,288.8 197.5,273.3 197.7,276.0 197.8,283.1 198.0,277.1 198.1,281.9 198.3,288.1 198.5,283.8 198.6,289.1 198.8,281.5 198.9,279.2 199.1,284.0 199.3,296.3 199.4,279.0 199.6,283.9 199.7,284.3 199.9,286.2 200.0,291.0 200.2,287.0 200.4,295.8 200.5,292.6 200.7,290.1 200.8,296.0 201.0,272.2 201.2,284.9 201.3,280.1 201.5,281.1 201.6,276.4 201.8,283.8 202.0,281.7 202.1,279.3 202.3,283.9 202.4,279.8 202.6,280.2 202.7,280.4 202.9,296.5 203.1,283.4 203.2,279.7 203.4,283.6 203.5,290.7 203.7,289.8 203.9,277.5 204.0,271.4 204.2,275.4 204.3,289.4 204.5,287.6 204.6,282.0 204.8,282.8 205.0,283.4 205.1,285.3 205.3,286.1 205.4,289.2 205.6,284.4 205.8,272.2 205.9,283.1 206.1,285.2 206.2,278.2 206.4,275.6 206.5,280.3 206.7,280.5 206.9,282.3 207.0,288.5 207.2,280.3 207.3,282.3 207.5,311.9 207.7,283.3 207.8,284.7 208.0,280.1 208.1,286.9 208.3,281.5 208.4,272.2 208.6,295.6 208.8,279.0 208.9,267.3 209.1,277.1 209.2,291.2 209.4,281.9 209.6,288.4 209.7,284.1 209.9,289.4 210.0,286.0 210.2,281.3 210.4,287.0 210.5,279.9 210.7,279.8 210.8,297.4 211.0,294.2 211.1,273.5 211.3,271.9 211.5,286.0 211.6,278.5 211.8,286.1 211.9,281.8 212.1,288.7 212.3,284.6 212.4,275.3 212.6,280.0 212.7,290.5 212.9,283.6 213.0,287.7 213.2,277.9 213.4,278.7 213.5,287.8 213.7,278.9 213.8,276.1 214.0,284.5 214.2,294.7 214.3,278.1 214.5,278.4 214.6,255.0 214.8,286.7 214.9,284.9 215.1,283.6 215.3,284.2 215.4,300.0 215.6,288.9 215.7,292.9 215.9,292.1 216.1,278.1 216.2,268.2 216.4,277.5 216.5,287.7 216.7,276.3 216.8,288.7 217.0,280.2 217.2,285.7 217.3,289.1 217.5,276.5 217.6,282.6 217.8,277.8 218.0,282.7 218.1,280.7 218.3,287.5 218.4,288.0 218.6,275.6 218.8,289.6 218.9,268.2 219.1,287.7 219.2,284.0 219.4,279.9 219.5,285.7 219.7,276.8 219.9,283.4 220.0,283.8 220.2,275.8 220.3,276.9 220.5,283.7 220.7,283.0 220.8,279.2 221.0,285.2 221.1,271.3 221.3,280.1 221.4,279.0 221.6,288.6 221.8,288.5 221.9,292.0 222.1,278.5 222.2,276.2 222.4,280.9 222.6,277.9 222.7,275.7 222.9,287.4 223.0,272.4 223.2,283.3 223.3,277.5 223.5,292.2 223.7,277.7 223.8,285.3 224.0,304.7 224.1,289.1 224.3,299.8 224.5,267.3 224.6,267.7 224.8,277.5 224.9,289.0 225.1,284.9 225.2,299.5 225.4,282.3 225.6,283.9 225.7,271.3 225.9,279.6 226.0,280.2 226.2,284.5 226.4,279.7 226.5,289.6 226.7,275.0 226.8,294.0 227.0,286.8 227.2,283.7 227.3,285.4 227.5,287.0 227.6,275.1 227.8,283.9 227.9,284.1 228.1,276.8 228.3,280.6 228.4,293.0 228.6,278.6 228.7,282.2 228.9,292.5 229.1,290.0 229.2,275.9 229.4,282.3 229.5,285.9 229.7,286.3 229.8,278.9 230.0,287.7 230.2,284.2 230.3,291.3 230.5,281.1 230.6,280.7 230.8,281.4 231.0,279.2 231.1,291.1 231.3,273.8 231.4,290.9 231.6,289.7 231.7,291.7 231.9,287.1 232.1,288.4 232.2,279.8 232.4,285.2 232.5,283.6 232.7,289.1 232.9,278.8 233.0,278.4 233.2,280.0 233.3,284.5 233.5,275.1 233.6,286.3 233.8,290.3 234.0,269.8 234.1,280.7 234.3,285.7 234.4,280.0 234.6,280.5 234.8,284.3 234.9,283.7 235.1,290.9 235.2,283.8 235.4,278.5 235.6,280.7 235.7,279.4 235.9,284.7 236.0,280.8 236.2,280.1 236.3,278.6 236.5,267.3 236.7,285.7 236.8,289.7 237.0,288.3 237.1,284.1 237.3,293.4 237.5,273.6 237.6,282.6 237.8,293.5 237.9,287.1 238.1,281.1 238.2,275.3 238.4,288.7 238.6,285.8 238.7,273.1 238.9,284.5 239.0,291.4 239.2,288.9 239.4,287.3 239.5,279.3 239.7,284.9 239.8,279.9 240.0,292.3 240.1,286.3 240.3,297.3 240.5,270.1 240.6,287.2 240.8,298.4 240.9,286.1 241.1,286.7 241.3,277.8 241.4,287.2 241.6,286.7 241.7,280.4 241.9,282.5 242.0,290.4 242.2,274.9 242.4,282.7 242.5,290.0 242.7,292.1 242.8,288.5 243.0,290.1 243.2,285.5 243.3,281.8 243.5,290.4 243.6,275.6 243.8,272.1 244.0,279.1 244.1,287.7 244.3,282.9 244.4,280.1 244.6,284.7 244.7,295.0 244.9,291.1 245.1,282.4 245.2,283.4 245.4,274.3 245.5,277.5 245.7,274.5 245.9,281.2 246.0,272.1 246.2,278.2 246.3,281.6 246.5,288.6 246.6,283.0 246.8,283.6 247.0,293.0 247.1,283.2 247.3,291.0 247.4,285.4 247.6,286.4 247.8,282.4 247.9,286.6 248.1,283.2 248.2,282.3 248.4,300.0 248.5,295.7 248.7,286.9 248.9,281.8 249.0,281.3 249.2,292.3 249.3,278.5 249.5,275.7 249.7,283.1 249.8,278.0 250.0,285.5 250.1,283.8 250.3,286.5 250.4,285.3 250.6,281.9 250.8,279.1 250.9,281.2 251.1,284.1 251.2,288.1 251.4,279.2 251.6,287.8 251.7,282.2 251.9,269.0 252.0,288.8 252.2,282.0 252.4,282.4 252.5,271.4 252.7,288.2 252.8,279.6 253.0,293.9 253.1,287.6 253.3,277.3 253.5,282.6 253.6,284.1 253.8,280.6 253.9,285.3 254.1,289.2 254.3,282.8 254.4,285.0 254.6,283.0 254.7,288.3 254.9,288.7 255.0,281.9 255.2,278.0 255.4,284.7 255.5,281.9 255.7,283.8 255.8,286.0 256.0,288.4 256.2,282.5 256.3,279.6 256.5,284.5 256.6,290.2 256.8,282.9 256.9,286.4 257.1,281.3 257.3,286.6 257.4,282.4 257.6,287.1 257.7,286.2 257.9,289.7 258.1,281.8 258.2,294.8 258.4,281.2 258.5,287.1 258.7,285.0 258.8,282.5 259.0,278.7 259.2,273.9 259.3,285.7 259.5,279.0 259.6,277.4 259.8,278.9 260.0,290.3 260.1,285.4 260.3,283.7 260.4,289.8 260.6,281.9 260.8,287.3 260.9,278.5 261.1,286.1 261.2,280.9 261.4,295.3 261.5,277.2 261.7,282.7 261.9,277.7 262.0,292.9 262.2,273.6 262.3,281.6 262.5,280.1 262.7,284.3 262.8,275.2 263.0,282.6 263.1,279.5 263.3,284.3 263.4,290.2 263.6,282.8 263.8,292.9 263.9,285.9 264.1,285.4 264.2,286.3 264.4,281.6 264.6,277.9 264.7,279.0 264.9,289.9 265.0,282.8 265.2,280.0 265.3,282.4 265.5,280.2 265.7,293.5 265.8,296.7 266.0,293.0 266.1,293.3 266.3,283.2 266.5,279.2 266.6,274.7 266.8,277.6 266.9,253.3 267.1,280.2 267.2,303.5 267.4,284.3 267.6,279.9 267.7,289.7 267.9,279.3 268.0,276.0 268.2,284.9 268.4,284.9 268.5,279.5 268.7,283.6 268.8,279.1 269.0,274.8 269.2,287.7 269.3,280.0 269.5,290.8 269.6,288.2 269.8,290.8 269.9,291.4 270.1,279.8 270.3,288.9 270.4,287.8 270.6,283.2 270.7,267.3 270.9,293.4 271.1,300.0 271.2,287.4 271.4,282.6 271.5,290.4 271.7,285.0 271.8,285.5 272.0,280.2 272.2,286.6 272.3,288.1 272.5,283.8 272.6,280.8 272.8,272.3 273.0,283.5 273.1,277.0 273.3,276.8 273.4,282.0 273.6,289.4 273.7,281.7 273.9,281.6 274.1,287.8 274.2,294.4 274.4,285.2 274.5,290.6 274.7,275.2 274.9,285.8 275.0,283.2 275.2,284.8 275.3,281.8 275.5,314.3 275.6,287.3 275.8,296.7 276.0,291.3 276.1,281.7 276.3,289.8 276.4,286.9 276.6,281.2 276.8,278.0 276.9,284.9 277.1,292.8 277.2,280.5 277.4,299.0 277.6,288.7 277.7,288.5 277.9,285.0 278.0,317.8 278.2,282.9 278.3,275.0 278.5,282.0 278.7,279.2 278.8,299.9 279.0,296.3 279.1,287.7 279.3,290.1 279.5,278.2 279.6,282.9 279.8,286.9 279.9,289.8 280.1,279.7 280.2,280.7 280.4,285.7 280.6,267.3 280.7,282.9 280.9,286.6 281.0,282.5 281.2,283.7 281.4,286.3 281.5,277.9 281.7,298.1 281.8,283.3 282.0,281.9 282.1,292.8 282.3,285.9 282.5,277.9 282.6,256.0 282.8,282.6 282.9,284.0 283.1,282.1 283.3,277.8 283.4,280.2 283.6,282.7 283.7,289.0 283.9,290.6 284.0,279.5 284.2,276.6 284.4,276.7 284.5,285.3 284.7,288.4 284.8,290.9 285.0,274.0 285.2,268.1 285.3,282.3 285.5,284.2 285.6,297.0 285.8,266.2 286.0,282.6 286.1,260.6 286.3,292.2 286.4,267.2 286.6,268.5 286.7,280.2 286.9,290.5 287.1,290.4 287.2,282.5 287.4,283.1 287.5,290.1 287.7,276.6 287.9,296.4 288.0,255.0 288.2,279.8 288.3,285.7 288.5,288.8 288.6,319.0 288.8,299.6 289.0,265.7 289.1,281.8 289.3,264.6 289.4,286.2 289.6,282.2 289.8,309.5 289.9,272.6 290.1,286.8 290.2,285.8 290.4,284.8 290.5,308.9 290.7,287.0 290.9,266.4 291.0,273.2 291.2,283.0 291.3,280.1 291.5,279.8 291.7,284.0 291.8,298.9 292.0,295.8 292.1,274.1 292.3,295.2 292.4,281.6 292.6,274.1 292.8,289.7 292.9,277.8 293.1,257.7 293.2,290.4 293.4,270.1 293.6,281.4 293.7,283.2 293.9,267.5 294.0,291.8 294.2,283.1 294.4,293.4 294.5,281.5 294.7,277.9 294.8,290.6 295.0,284.8 295.1,279.0 295.3,285.3 295.5,277.2 295.6,276.8 295.8,252.6 295.9,268.1 296.1,275.5 296.3,299.1 296.4,290.6 296.6,325.0 296.7,274.6 296.9,284.7 297.0,290.0 297.2,289.0 297.4,269.7 297.5,275.6 297.7,285.1 297.8,287.5 298.0,299.0 298.2,279.9 298.3,296.9 298.5,294.6 298.6,247.8 298.8,299.6 298.9,278.1 299.1,276.6 299.3,299.4 299.4,286.4 299.6,290.6 299.7,282.4 299.9,280.3 300.1,283.7 300.2,290.2 300.4,271.7 300.5,311.9 300.7,289.9 300.8,264.5 301.0,286.0 301.2,294.6 301.3,267.1 301.5,278.6 301.6,285.4 301.8,281.5 302.0,277.4 302.1,302.2 302.3,281.8 302.4,289.7 302.6,285.4 302.8,283.0 302.9,297.0 303.1,281.6 303.2,303.6 303.4,309.4 303.5,293.0 303.7,277.0 303.9,277.4 304.0,271.3 304.2,266.1 304.3,279.6 304.5,257.7 304.7,283.8 304.8,281.7 305.0,262.9 305.1,288.5 305.3,265.7 305.4,306.7 305.6,283.4 305.8,281.1 305.9,286.6 306.1,269.7 306.2,276.1 306.4,286.7 306.6,294.0 306.7,287.8 306.9,294.5 307.0,294.2 307.2,299.1 307.3,297.5 307.5,292.9 307.7,287.8 307.8,289.5 308.0,281.8 308.1,299.2 308.3,309.5 308.5,283.3 308.6,286.0 308.8,288.9 308.9,258.6 309.1,287.3 309.2,287.1 309.4,284.4 309.6,281.3 309.7,273.6 309.9,263.0 310.0,283.8 310.2,277.1 310.4,302.0 310.5,282.2 310.7,276.8 310.8,276.1 311.0,276.2 311.2,282.3 311.3,285.9 311.5,288.9 311.6,290.6 311.8,298.4 311.9,277.1 312.1,277.8 312.3,276.0 312.4,286.4 312.6,285.2 312.7,279.1 312.9,293.8 313.1,271.1 313.2,276.5 313.4,282.2 313.5,311.9 313.7,272.3 313.8,278.8 314.0,297.2 314.2,273.2 314.3,288.5 314.5,286.2 314.6,279.4 314.8,280.5 315.0,295.1 315.1,275.8 315.3,285.6 315.4,275.9 315.6,285.2 315.7,299.0 315.9,271.8 316.1,290.1 316.2,278.1 316.4,287.9 316.5,285.1 316.7,261.3 316.9,301.3 317.0,268.9 317.2,284.4 317.3,283.9 317.5,287.3 317.6,299.7 317.8,278.9 318.0,272.0 318.1,279.5 318.3,257.7 318.4,282.6 318.6,287.9 318.8,284.8 318.9,279.1 319.1,304.3 319.2,284.8 319.4,259.1 319.6,279.4 319.7,293.2 319.9,293.9 320.0,280.6 320.2,293.0 320.3,291.6 320.5,285.4 320.7,276.8 320.8,290.7 321.0,283.3 321.1,285.5 321.3,271.3 321.5,270.9 321.6,285.8 321.8,280.3 321.9,289.7 322.1,281.5 322.2,292.1 322.4,291.1 322.6,286.0 322.7,286.6 322.9,283.6 323.0,278.8 323.2,281.9 323.4,269.1 323.5,287.9 323.7,272.5 323.8,286.8 324.0,274.3 324.1,291.4 324.3,286.9 324.5,284.8 324.6,289.9 324.8,287.7 324.9,286.1 325.1,279.3 325.3,281.0 325.4,279.3 325.6,281.6 325.7,288.6 325.9,273.5 326.0,285.8 326.2,284.8 326.4,272.7 326.5,284.7 326.7,297.2 326.8,329.8 327.0,285.6 327.2,282.2 327.3,275.7 327.5,271.5 327.6,283.1 327.8,293.1 328.0,279.0 328.1,269.2 328.3,279.1 328.4,288.6 328.6,291.2 328.7,280.2 328.9,284.2 329.1,281.7 329.2,290.7 329.4,291.2 329.5,288.9 329.7,285.7 329.9,278.1 330.0,274.8 330.2,290.5 330.3,282.3 330.5,286.5 330.6,273.3 330.8,284.5 331.0,289.8 331.1,274.2 331.3,273.7 331.4,276.8 331.6,296.3 331.8,287.7 331.9,280.9 332.1,276.2 332.2,287.1 332.4,287.8 332.5,271.4 332.7,288.8 332.9,301.5 333.0,289.8 333.2,265.7 333.3,287.8 333.5,286.2 333.7,282.6 333.8,290.7 334.0,288.8 334.1,270.0 334.3,286.7 334.4,284.3 334.6,278.6 334.8,280.6 334.9,281.3 335.1,278.3 335.2,291.0 335.4,278.3 335.6,275.4 335.7,287.7 335.9,265.7 336.0,287.0 336.2,278.7 336.4,274.8 336.5,279.6 336.7,294.0 336.8,279.5 337.0,278.7 337.1,294.1 337.3,283.8 337.5,265.7 337.6,284.0 337.8,278.2 337.9,282.9 338.1,284.6 338.3,275.2 338.4,285.6 338.6,272.4 338.7,281.5 338.9,276.5 339.0,285.0 339.2,290.3 339.4,288.1 339.5,282.2 339.7,277.2 339.8,280.8 340.0,286.8 340.2,290.0 340.3,281.3 340.5,284.4 340.6,287.0 340.8,279.0 340.9,290.1 341.1,286.2 341.3,286.2 341.4,282.1 341.6,279.0 341.7,281.4 341.9,290.0 342.1,271.9 342.2,287.0 342.4,277.6 342.5,282.5 342.7,283.0 342.8,282.5 343.0,285.5 343.2,280.7 343.3,282.8 343.5,290.8 343.6,290.5 343.8,290.2 344.0,282.9 344.1,285.6 344.3,288.0 344.4,282.9 344.6,284.2 344.8,287.9 344.9,285.0 345.1,276.7 345.2,291.1 345.4,278.8 345.5,292.4 345.7,287.9 345.9,274.9 346.0,289.6 346.2,291.2 346.3,285.7 346.5,280.6 346.7,283.3 346.8,286.6 347.0,292.4 347.1,281.9 347.3,284.3 347.4,284.8 347.6,278.3 347.8,288.5 347.9,282.5 348.1,289.6 348.2,286.0 348.4,280.4 348.6,287.4 348.7,282.3 348.9,276.7 349.0,283.0 349.2,283.6 349.3,289.9 349.5,273.7 349.7,291.4 349.8,284.3 350.0,278.6 350.1,275.9 350.3,288.8 350.5,284.7 350.6,289.1 350.8,282.2 350.9,276.1 351.1,277.7 351.2,286.3 351.4,295.6 351.6,290.6 351.7,272.4 351.9,273.8 352.0,295.6 352.2,273.6 352.4,275.6 352.5,276.4 352.7,279.2 352.8,289.7 353.0,257.4 353.2,286.2 353.3,287.5 353.5,283.3 353.6,290.3 353.8,286.8 353.9,288.0 354.1,290.6 354.3,288.8 354.4,293.4 354.6,288.0 354.7,286.0 354.9,282.8 355.1,289.8 355.2,284.8 355.4,293.7 355.5,292.2 355.7,280.5 355.8,298.1 356.0,288.8 356.2,275.3 356.3,284.2 356.5,287.1 356.6,284.4 356.8,279.8 357.0,282.9 357.1,278.2 357.3,289.3 357.4,288.7 357.6,293.0 357.7,281.2 357.9,279.4 358.1,283.1 358.2,276.8 358.4,281.3 358.5,278.6 358.7,282.5 358.9,289.8 359.0,296.7 359.2,286.2 359.3,284.2 359.5,267.7 359.6,282.5 359.8,285.2 360.0,285.1 360.1,285.9 360.3,289.8 360.4,276.5 360.6,281.5 360.8,289.3 360.9,281.1 361.1,286.8 361.2,282.7 361.4,287.5 361.6,284.6 361.7,283.6 361.9,277.4 362.0,284.4 362.2,289.9 362.3,275.9 362.5,284.9 362.7,287.4 362.8,301.6 363.0,277.8 363.1,289.5 363.3,281.3 363.5,280.5 363.6,281.3 363.8,277.6 363.9,287.0 364.1,277.2 364.2,281.8 364.4,287.0 364.6,291.2 364.7,279.0 364.9,271.3 365.0,291.3 365.2,277.1 365.4,285.7 365.5,282.2 365.7,276.0 365.8,265.7 366.0,289.5 366.1,282.3 366.3,267.9 366.5,289.1 366.6,271.9 366.8,284.7 366.9,287.3 367.1,291.4 367.3,279.9 367.4,285.6 367.6,274.7 367.7,297.8 367.9,287.7 368.0,291.6 368.2,281.0 368.4,281.1 368.5,289.0 368.7,273.2 368.8,296.1 369.0,278.3 369.2,285.4 369.3,285.5 369.5,278.4 369.6,280.3 369.8,277.6 370.0,296.0 370.1,275.2 370.3,285.5 370.4,286.1 370.6,287.3 370.7,278.1 370.9,289.8 371.1,274.1 371.2,283.8 371.4,288.2 371.5,278.4 371.7,290.4 371.9,273.5 372.0,281.1 372.2,275.7 372.3,285.1 372.5,276.7 372.6,274.8 372.8,273.9 373.0,281.0 373.1,283.3 373.3,293.8 373.4,274.3 373.6,282.0 373.8,275.3 373.9,281.6 374.1,283.3 374.2,274.9 374.4,270.0 374.5,279.6 374.7,280.9 374.9,287.9 375.0,285.5 375.2,282.4 375.3,289.8 375.5,283.1 375.7,276.2 375.8,272.0 376.0,272.6 376.1,301.6 376.3,282.2 376.4,277.4 376.6,288.0 376.8,275.4 376.9,310.7 377.1,286.4 377.2,276.6 377.4,286.9 377.6,276.1 377.7,279.2 377.9,280.6 378.0,289.4 378.2,279.5 378.4,284.4 378.5,279.5 378.7,282.5 378.8,282.4 379.0,282.7 379.1,278.2 379.3,281.1 379.5,284.3 379.6,283.6 379.8,293.0 379.9,283.3 380.1,290.0 380.3,292.1 380.4,280.2 380.6,251.4 380.7,284.6 380.9,275.3 381.0,282.8 381.2,279.9 381.4,275.0 381.5,279.6 381.7,288.9 381.8,290.7 382.0,268.7 382.2,283.2 382.3,301.6 382.5,281.9 382.6,287.9 382.8,289.3 382.9,275.6 383.1,273.1 383.3,277.5 383.4,291.6 383.6,285.3 383.7,295.6 383.9,282.8 384.1,298.8 384.2,273.8 384.4,288.6 384.5,285.1 384.7,276.1 384.8,281.5 385.0,285.7 385.2,276.4 385.3,301.6 385.5,272.8 385.6,273.2 385.8,283.5 386.0,283.8 386.1,280.1 386.3,281.6 386.4,246.6 386.6,291.8 386.8,286.2 386.9,274.6 387.1,289.6 387.2,281.6 387.4,296.3 387.5,285.4 387.7,285.7 387.9,299.5 388.0,278.7 388.2,289.7 388.3,279.0 388.5,276.5 388.7,286.0 388.8,287.9 389.0,280.5 389.1,286.1 389.3,288.0 389.4,285.6 389.6,273.0 389.8,278.9 389.9,292.2 390.1,273.1 390.2,280.3 390.4,281.7 390.6,279.0 390.7,284.1 390.9,293.5 391.0,289.1 391.2,281.5 391.3,279.5 391.5,283.0 391.7,283.1 391.8,265.7 392.0,278.8 392.1,283.0 392.3,289.6 392.5,281.5 392.6,282.2 392.8,295.1 392.9,292.5 393.1,284.5 393.2,291.4 393.4,280.5 393.6,290.5 393.7,273.0 393.9,281.8 394.0,288.6 394.2,279.6 394.4,287.5 394.5,279.5 394.7,284.3 394.8,283.3 395.0,289.4 395.2,293.1 395.3,282.4 395.5,277.7 395.6,288.6 395.8,276.6 395.9,282.3 396.1,286.2 396.3,273.5 396.4,277.2 396.6,285.8 396.7,279.7 396.9,287.4 397.1,272.4 397.2,278.9 397.4,292.4 397.5,290.7 397.7,285.1 397.8,283.3 398.0,284.8 398.2,287.1 398.3,280.7 398.5,279.4 398.6,278.7 398.8,276.0 399.0,297.1 399.1,279.3 399.3,281.3 399.4,286.1 399.6,291.6 399.7,283.1 399.9,276.6 400.1,289.2 400.2,301.6 400.4,291.8 400.5,285.1 400.7,290.6 400.9,276.7 401.0,275.5 401.2,278.0 401.3,274.4 401.5,283.6 401.6,286.5 401.8,292.7 402.0,261.0 402.1,280.9 402.3,281.3 402.4,273.9 402.6,278.7 402.8,290.5 402.9,283.0 403.1,290.1 403.2,284.4 403.4,283.9 403.6,287.3 403.7,272.5 403.9,289.9 404.0,279.4 404.2,297.9 404.3,289.7 404.5,283.3 404.7,284.2 404.8,279.4 405.0,281.6 405.1,282.5 405.3,283.6 405.5,281.0 405.6,286.4 405.8,287.9 405.9,288.1 406.1,283.7 406.2,280.7 406.4,284.2 406.6,273.0 406.7,277.5 406.9,271.6 407.0,281.6 407.2,289.9 407.4,287.6 407.5,281.2 407.7,290.1 407.8,285.4 408.0,276.3 408.1,276.4 408.3,268.8 408.5,300.2 408.6,294.9 408.8,293.4 408.9,276.6 409.1,298.2 409.3,277.8 409.4,288.6 409.6,280.1 409.7,288.7 409.9,281.7 410.0,285.4 410.2,297.2 410.4,287.0 410.5,289.1 410.7,285.4 410.8,288.8 411.0,298.2 411.2,286.3 411.3,301.6 411.5,266.7 411.6,278.0 411.8,286.7 412.0,294.2 412.1,274.6 412.3,275.1 412.4,285.3 412.6,289.9 412.7,287.7 412.9,273.0 413.1,284.4 413.2,282.3 413.4,292.0 413.5,287.0 413.7,276.7 413.9,290.0 414.0,276.5 414.2,283.5 414.3,282.7 414.5,275.7 414.6,286.2 414.8,292.6 415.0,288.3 415.1,288.3 415.3,280.3 415.4,288.2 415.6,276.1 415.8,283.4 415.9,288.1 416.1,284.9 416.2,288.8 416.4,290.9 416.5,284.3 416.7,300.3 416.9,277.0 417.0,293.7 417.2,290.0 417.3,291.5 417.5,282.0 417.7,286.8 417.8,287.4 418.0,276.4 418.1,277.5 418.3,285.7 418.5,285.9 418.6,282.3 418.8,297.3 418.9,263.7 419.1,283.7 419.2,291.5 419.4,278.1 419.6,277.5 419.7,266.5 419.9,276.6 420.0,291.7 420.2,281.0 420.4,288.6 420.5,297.4 420.7,283.7 420.8,285.0 421.0,278.7 421.1,277.8 421.3,293.2 421.5,282.8 421.6,273.6 421.8,282.5 421.9,283.2 422.1,283.9 422.3,278.2 422.4,287.8 422.6,300.6 422.7,297.0 422.9,294.7 423.0,284.0 423.2,275.0 423.4,280.1 423.5,290.6 423.7,287.9 423.8,271.9 424.0,277.0 424.2,287.9 424.3,282.9 424.5,281.3 424.6,287.4 424.8,285.2 424.9,288.8 425.1,272.9 425.3,285.1 425.4,289.7 425.6,281.1 425.7,292.7 425.9,278.3 426.1,297.0 426.2,282.3 426.4,285.4 426.5,281.0 426.7,272.8 426.9,303.6 427.0,287.4 427.2,275.8 427.3,278.1 427.5,275.9 427.6,282.2 427.8,273.1 428.0,286.2 428.1,288.0 428.3,291.9 428.4,290.2 428.6,290.8 428.8,271.8 428.9,281.5 429.1,285.6 429.2,286.3 429.4,289.9 429.5,278.1 429.7,281.5 429.9,303.6 430.0,287.2 430.2,278.9 430.3,281.7 430.5,281.2 430.7,281.5 430.8,275.9 431.0,287.5 431.1,280.8 431.3,292.7 431.4,279.3 431.6,282.2 431.8,290.1 431.9,285.3 432.1,282.7 432.2,279.3 432.4,298.8 432.6,281.8 432.7,292.5 432.9,277.9 433.0,299.7 433.2,281.5 433.3,292.6 433.5,301.0 433.7,292.2 433.8,280.1 434.0,281.5 434.1,285.2 434.3,288.9 434.5,283.3 434.6,284.8 434.8,294.6 434.9,278.2 435.1,289.6 435.3,269.6 435.4,276.0 435.6,283.8 435.7,287.2 435.9,273.2 436.0,288.9 436.2,279.6 436.4,281.3 436.5,278.1 436.7,279.7 436.8,271.6 437.0,270.6 437.2,285.5 437.3,276.3 437.5,276.4 437.6,302.4 437.8,288.3 437.9,280.1 438.1,283.9 438.3,276.1 438.4,284.8 438.6,302.7 438.7,278.3 438.9,278.3 439.1,279.6 439.2,279.6 439.4,281.2 439.5,286.8 439.7,277.3 439.8,280.8 440.0,276.1 440.2,263.7 440.3,294.0 440.5,278.2 440.6,276.4 440.8,282.4 441.0,269.9 441.1,265.9 441.3,290.8 441.4,291.9 441.6,282.6 441.7,280.2 441.9,295.5 442.1,287.6 442.2,295.2 442.4,278.7 442.5,289.9 442.7,273.1 442.9,278.6 443.0,286.7 443.2,287.6 443.3,281.1 443.5,281.8 443.7,284.2 443.8,290.5 444.0,272.3 444.1,279.3 444.3,275.5 444.4,292.1 444.6,271.1 444.8,275.9 444.9,285.2 445.1,291.7 445.2,285.9 445.4,274.9 445.6,275.2 445.7,290.6 445.9,303.6 446.0,279.3 446.2,288.0 446.3,281.7 446.5,287.4 446.7,290.7 446.8,293.0 447.0,287.5 447.1,273.6 447.3,290.0 447.5,287.1 447.6,283.9 447.8,284.8 447.9,299.9 448.1,277.2 448.2,278.0 448.4,303.6 448.6,280.8 448.7,295.1 448.9,286.9 449.0,267.6 449.2,283.0 449.4,278.4 449.5,287.6 449.7,288.2 449.8,282.4 450.0,275.9 450.1,281.3 450.3,275.5 450.5,286.4 450.6,289.7 450.8,274.5 450.9,289.0 451.1,303.6 451.3,285.9 451.4,280.8 451.6,286.2 451.7,286.7 451.9,279.1 452.1,291.1 452.2,276.2 452.4,284.4 452.5,289.1 452.7,279.1 452.8,281.7 453.0,285.5 453.2,276.7 453.3,287.2 453.5,302.9 453.6,282.5 453.8,287.9 454.0,285.2 454.1,279.0 454.3,270.6 454.4,291.7 454.6,275.4 454.7,281.7 454.9,296.1 455.1,283.3 455.2,284.4 455.4,277.2 455.5,274.5 455.7,275.8 455.9,286.7 456.0,289.6 456.2,281.2 456.3,283.3 456.5,282.1 456.6,278.8 456.8,256.0 457.0,280.4 457.1,291.8 457.3,285.1 457.4,288.6 457.6,284.3 457.8,287.1 457.9,276.8 458.1,271.8 458.2,285.2 458.4,271.1 458.5,288.6 458.7,289.4 458.9,291.0 459.0,277.9 459.2,284.0 459.3,283.6 459.5,280.6 459.7,288.3 459.8,283.8 460.0,282.7 460.1,287.9 460.3,278.3 460.5,283.5 460.6,271.9 460.8,279.5 460.9,284.6 461.1,277.8 461.2,296.9 461.4,284.2 461.6,275.8 461.7,281.5 461.9,284.9 462.0,290.1 462.2,279.0 462.4,275.5 462.5,280.5 462.7,281.5 462.8,287.8 463.0,281.7 463.1,263.7 463.3,295.4 463.5,277.3 463.6,290.0 463.8,285.9 463.9,277.2 464.1,290.7 464.3,275.3 464.4,279.8 464.6,277.8 464.7,277.4 464.9,285.1 465.0,278.4 465.2,285.4 465.4,279.2 465.5,285.8 465.7,286.6 465.8,287.4 466.0,279.9 466.2,284.7 466.3,288.4 466.5,294.3 466.6,277.6 466.8,276.6 466.9,288.9 467.1,288.1 467.3,291.3 467.4,274.9 467.6,293.0 467.7,276.4 467.9,290.5 468.1,289.2 468.2,287.0 468.4,288.5 468.5,290.4 468.7,255.0 468.9,294.3 469.0,286.7 469.2,279.3 469.3,302.9 469.5,290.6 469.6,282.5 469.8,277.8 470.0,287.2 470.1,299.0 470.3,287.3 470.4,317.8 470.6,284.2 470.8,282.0 470.9,280.9 471.1,277.1 471.2,289.1 471.4,299.0 471.5,282.6 471.7,279.3 471.9,287.4 472.0,273.1 472.2,288.2 472.3,273.7 472.5,280.7 472.7,273.8 472.8,293.2 473.0,278.3 473.1,279.4 473.3,271.6 473.4,291.7 473.6,291.7 473.8,296.7 473.9,286.3 474.1,276.4 474.2,285.4 474.4,287.9 474.6,278.5 474.7,283.9 474.9,295.7 475.0,292.1 475.2,293.2 475.3,275.2 475.5,276.2 475.7,281.7 475.8,277.1 476.0,269.2 476.1,286.9 476.3,288.5 476.5,286.9 476.6,272.7 476.8,293.2 476.9,283.7 477.1,291.6 477.3,281.7 477.4,287.2 477.6,281.7 477.7,269.7 477.9,277.4 478.0,279.6 478.2,277.6 478.4,285.1 478.5,263.9 478.7,266.1 478.8,289.3 479.0,271.5 479.2,280.0 479.3,294.7 479.5,283.6 479.6,295.7 479.8,284.4 479.9,282.1 480.1,280.1 480.3,264.9 480.4,267.5 480.6,291.1 480.7,293.3 480.9,275.8 481.1,285.7 481.2,284.9 481.4,287.2 481.5,275.0 481.7,278.7 481.8,285.8 482.0,285.5 482.2,287.0 482.3,293.6 482.5,274.3 482.6,287.8 482.8,276.8 483.0,279.6 483.1,282.8 483.3,279.5 483.4,278.8 483.6,281.2 483.7,273.5 483.9,284.9 484.1,278.1 484.2,287.7 484.4,287.8 484.5,287.5 484.7,287.0 484.9,281.9 485.0,293.8 485.2,292.1 485.3,275.5 485.5,281.1 485.7,271.3 485.8,283.9 486.0,273.1 486.1,284.5 486.3,266.6 486.4,272.1 486.6,275.9 486.8,290.4 486.9,287.0 487.1,294.5 487.2,286.0 487.4,298.8 487.6,292.2 487.7,278.7 487.9,289.5 488.0,286.4 488.2,288.1 488.3,296.4 488.5,275.8 488.7,296.8 488.8,293.4 489.0,277.4 489.1,278.5 489.3,278.8 489.5,296.2 489.6,291.6 489.8,278.1 489.9,280.5 490.1,276.4 490.2,291.8 490.4,280.6 490.6,283.5 490.7,283.2 490.9,272.7 491.0,281.1 491.2,289.5 491.4,295.8 491.5,281.5 491.7,291.6 491.8,292.9 492.0,287.4 492.1,290.7 492.3,282.1 492.5,284.5 492.6,285.1 492.8,290.3 492.9,295.4 493.1,284.4 493.3,282.0 493.4,283.5 493.6,282.5 493.7,274.5 493.9,277.3 494.1,288.3 494.2,277.8 494.4,272.7 494.5,274.4 494.7,295.2 494.8,289.6 495.0,271.2 495.2,287.7 495.3,289.6 495.5,279.2 495.6,296.0 495.8,279.6 496.0,284.4 496.1,287.9 496.3,277.8 496.4,269.0 496.6,286.9 496.7,270.8 496.9,276.2 497.1,286.5 497.2,300.0 497.4,286.2 497.5,278.1 497.7,279.6 497.9,269.0 498.0,299.8 498.2,283.4 498.3,291.0 498.5,276.8 498.6,287.2 498.8,288.7 499.0,276.9 499.1,288.9 499.3,296.4 499.4,301.2 499.6,283.5 499.8,280.7 499.9,282.5 500.1,300.3 500.2,288.3 500.4,288.2 500.5,296.7 500.7,272.3 500.9,292.5 501.0,299.8 501.2,284.1 501.3,272.7 501.5,277.7 501.7,290.9 501.8,300.2 502.0,281.8 502.1,287.1 502.3,279.0 502.5,283.7 502.6,291.9 502.8,287.4 502.9,283.2 503.1,289.3 503.2,278.5 503.4,297.2 503.6,282.1 503.7,276.3 503.9,283.8 504.0,296.8 504.2,289.7 504.4,279.7 504.5,290.3 504.7,286.7 504.8,279.3 505.0,288.1 505.1,283.0 505.3,287.0 505.5,281.9 505.6,302.1 505.8,268.6 505.9,284.6 506.1,278.9 506.3,272.2 506.4,276.3 506.6,280.1 506.7,284.5 506.9,287.2 507.0,291.0 507.2,287.4 507.4,287.7 507.5,281.1 507.7,293.0 507.8,272.9 508.0,284.5 508.2,281.4 508.3,271.4 508.5,282.2 508.6,286.3 508.8,283.3 508.9,273.7 509.1,288.8 509.3,302.3 509.4,294.4 509.6,285.0 509.7,279.2 509.9,295.9 510.1,275.4 510.2,277.8 510.4,284.2 510.5,289.9 510.7,297.1 510.9,289.1 511.0,291.0 511.2,287.5 511.3,282.2 511.5,285.6 511.6,274.9 511.8,280.5 512.0,276.0 512.1,269.8 512.3,282.8 512.4,281.5 512.6,278.5 512.8,285.8 512.9,277.8 513.1,274.2 513.2,317.8 513.4,276.6 513.5,280.0 513.7,285.1 513.9,282.4 514.0,293.2 514.2,285.0 514.3,273.6 514.5,285.9 514.7,273.5 514.8,287.2 515.0,264.3 515.1,292.5 515.3,285.4 515.4,286.5 515.6,287.4 515.8,280.3 515.9,287.6 516.1,288.1 516.2,294.6 516.4,273.9 516.6,295.5 516.7,282.8 516.9,272.1 517.0,292.6 517.2,277.1 517.3,286.1 517.5,272.8 517.7,252.6 517.8,274.1 518.0,283.2 518.1,286.1 518.3,281.8 518.5,273.0 518.6,285.3 518.8,278.5 518.9,274.4 519.1,299.6 519.3,292.4 519.4,292.8 519.6,276.3 519.7,281.5 519.9,278.3 520.0,281.5 520.2,277.1 520.4,286.4 520.5,277.4 520.7,287.6 520.8,292.8 521.0,284.3 521.2,266.7 521.3,277.0 521.5,284.0 521.6,291.8 521.8,286.4 521.9,288.0 522.1,290.1 522.3,301.2 522.4,274.9 522.6,295.0 522.7,289.8 522.9,282.1 523.1,274.7 523.2,285.6 523.4,288.9 523.5,290.5 523.7,282.7 523.8,283.6 524.0,279.1 524.2,285.4 524.3,289.0 524.5,282.5 524.6,285.3 524.8,288.6 525.0,278.7 525.1,272.0 525.3,289.7 525.4,296.4 525.6,295.5 525.7,279.6 525.9,277.2 526.1,271.8 526.2,281.9 526.4,286.8 526.5,289.1 526.7,285.1 526.9,297.3 527.0,281.0 527.2,263.7 527.3,271.7 527.5,282.8 527.7,279.1 527.8,286.5 528.0,282.1 528.1,280.1 528.3,274.7 528.4,294.6 528.6,273.9 528.8,289.4 528.9,287.9 529.1,273.1 529.2,289.6 529.4,277.5 529.6,277.1 529.7,279.5 529.9,278.9 530.0,279.1 530.2,278.3 530.3,284.0 530.5,292.4 530.7,284.1 530.8,289.6 531.0,289.4 531.1,283.9 531.3,279.1 531.5,279.7 531.6,271.3 531.8,273.5 531.9,286.2 532.1,285.1 532.2,285.1 532.4,282.2 532.6,279.9 532.7,281.1 532.9,277.1 533.0,287.5 533.2,270.8 533.4,277.3 533.5,283.0 533.7,293.0 533.8,296.6 534.0,279.7 534.1,276.2 534.3,278.8 534.5,279.3 534.6,290.8 534.8,286.3 534.9,285.4 535.1,280.9 535.3,277.0 535.4,288.8 535.6,281.7 535.7,281.0 535.9,291.0 536.1,291.4 536.2,275.8 536.4,288.2 536.5,293.5 536.7,253.8 536.8,266.5 537.0,283.4 537.2,286.5 537.3,279.4 537.5,284.4 537.6,267.3 537.8,290.8 538.0,271.9 538.1,288.8 538.3,284.6 538.4,284.3 538.6,281.4 538.7,273.4 538.9,278.0 539.1,290.7 539.2,282.3 539.4,283.5 539.5,281.8 539.7,273.3 539.9,280.2 540.0,287.1 540.2,288.6 540.3,288.1 540.5,283.0 540.6,290.0 540.8,287.2 541.0,295.2 541.1,272.7 541.3,281.2 541.4,287.7" fill="none" stroke="#50ff28" stroke-width="0.6" stroke-linejoin="miter"/>
</g></g>
</svg>
</body></html>
